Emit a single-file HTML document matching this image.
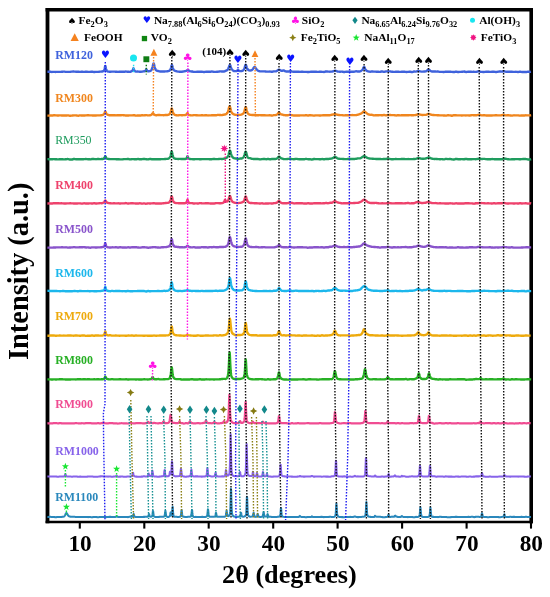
<!DOCTYPE html>
<html lang="en"><head><meta charset="utf-8"><title>XRD patterns of red mud calcined at different temperatures</title>
<style>html,body{margin:0;padding:0;background:#fff}body{width:550px;height:597px;overflow:hidden}svg{display:block}</style>
</head><body>
<svg width="550" height="597" viewBox="0 0 550 597" role="img" aria-label="XRD patterns">
<rect width="550" height="597" fill="#fff"/>
<g id="frame" stroke="#000" fill="none">
<line x1="47.5" y1="8" x2="47.5" y2="523.3" stroke-width="3.8"/>
<line x1="531.2" y1="8" x2="531.2" y2="523.3" stroke-width="3.6"/>
<line x1="45.6" y1="9.8" x2="533" y2="9.8" stroke-width="3.6"/>
<line x1="45.6" y1="522" x2="533" y2="522" stroke-width="2.6"/>
<line x1="79.8" y1="522" x2="79.8" y2="528.6" stroke-width="2.1"/>
<line x1="144.3" y1="522" x2="144.3" y2="528.6" stroke-width="2.1"/>
<line x1="208.7" y1="522" x2="208.7" y2="528.6" stroke-width="2.1"/>
<line x1="273.2" y1="522" x2="273.2" y2="528.6" stroke-width="2.1"/>
<line x1="337.6" y1="522" x2="337.6" y2="528.6" stroke-width="2.1"/>
<line x1="402.1" y1="522" x2="402.1" y2="528.6" stroke-width="2.1"/>
<line x1="466.6" y1="522" x2="466.6" y2="528.6" stroke-width="2.1"/>
<line x1="531.0" y1="522" x2="531.0" y2="528.6" stroke-width="2.1"/>
</g>
<g id="curves" fill="none" stroke-width="2.5" stroke-linejoin="round" stroke-linecap="butt">
<path d="M47.40 71.69 L48.15 71.68 L48.90 71.72 L49.65 71.76 L50.40 71.79 L51.15 71.88 L51.90 71.94 L52.65 71.92 L53.40 71.87 L54.15 71.86 L54.90 71.89 L55.65 71.93 L56.40 71.92 L57.15 71.87 L57.90 71.83 L58.65 71.84 L59.40 71.85 L60.15 71.85 L60.90 71.84 L61.65 71.82 L62.40 71.80 L63.15 71.67 L63.90 71.58 L64.65 71.66 L65.40 71.84 L66.15 71.91 L66.90 71.89 L67.65 71.87 L68.40 71.86 L69.15 71.86 L69.90 71.86 L70.65 71.79 L71.40 71.64 L72.15 71.58 L72.90 71.57 L73.65 71.57 L74.40 71.58 L75.15 71.64 L75.90 71.68 L76.65 71.69 L77.40 71.72 L78.15 71.74 L78.90 71.78 L79.65 71.83 L80.40 71.83 L81.15 71.81 L81.90 71.79 L82.65 71.81 L83.40 71.85 L84.15 71.86 L84.90 71.80 L85.65 71.72 L86.40 71.72 L87.15 71.78 L87.90 71.83 L88.65 71.83 L89.40 71.84 L90.15 71.84 L90.90 71.78 L91.65 71.71 L92.40 71.73 L93.15 71.89 L93.90 72.00 L94.65 71.96 L95.40 71.87 L96.15 71.84 L96.90 71.87 L97.65 71.90 L98.40 71.87 L99.15 71.74 L99.90 71.63 L100.65 71.59 L101.40 71.53 L102.15 71.45 L102.90 71.30 L103.15 71.21 L103.40 71.09 L103.65 70.92 L103.90 70.66 L104.15 70.26 L104.40 69.65 L104.65 68.71 L104.90 67.37 L105.15 66.06 L105.40 65.91 L105.65 67.09 L105.90 68.49 L106.15 69.52 L106.40 70.20 L106.65 70.64 L106.90 70.95 L107.15 71.16 L107.40 71.31 L107.65 71.43 L107.90 71.51 L108.15 71.57 L108.40 71.61 L108.65 71.64 L109.40 71.68 L110.15 71.71 L110.90 71.70 L111.65 71.67 L112.40 71.67 L113.15 71.65 L113.90 71.63 L114.65 71.64 L115.40 71.68 L116.15 71.70 L116.90 71.79 L117.65 71.91 L118.40 71.90 L119.15 71.76 L119.90 71.66 L120.65 71.69 L121.40 71.77 L122.15 71.80 L122.90 71.80 L123.65 71.81 L124.40 71.79 L125.15 71.66 L125.90 71.56 L126.65 71.60 L127.40 71.70 L128.15 71.73 L128.90 71.79 L129.65 71.84 L130.40 71.77 L131.15 71.46 L131.40 71.33 L131.65 71.20 L131.90 71.08 L132.15 70.93 L132.40 70.73 L132.65 70.41 L132.90 69.87 L133.15 69.08 L133.40 68.36 L133.65 68.49 L133.90 69.35 L134.15 70.13 L134.40 70.65 L134.65 70.98 L134.90 71.18 L135.15 71.32 L135.40 71.41 L135.65 71.48 L135.90 71.53 L136.15 71.56 L136.40 71.58 L136.65 71.58 L137.40 71.57 L138.15 71.57 L138.90 71.64 L139.65 71.73 L140.40 71.73 L141.15 71.68 L141.90 71.63 L142.65 71.56 L143.40 71.42 L144.15 71.29 L144.40 71.27 L144.65 71.25 L144.90 71.21 L145.15 71.12 L145.40 70.94 L145.65 70.59 L145.90 69.98 L146.15 69.25 L146.40 69.14 L146.65 69.78 L146.90 70.42 L147.15 70.82 L147.40 71.04 L147.65 71.16 L147.90 71.23 L148.15 71.26 L148.40 71.27 L148.65 71.26 L148.90 71.25 L149.15 71.22 L149.40 71.17 L149.65 71.11 L149.90 71.03 L150.15 70.93 L150.40 70.81 L150.65 70.66 L150.90 70.48 L151.15 70.26 L151.40 69.97 L151.65 69.60 L151.90 69.11 L152.15 68.49 L152.40 67.69 L152.65 66.71 L152.90 65.59 L153.15 64.48 L153.40 63.66 L153.65 63.43 L153.90 63.89 L154.15 64.84 L154.40 65.96 L154.65 67.01 L154.90 67.89 L155.15 68.60 L155.40 69.16 L155.65 69.60 L155.90 69.95 L156.15 70.23 L156.40 70.43 L156.65 70.58 L156.90 70.70 L157.15 70.78 L157.40 70.85 L157.65 70.91 L157.90 70.97 L158.15 71.03 L158.40 71.10 L158.65 71.18 L159.40 71.42 L160.15 71.54 L160.90 71.52 L161.65 71.47 L162.40 71.48 L163.15 71.49 L163.90 71.50 L164.65 71.47 L165.40 71.39 L166.15 71.33 L166.90 71.29 L167.65 71.21 L167.90 71.17 L168.15 71.11 L168.40 71.05 L168.65 70.98 L168.90 70.89 L169.15 70.78 L169.40 70.64 L169.65 70.45 L169.90 70.19 L170.15 69.86 L170.40 69.44 L170.65 68.89 L170.90 68.17 L171.15 67.27 L171.40 66.25 L171.65 65.37 L171.90 65.01 L172.15 65.38 L172.40 66.26 L172.65 67.26 L172.90 68.13 L173.15 68.81 L173.40 69.32 L173.65 69.71 L173.90 70.01 L174.15 70.27 L174.40 70.47 L174.65 70.64 L174.90 70.77 L175.15 70.89 L175.40 70.98 L175.65 71.06 L175.90 71.12 L176.15 71.17 L176.40 71.23 L177.15 71.44 L177.90 71.58 L178.65 71.66 L179.40 71.77 L180.15 71.82 L180.90 71.78 L181.65 71.73 L182.40 71.68 L183.15 71.50 L183.90 71.35 L184.15 71.34 L184.40 71.31 L184.65 71.28 L184.90 71.24 L185.15 71.19 L185.40 71.13 L185.65 71.06 L185.90 70.98 L186.15 70.89 L186.40 70.80 L186.65 70.68 L186.90 70.53 L187.15 70.33 L187.40 70.09 L187.65 69.87 L187.90 69.79 L188.15 69.90 L188.40 70.16 L188.65 70.44 L188.90 70.69 L189.15 70.89 L189.40 71.03 L189.65 71.14 L189.90 71.23 L190.15 71.30 L190.40 71.36 L190.65 71.40 L190.90 71.42 L191.15 71.44 L191.40 71.46 L191.65 71.47 L191.90 71.49 L192.15 71.50 L192.40 71.54 L193.15 71.71 L193.90 71.83 L194.65 71.84 L195.40 71.86 L196.15 71.87 L196.90 71.82 L197.65 71.76 L198.40 71.76 L199.15 71.77 L199.90 71.77 L200.65 71.78 L201.40 71.80 L202.15 71.80 L202.90 71.86 L203.65 71.94 L204.40 71.94 L205.15 71.87 L205.90 71.82 L206.65 71.82 L207.40 71.81 L208.15 71.81 L208.90 71.81 L209.65 71.80 L210.40 71.78 L211.15 71.63 L211.90 71.52 L212.65 71.60 L213.40 71.81 L214.15 71.88 L214.90 71.86 L215.65 71.83 L216.40 71.81 L217.15 71.77 L217.90 71.74 L218.65 71.64 L219.40 71.44 L220.15 71.36 L220.90 71.40 L221.65 71.46 L222.40 71.45 L223.15 71.49 L223.90 71.48 L224.65 71.29 L224.90 71.18 L225.15 71.06 L225.40 70.94 L225.65 70.83 L225.90 70.72 L226.15 70.63 L226.40 70.53 L226.65 70.43 L226.90 70.31 L227.15 70.16 L227.40 69.96 L227.65 69.70 L227.90 69.36 L228.15 68.94 L228.40 68.42 L228.65 67.82 L228.90 67.12 L229.15 66.37 L229.40 65.66 L229.65 65.13 L229.90 64.94 L230.15 65.13 L230.40 65.65 L230.65 66.34 L230.90 67.06 L231.15 67.72 L231.40 68.29 L231.65 68.77 L231.90 69.17 L232.15 69.52 L232.40 69.83 L232.65 70.11 L232.90 70.36 L233.15 70.58 L233.40 70.77 L233.65 70.92 L233.90 71.03 L234.15 71.10 L234.40 71.14 L234.65 71.16 L234.90 71.17 L235.15 71.16 L235.40 71.15 L235.65 71.13 L235.90 71.10 L236.15 71.07 L236.40 71.01 L236.65 70.92 L236.90 70.80 L237.15 70.63 L237.40 70.44 L237.65 70.26 L237.90 70.15 L238.15 70.16 L238.40 70.29 L238.65 70.48 L238.90 70.66 L239.15 70.81 L239.40 70.92 L239.65 71.00 L239.90 71.05 L240.15 71.08 L240.40 71.09 L240.65 71.10 L240.90 71.09 L241.15 71.08 L241.40 71.05 L241.65 71.01 L241.90 70.96 L242.15 70.88 L242.40 70.78 L242.65 70.66 L242.90 70.50 L243.15 70.31 L243.40 70.07 L243.65 69.77 L243.90 69.40 L244.15 68.93 L244.40 68.35 L244.65 67.63 L244.90 66.79 L245.15 65.89 L245.40 65.13 L245.65 64.75 L245.90 64.92 L246.15 65.56 L246.40 66.42 L246.65 67.28 L246.90 68.01 L247.15 68.60 L247.40 69.05 L247.65 69.40 L247.90 69.68 L248.15 69.90 L248.40 70.08 L248.65 70.21 L248.90 70.31 L249.15 70.38 L249.40 70.43 L249.65 70.46 L249.90 70.47 L250.15 70.46 L250.40 70.45 L250.65 70.43 L250.90 70.40 L251.15 70.35 L251.40 70.28 L251.65 70.17 L251.90 70.02 L252.15 69.83 L252.40 69.60 L252.65 69.32 L252.90 69.00 L253.15 68.64 L253.40 68.26 L253.65 67.87 L253.90 67.53 L254.15 67.25 L254.40 67.07 L254.65 67.01 L254.90 67.10 L255.15 67.31 L255.40 67.61 L255.65 67.96 L255.90 68.34 L256.15 68.70 L256.40 69.06 L256.65 69.40 L256.90 69.71 L257.15 69.99 L257.40 70.23 L257.65 70.43 L257.90 70.60 L258.15 70.73 L258.40 70.84 L258.65 70.95 L258.90 71.05 L259.15 71.14 L259.40 71.21 L259.65 71.28 L259.90 71.34 L260.15 71.38 L260.40 71.40 L260.65 71.40 L260.90 71.39 L261.15 71.37 L261.40 71.35 L261.65 71.34 L261.90 71.35 L262.15 71.36 L262.40 71.37 L263.15 71.35 L263.90 71.34 L264.65 71.41 L265.40 71.52 L266.15 71.57 L266.90 71.58 L267.65 71.58 L268.40 71.59 L269.15 71.58 L269.90 71.57 L270.65 71.61 L271.40 71.72 L272.15 71.75 L272.40 71.71 L272.65 71.66 L272.90 71.59 L273.15 71.52 L273.40 71.45 L273.65 71.39 L273.90 71.35 L274.15 71.33 L274.40 71.33 L274.65 71.35 L274.90 71.37 L275.15 71.39 L275.40 71.41 L275.65 71.40 L275.90 71.36 L276.15 71.29 L276.40 71.19 L276.65 71.06 L276.90 70.90 L277.15 70.72 L277.40 70.53 L277.65 70.34 L277.90 70.16 L278.15 70.00 L278.40 69.87 L278.65 69.77 L278.90 69.72 L279.15 69.73 L279.40 69.79 L279.65 69.90 L279.90 70.02 L280.15 70.16 L280.40 70.30 L280.65 70.44 L280.90 70.57 L281.15 70.67 L281.40 70.75 L281.65 70.80 L281.90 70.81 L282.15 70.78 L282.40 70.72 L282.65 70.65 L282.90 70.56 L283.15 70.47 L283.40 70.42 L283.65 70.43 L283.90 70.51 L284.15 70.64 L284.40 70.79 L284.65 70.94 L284.90 71.07 L285.15 71.18 L285.40 71.27 L285.65 71.34 L285.90 71.40 L286.15 71.45 L286.40 71.49 L286.65 71.51 L286.90 71.53 L287.15 71.53 L287.40 71.54 L287.65 71.54 L287.90 71.54 L288.15 71.53 L288.40 71.52 L288.65 71.50 L288.90 71.47 L289.15 71.42 L289.40 71.36 L290.15 71.13 L290.90 71.22 L291.65 71.48 L292.40 71.61 L293.15 71.70 L293.90 71.76 L294.65 71.75 L295.40 71.71 L296.15 71.70 L296.90 71.74 L297.65 71.77 L298.40 71.79 L299.15 71.81 L299.90 71.83 L300.65 71.81 L301.40 71.77 L302.15 71.76 L302.90 71.81 L303.65 71.86 L304.40 71.86 L305.15 71.85 L305.90 71.84 L306.65 71.89 L307.40 71.99 L308.15 72.03 L308.90 71.94 L309.65 71.83 L310.40 71.81 L311.15 71.76 L311.90 71.72 L312.65 71.72 L313.40 71.72 L314.15 71.73 L314.90 71.75 L315.65 71.77 L316.40 71.79 L317.15 71.85 L317.90 71.89 L318.65 71.86 L319.40 71.76 L320.15 71.73 L320.90 71.77 L321.65 71.81 L322.40 71.83 L323.15 71.93 L323.90 72.00 L324.65 71.86 L325.40 71.53 L326.15 71.41 L326.90 71.48 L327.65 71.56 L328.40 71.58 L329.15 71.65 L329.90 71.69 L330.65 71.65 L331.40 71.60 L332.15 71.51 L332.90 71.35 L333.65 71.11 L334.40 70.87 L335.15 70.78 L335.90 70.94 L336.65 71.21 L337.40 71.47 L338.15 71.61 L338.90 71.66 L339.65 71.68 L340.40 71.70 L341.15 71.67 L341.90 71.64 L342.65 71.74 L343.40 71.96 L344.15 72.05 L344.90 71.94 L345.65 71.81 L346.40 71.78 L347.15 71.71 L347.90 71.67 L348.65 71.68 L349.40 71.71 L350.15 71.72 L350.90 71.71 L351.65 71.70 L352.40 71.69 L353.15 71.69 L353.90 71.69 L354.65 71.59 L355.40 71.38 L356.15 71.29 L356.90 71.38 L357.65 71.48 L358.40 71.46 L358.65 71.47 L358.90 71.47 L359.15 71.48 L359.40 71.48 L359.65 71.46 L359.90 71.42 L360.15 71.36 L360.40 71.27 L360.65 71.15 L360.90 71.01 L361.15 70.84 L361.40 70.65 L361.65 70.44 L361.90 70.22 L362.15 69.96 L362.40 69.67 L362.65 69.31 L362.90 68.89 L363.15 68.40 L363.40 67.88 L363.65 67.41 L363.90 67.08 L364.15 66.99 L364.40 67.20 L364.65 67.63 L364.90 68.18 L365.15 68.75 L365.40 69.26 L365.65 69.70 L365.90 70.06 L366.15 70.35 L366.40 70.58 L366.65 70.77 L366.90 70.92 L367.15 71.04 L367.40 71.15 L367.65 71.24 L367.90 71.31 L368.15 71.37 L368.40 71.43 L368.65 71.49 L368.90 71.55 L369.15 71.60 L369.40 71.64 L369.65 71.68 L369.90 71.71 L370.15 71.73 L370.90 71.61 L371.65 71.43 L372.40 71.45 L373.15 71.56 L373.90 71.64 L374.65 71.66 L375.40 71.67 L376.15 71.68 L376.90 71.74 L377.65 71.80 L378.40 71.82 L379.15 71.86 L379.90 71.88 L380.65 71.77 L381.40 71.49 L382.15 71.40 L382.90 71.59 L383.65 71.83 L384.40 71.82 L385.15 71.62 L385.90 71.44 L386.65 71.40 L387.40 71.39 L388.15 71.37 L388.90 71.40 L389.65 71.40 L390.40 71.48 L391.15 71.64 L391.90 71.75 L392.65 71.79 L393.40 71.88 L394.15 71.91 L394.90 71.84 L395.65 71.76 L396.40 71.75 L397.15 71.78 L397.90 71.80 L398.65 71.82 L399.40 71.86 L400.15 71.88 L400.90 71.84 L401.65 71.80 L402.40 71.79 L403.15 71.77 L403.90 71.76 L404.65 71.81 L405.40 71.92 L406.15 71.97 L406.90 71.94 L407.65 71.90 L408.40 71.88 L409.15 71.78 L409.90 71.71 L410.65 71.80 L411.40 72.01 L412.15 72.07 L412.90 71.85 L413.65 71.57 L414.40 71.53 L415.15 71.61 L415.90 71.62 L416.65 71.44 L417.40 71.14 L418.15 70.92 L418.90 71.02 L419.65 71.27 L420.40 71.44 L421.15 71.57 L421.90 71.64 L422.65 71.64 L422.90 71.62 L423.15 71.61 L423.40 71.59 L423.65 71.57 L423.90 71.55 L424.15 71.54 L424.40 71.52 L424.65 71.50 L424.90 71.48 L425.15 71.45 L425.40 71.41 L425.65 71.37 L425.90 71.30 L426.15 71.21 L426.40 71.09 L426.65 70.93 L426.90 70.73 L427.15 70.49 L427.40 70.24 L427.65 69.99 L427.90 69.76 L428.15 69.58 L428.40 69.49 L428.65 69.50 L428.90 69.62 L429.15 69.80 L429.40 70.02 L429.65 70.24 L429.90 70.44 L430.15 70.61 L430.40 70.78 L430.65 70.94 L430.90 71.09 L431.15 71.23 L431.40 71.35 L431.65 71.44 L431.90 71.51 L432.15 71.55 L432.40 71.57 L432.65 71.57 L432.90 71.55 L433.15 71.54 L433.40 71.52 L433.65 71.51 L433.90 71.51 L434.15 71.52 L434.40 71.53 L434.65 71.54 L434.90 71.55 L435.65 71.57 L436.40 71.58 L437.15 71.56 L437.90 71.55 L438.65 71.64 L439.40 71.84 L440.15 71.92 L440.90 71.90 L441.65 71.87 L442.40 71.88 L443.15 71.93 L443.90 71.97 L444.65 71.89 L445.40 71.72 L446.15 71.66 L446.90 71.71 L447.65 71.77 L448.40 71.77 L449.15 71.69 L449.90 71.64 L450.65 71.70 L451.40 71.84 L452.15 71.89 L452.90 71.93 L453.65 71.99 L454.40 71.96 L455.15 71.80 L455.90 71.68 L456.65 71.75 L457.40 71.93 L458.15 71.99 L458.90 71.96 L459.65 71.92 L460.40 71.90 L461.15 71.83 L461.90 71.77 L462.65 71.71 L463.40 71.58 L464.15 71.54 L464.90 71.72 L465.65 71.94 L466.40 71.95 L467.15 71.85 L467.90 71.78 L468.65 71.76 L469.40 71.72 L470.15 71.71 L470.90 71.76 L471.65 71.82 L472.40 71.83 L473.15 71.82 L473.90 71.82 L474.65 71.84 L475.40 71.90 L476.15 71.90 L476.90 71.72 L477.65 71.47 L478.40 71.32 L479.15 71.34 L479.90 71.55 L480.65 71.72 L481.40 71.84 L482.15 71.90 L482.90 71.93 L483.65 71.94 L484.40 71.93 L485.15 71.83 L485.90 71.75 L486.65 71.74 L487.40 71.70 L488.15 71.69 L488.90 71.79 L489.65 71.90 L490.40 71.91 L491.15 71.85 L491.90 71.80 L492.65 71.80 L493.40 71.80 L494.15 71.81 L494.90 71.87 L495.65 71.96 L496.40 71.95 L497.15 71.83 L497.90 71.74 L498.65 71.67 L499.40 71.51 L500.15 71.45 L500.90 71.52 L501.65 71.60 L502.40 71.50 L503.15 71.27 L503.90 71.18 L504.65 71.39 L505.40 71.69 L506.15 71.81 L506.90 71.82 L507.65 71.80 L508.40 71.80 L509.15 71.74 L509.90 71.70 L510.65 71.72 L511.40 71.77 L512.15 71.79 L512.90 71.84 L513.65 71.89 L514.40 71.89 L515.15 71.84 L515.90 71.81 L516.65 71.84 L517.40 71.93 L518.15 71.97 L518.90 71.89 L519.65 71.80 L520.40 71.80 L521.15 71.88 L521.90 71.93 L522.65 71.95 L523.40 71.98 L524.15 71.99 L524.90 72.00 L525.65 72.01 L526.40 71.98 L527.15 71.82 L527.90 71.71 L528.65 71.76 L529.40 71.87 L530.15 71.91 L530.90 71.76" stroke="#3f62dc" stroke-width="2.40"/>
<path d="M47.40 115.59 L48.15 115.61 L48.90 115.58 L49.65 115.53 L50.40 115.53 L51.15 115.53 L51.90 115.53 L52.65 115.47 L53.40 115.31 L54.15 115.26 L54.90 115.31 L55.65 115.37 L56.40 115.39 L57.15 115.45 L57.90 115.49 L58.65 115.46 L59.40 115.39 L60.15 115.36 L60.90 115.43 L61.65 115.52 L62.40 115.53 L63.15 115.50 L63.90 115.48 L64.65 115.48 L65.40 115.51 L66.15 115.51 L66.90 115.45 L67.65 115.38 L68.40 115.40 L69.15 115.59 L69.90 115.73 L70.65 115.69 L71.40 115.59 L72.15 115.55 L72.90 115.48 L73.65 115.38 L74.40 115.37 L75.15 115.39 L75.90 115.41 L76.65 115.48 L77.40 115.66 L78.15 115.73 L78.90 115.57 L79.65 115.38 L80.40 115.36 L81.15 115.45 L81.90 115.50 L82.65 115.51 L83.40 115.52 L84.15 115.52 L84.90 115.46 L85.65 115.40 L86.40 115.37 L87.15 115.29 L87.90 115.24 L88.65 115.28 L89.40 115.37 L90.15 115.41 L90.90 115.41 L91.65 115.42 L92.40 115.43 L93.15 115.48 L93.90 115.51 L94.65 115.50 L95.40 115.47 L96.15 115.45 L96.90 115.40 L97.65 115.34 L98.40 115.33 L99.15 115.36 L99.90 115.37 L100.65 115.31 L101.40 115.22 L101.65 115.18 L101.90 115.13 L102.15 115.08 L102.40 115.02 L102.65 114.93 L102.90 114.83 L103.15 114.70 L103.40 114.53 L103.65 114.31 L103.90 114.03 L104.15 113.66 L104.40 113.18 L104.65 112.61 L104.90 112.02 L105.15 111.59 L105.40 111.55 L105.65 111.90 L105.90 112.47 L106.15 113.06 L106.40 113.55 L106.65 113.94 L106.90 114.22 L107.15 114.44 L107.40 114.60 L107.65 114.73 L107.90 114.83 L108.15 114.91 L108.40 114.98 L108.65 115.05 L108.90 115.12 L109.15 115.17 L109.40 115.23 L109.65 115.27 L109.90 115.30 L110.65 115.29 L111.40 115.20 L112.15 115.17 L112.90 115.21 L113.65 115.25 L114.40 115.27 L115.15 115.32 L115.90 115.36 L116.65 115.32 L117.40 115.22 L118.15 115.18 L118.90 115.24 L119.65 115.31 L120.40 115.30 L121.15 115.20 L121.90 115.12 L122.65 115.16 L123.40 115.26 L124.15 115.30 L124.90 115.36 L125.65 115.45 L126.40 115.46 L127.15 115.46 L127.90 115.46 L128.65 115.44 L129.40 115.39 L130.15 115.38 L130.90 115.37 L131.65 115.36 L132.40 115.34 L133.15 115.26 L133.90 115.20 L134.65 115.30 L135.40 115.53 L136.15 115.62 L136.90 115.55 L137.65 115.46 L138.40 115.45 L139.15 115.49 L139.90 115.52 L140.65 115.45 L141.40 115.31 L142.15 115.26 L142.90 115.29 L143.65 115.33 L144.40 115.31 L145.15 115.20 L145.90 115.11 L146.65 115.18 L147.40 115.35 L148.15 115.40 L148.90 115.37 L149.15 115.36 L149.40 115.34 L149.65 115.32 L149.90 115.30 L150.15 115.26 L150.40 115.19 L150.65 115.08 L150.90 114.95 L151.15 114.79 L151.40 114.61 L151.65 114.41 L151.90 114.18 L152.15 113.93 L152.40 113.65 L152.65 113.39 L152.90 113.25 L153.15 113.32 L153.40 113.57 L153.65 113.91 L153.90 114.22 L154.15 114.46 L154.40 114.66 L154.65 114.81 L154.90 114.94 L155.15 115.04 L155.40 115.11 L155.65 115.17 L155.90 115.22 L156.15 115.25 L156.40 115.24 L156.65 115.22 L156.90 115.18 L157.15 115.13 L157.40 115.09 L157.65 115.06 L158.40 115.05 L159.15 115.06 L159.90 115.06 L160.65 115.08 L161.40 115.14 L162.15 115.15 L162.90 115.16 L163.65 115.18 L164.40 115.15 L165.15 115.06 L165.90 114.98 L166.65 114.96 L167.40 114.96 L167.65 114.94 L167.90 114.90 L168.15 114.83 L168.40 114.76 L168.65 114.66 L168.90 114.55 L169.15 114.40 L169.40 114.22 L169.65 113.97 L169.90 113.65 L170.15 113.23 L170.40 112.67 L170.65 111.95 L170.90 111.02 L171.15 109.97 L171.40 108.99 L171.65 108.48 L171.90 108.71 L172.15 109.56 L172.40 110.64 L172.65 111.64 L172.90 112.45 L173.15 113.08 L173.40 113.55 L173.65 113.91 L173.90 114.19 L174.15 114.40 L174.40 114.57 L174.65 114.72 L174.90 114.84 L175.15 114.95 L175.40 115.04 L175.65 115.11 L175.90 115.17 L176.15 115.21 L176.40 115.24 L177.15 115.30 L177.90 115.34 L178.65 115.30 L179.40 115.14 L180.15 115.10 L180.90 115.15 L181.65 115.21 L182.40 115.21 L183.15 115.17 L183.90 115.12 L184.65 115.08 L184.90 115.06 L185.15 115.03 L185.40 114.99 L185.65 114.94 L185.90 114.86 L186.15 114.75 L186.40 114.59 L186.65 114.34 L186.90 113.95 L187.15 113.42 L187.40 112.97 L187.65 113.05 L187.90 113.59 L188.15 114.13 L188.40 114.51 L188.65 114.75 L188.90 114.92 L189.15 115.02 L189.40 115.10 L189.65 115.15 L189.90 115.19 L190.15 115.22 L190.40 115.25 L190.65 115.28 L191.40 115.35 L192.15 115.38 L192.90 115.28 L193.65 115.15 L194.40 115.14 L195.15 115.17 L195.90 115.19 L196.65 115.23 L197.40 115.32 L198.15 115.35 L198.90 115.34 L199.65 115.33 L200.40 115.33 L201.15 115.32 L201.90 115.31 L202.65 115.32 L203.40 115.34 L204.15 115.34 L204.90 115.30 L205.65 115.26 L206.40 115.27 L207.15 115.36 L207.90 115.43 L208.65 115.42 L209.40 115.39 L210.15 115.38 L210.90 115.35 L211.65 115.32 L212.40 115.30 L213.15 115.26 L213.90 115.22 L214.65 115.23 L215.40 115.25 L216.15 115.25 L216.90 115.10 L217.65 114.92 L218.40 114.90 L219.15 115.00 L219.90 115.05 L220.65 115.05 L221.40 115.08 L222.15 115.05 L222.90 114.90 L223.65 114.70 L224.40 114.56 L224.65 114.53 L224.90 114.50 L225.15 114.46 L225.40 114.41 L225.65 114.33 L225.90 114.22 L226.15 114.07 L226.40 113.89 L226.65 113.67 L226.90 113.41 L227.15 113.09 L227.40 112.70 L227.65 112.23 L227.90 111.64 L228.15 110.93 L228.40 110.07 L228.65 109.08 L228.90 108.02 L229.15 107.05 L229.40 106.38 L229.65 106.19 L229.90 106.54 L230.15 107.32 L230.40 108.32 L230.65 109.34 L230.90 110.29 L231.15 111.11 L231.40 111.78 L231.65 112.34 L231.90 112.78 L232.15 113.14 L232.40 113.43 L232.65 113.66 L232.90 113.86 L233.15 114.02 L233.40 114.15 L233.65 114.27 L233.90 114.37 L234.15 114.45 L234.40 114.53 L234.65 114.60 L234.90 114.67 L235.15 114.74 L235.40 114.80 L235.65 114.84 L236.40 114.93 L237.15 114.98 L237.90 115.00 L238.65 114.98 L239.40 114.90 L240.15 114.82 L240.90 114.66 L241.15 114.59 L241.40 114.51 L241.65 114.43 L241.90 114.34 L242.15 114.24 L242.40 114.12 L242.65 113.98 L242.90 113.81 L243.15 113.60 L243.40 113.33 L243.65 112.99 L243.90 112.54 L244.15 111.97 L244.40 111.26 L244.65 110.38 L244.90 109.37 L245.15 108.33 L245.40 107.45 L245.65 107.03 L245.90 107.22 L246.15 107.95 L246.40 108.98 L246.65 110.04 L246.90 111.00 L247.15 111.80 L247.40 112.45 L247.65 112.97 L247.90 113.37 L248.15 113.69 L248.40 113.94 L248.65 114.14 L248.90 114.29 L249.15 114.42 L249.40 114.53 L249.65 114.62 L249.90 114.70 L250.15 114.77 L250.40 114.82 L250.65 114.85 L250.90 114.87 L251.15 114.88 L251.90 114.93 L252.65 114.98 L253.40 114.98 L254.15 115.00 L254.90 115.08 L255.65 115.17 L256.40 115.19 L257.15 115.18 L257.90 115.18 L258.65 115.18 L259.40 115.16 L260.15 115.16 L260.90 115.22 L261.65 115.29 L262.40 115.29 L263.15 115.27 L263.90 115.25 L264.65 115.27 L265.40 115.32 L266.15 115.33 L266.90 115.35 L267.65 115.38 L268.40 115.37 L269.15 115.30 L269.90 115.24 L270.65 115.32 L271.40 115.50 L272.15 115.55 L272.90 115.38 L273.65 115.17 L273.90 115.13 L274.15 115.11 L274.40 115.10 L274.65 115.10 L274.90 115.10 L275.15 115.10 L275.40 115.09 L275.65 115.07 L275.90 115.02 L276.15 114.94 L276.40 114.84 L276.65 114.72 L276.90 114.56 L277.15 114.37 L277.40 114.14 L277.65 113.87 L277.90 113.56 L278.15 113.22 L278.40 112.88 L278.65 112.60 L278.90 112.46 L279.15 112.50 L279.40 112.72 L279.65 113.05 L279.90 113.41 L280.15 113.74 L280.40 114.00 L280.65 114.17 L280.90 114.29 L281.15 114.36 L281.40 114.41 L281.65 114.45 L281.90 114.51 L282.15 114.58 L282.40 114.65 L282.65 114.73 L282.90 114.81 L283.15 114.88 L283.40 114.95 L283.65 115.00 L283.90 115.04 L284.15 115.06 L284.40 115.08 L284.65 115.11 L285.40 115.21 L286.15 115.24 L286.90 115.24 L287.65 115.22 L288.40 115.12 L289.15 114.95 L289.90 114.65 L290.65 114.87 L291.40 115.09 L292.15 115.21 L292.90 115.34 L293.65 115.44 L294.40 115.47 L295.15 115.45 L295.90 115.44 L296.65 115.45 L297.40 115.47 L298.15 115.48 L298.90 115.46 L299.65 115.43 L300.40 115.42 L301.15 115.38 L301.90 115.35 L302.65 115.37 L303.40 115.42 L304.15 115.43 L304.90 115.34 L305.65 115.24 L306.40 115.26 L307.15 115.41 L307.90 115.52 L308.65 115.45 L309.40 115.29 L310.15 115.24 L310.90 115.30 L311.65 115.39 L312.40 115.42 L313.15 115.55 L313.90 115.64 L314.65 115.56 L315.40 115.39 L316.15 115.33 L316.90 115.34 L317.65 115.35 L318.40 115.37 L319.15 115.44 L319.90 115.49 L320.65 115.46 L321.40 115.37 L322.15 115.33 L322.90 115.28 L323.65 115.22 L324.40 115.21 L325.15 115.28 L325.90 115.31 L326.65 115.31 L326.90 115.31 L327.15 115.31 L327.40 115.31 L327.65 115.31 L327.90 115.30 L328.15 115.29 L328.40 115.28 L328.65 115.27 L328.90 115.26 L329.15 115.25 L329.40 115.23 L329.65 115.22 L329.90 115.20 L330.15 115.17 L330.40 115.13 L330.65 115.07 L330.90 115.00 L331.15 114.93 L331.40 114.85 L331.65 114.78 L331.90 114.71 L332.15 114.65 L332.40 114.61 L332.65 114.57 L332.90 114.55 L333.15 114.51 L333.40 114.47 L333.65 114.41 L333.90 114.32 L334.15 114.23 L334.40 114.15 L334.65 114.10 L334.90 114.08 L335.15 114.10 L335.40 114.14 L335.65 114.22 L335.90 114.31 L336.15 114.41 L336.40 114.50 L336.65 114.57 L336.90 114.62 L337.15 114.67 L337.40 114.71 L337.65 114.75 L337.90 114.80 L338.15 114.85 L338.40 114.90 L338.65 114.95 L338.90 114.99 L339.15 115.03 L339.40 115.06 L339.65 115.09 L339.90 115.12 L340.15 115.13 L340.40 115.14 L340.65 115.15 L340.90 115.14 L341.15 115.14 L341.40 115.13 L341.65 115.13 L341.90 115.13 L342.15 115.14 L342.40 115.17 L342.65 115.21 L342.90 115.26 L343.15 115.31 L343.40 115.35 L343.65 115.39 L343.90 115.41 L344.65 115.35 L345.40 115.20 L346.15 115.15 L346.90 115.22 L347.65 115.31 L348.40 115.30 L349.15 115.21 L349.90 115.14 L350.65 115.12 L351.40 115.09 L352.15 115.06 L352.90 115.11 L353.65 115.17 L353.90 115.17 L354.15 115.16 L354.40 115.15 L354.65 115.15 L354.90 115.15 L355.15 115.14 L355.40 115.14 L355.65 115.13 L355.90 115.11 L356.15 115.08 L356.40 115.04 L356.65 114.99 L356.90 114.92 L357.15 114.86 L357.40 114.79 L357.65 114.72 L357.90 114.67 L358.15 114.61 L358.40 114.55 L358.65 114.48 L358.90 114.40 L359.15 114.31 L359.40 114.21 L359.65 114.11 L359.90 114.01 L360.15 113.90 L360.40 113.79 L360.65 113.69 L360.90 113.58 L361.15 113.45 L361.40 113.31 L361.65 113.14 L361.90 112.95 L362.15 112.74 L362.40 112.50 L362.65 112.27 L362.90 112.03 L363.15 111.81 L363.40 111.62 L363.65 111.48 L363.90 111.40 L364.15 111.38 L364.40 111.43 L364.65 111.53 L364.90 111.68 L365.15 111.87 L365.40 112.09 L365.65 112.31 L365.90 112.54 L366.15 112.76 L366.40 112.99 L366.65 113.21 L366.90 113.42 L367.15 113.63 L367.40 113.81 L367.65 113.97 L367.90 114.11 L368.15 114.23 L368.40 114.33 L368.65 114.42 L368.90 114.49 L369.15 114.56 L369.40 114.62 L369.65 114.68 L369.90 114.73 L370.15 114.78 L370.40 114.81 L370.65 114.83 L370.90 114.83 L371.15 114.82 L371.40 114.82 L371.65 114.82 L371.90 114.83 L372.15 114.86 L372.40 114.92 L372.65 114.99 L372.90 115.08 L373.15 115.17 L373.40 115.25 L373.65 115.32 L373.90 115.36 L374.15 115.37 L374.40 115.36 L374.65 115.33 L374.90 115.29 L375.15 115.24 L375.90 115.16 L376.65 115.20 L377.40 115.28 L378.15 115.31 L378.90 115.25 L379.65 115.17 L380.40 115.17 L381.15 115.22 L381.90 115.25 L382.65 115.20 L383.40 115.07 L384.15 115.02 L384.90 115.18 L385.65 115.37 L386.40 115.31 L387.15 115.14 L387.90 115.01 L388.65 115.01 L389.40 114.98 L390.15 115.01 L390.90 115.06 L391.65 115.08 L392.40 115.09 L393.15 115.10 L393.90 115.10 L394.65 115.20 L395.40 115.41 L396.15 115.48 L396.90 115.40 L397.65 115.29 L398.40 115.28 L399.15 115.31 L399.90 115.33 L400.65 115.33 L401.40 115.31 L402.15 115.30 L402.90 115.31 L403.65 115.32 L404.40 115.31 L405.15 115.24 L405.90 115.19 L406.65 115.22 L407.40 115.29 L408.15 115.31 L408.90 115.23 L409.65 115.12 L410.40 115.11 L411.15 115.19 L411.90 115.23 L412.65 115.21 L413.40 115.20 L414.15 115.15 L414.90 115.08 L415.65 114.97 L416.40 114.79 L417.15 114.53 L417.90 114.32 L418.65 114.28 L419.40 114.38 L420.15 114.56 L420.40 114.63 L420.65 114.70 L420.90 114.76 L421.15 114.83 L421.40 114.88 L421.65 114.93 L421.90 114.96 L422.15 114.97 L422.40 114.98 L422.65 114.97 L422.90 114.96 L423.15 114.94 L423.40 114.92 L423.65 114.90 L423.90 114.88 L424.15 114.88 L424.40 114.88 L424.65 114.89 L424.90 114.91 L425.15 114.92 L425.40 114.92 L425.65 114.90 L425.90 114.86 L426.15 114.79 L426.40 114.70 L426.65 114.60 L426.90 114.48 L427.15 114.36 L427.40 114.24 L427.65 114.13 L427.90 114.04 L428.15 113.98 L428.40 113.94 L428.65 113.93 L428.90 113.95 L429.15 114.00 L429.40 114.07 L429.65 114.15 L429.90 114.25 L430.15 114.36 L430.40 114.45 L430.65 114.54 L430.90 114.61 L431.15 114.68 L431.40 114.74 L431.65 114.79 L431.90 114.84 L432.15 114.88 L432.40 114.92 L432.65 114.95 L432.90 114.98 L433.15 115.00 L433.40 115.02 L433.65 115.04 L433.90 115.06 L434.15 115.07 L434.40 115.09 L434.65 115.10 L434.90 115.10 L435.15 115.11 L435.40 115.12 L435.65 115.12 L435.90 115.13 L436.15 115.14 L436.40 115.15 L436.65 115.17 L436.90 115.19 L437.15 115.21 L437.40 115.23 L438.15 115.26 L438.90 115.31 L439.65 115.36 L440.40 115.38 L441.15 115.40 L441.90 115.41 L442.65 115.42 L443.40 115.43 L444.15 115.44 L444.90 115.52 L445.65 115.62 L446.40 115.61 L447.15 115.42 L447.90 115.28 L448.65 115.30 L449.40 115.36 L450.15 115.38 L450.90 115.53 L451.65 115.72 L452.40 115.69 L453.15 115.37 L453.90 115.14 L454.65 115.18 L455.40 115.28 L456.15 115.32 L456.90 115.35 L457.65 115.40 L458.40 115.41 L459.15 115.41 L459.90 115.41 L460.65 115.41 L461.40 115.43 L462.15 115.44 L462.90 115.40 L463.65 115.36 L464.40 115.36 L465.15 115.40 L465.90 115.43 L466.65 115.42 L467.40 115.40 L468.15 115.39 L468.90 115.43 L469.65 115.47 L470.40 115.45 L471.15 115.26 L471.90 115.13 L472.65 115.16 L473.40 115.22 L474.15 115.24 L474.90 115.28 L475.65 115.32 L476.40 115.29 L477.15 115.17 L477.90 115.03 L478.65 114.88 L479.40 114.76 L480.15 114.84 L480.90 115.08 L481.65 115.30 L482.40 115.35 L483.15 115.30 L483.90 115.26 L484.65 115.31 L485.40 115.41 L486.15 115.45 L486.90 115.46 L487.65 115.47 L488.40 115.47 L489.15 115.44 L489.90 115.42 L490.65 115.43 L491.40 115.45 L492.15 115.45 L492.90 115.42 L493.65 115.38 L494.40 115.35 L495.15 115.26 L495.90 115.20 L496.65 115.23 L497.40 115.33 L498.15 115.36 L498.90 115.37 L499.65 115.39 L500.40 115.35 L501.15 115.24 L501.90 115.11 L502.65 114.99 L503.40 114.88 L504.15 114.95 L504.90 115.15 L505.65 115.31 L506.40 115.36 L507.15 115.29 L507.90 115.23 L508.65 115.29 L509.40 115.41 L510.15 115.46 L510.90 115.53 L511.65 115.61 L512.40 115.60 L513.15 115.44 L513.90 115.32 L514.65 115.34 L515.40 115.39 L516.15 115.41 L516.90 115.40 L517.65 115.38 L518.40 115.40 L519.15 115.51 L519.90 115.59 L520.65 115.56 L521.40 115.47 L522.15 115.44 L522.90 115.47 L523.65 115.51 L524.40 115.49 L525.15 115.39 L525.90 115.31 L526.65 115.33 L527.40 115.38 L528.15 115.40 L528.90 115.40 L529.65 115.40 L530.40 115.37 L531.15 115.26" stroke="#f0861e" stroke-width="2.40"/>
<path d="M47.40 159.14 L48.15 159.15 L48.90 159.22 L49.65 159.30 L50.40 159.30 L51.15 159.25 L51.90 159.21 L52.65 159.20 L53.40 159.16 L54.15 159.15 L54.90 159.20 L55.65 159.26 L56.40 159.28 L57.15 159.35 L57.90 159.40 L58.65 159.36 L59.40 159.24 L60.15 159.20 L60.90 159.22 L61.65 159.24 L62.40 159.26 L63.15 159.32 L63.90 159.36 L64.65 159.33 L65.40 159.26 L66.15 159.23 L66.90 159.15 L67.65 159.05 L68.40 159.08 L69.15 159.33 L69.90 159.52 L70.65 159.51 L71.40 159.49 L72.15 159.48 L72.90 159.26 L73.65 158.98 L74.40 158.96 L75.15 159.10 L75.90 159.19 L76.65 159.21 L77.40 159.24 L78.15 159.25 L78.90 159.28 L79.65 159.32 L80.40 159.32 L81.15 159.30 L81.90 159.28 L82.65 159.25 L83.40 159.19 L84.15 159.16 L84.90 159.12 L85.65 159.07 L86.40 159.07 L87.15 159.15 L87.90 159.21 L88.65 159.24 L89.40 159.30 L90.15 159.32 L90.90 159.21 L91.65 159.07 L92.40 159.05 L93.15 159.05 L93.90 159.05 L94.65 159.08 L95.40 159.15 L96.15 159.18 L96.90 159.07 L97.65 158.94 L98.40 158.94 L99.15 159.04 L99.90 159.11 L100.65 159.09 L101.40 159.05 L102.15 159.00 L102.40 158.98 L102.65 158.97 L102.90 158.95 L103.15 158.92 L103.40 158.86 L103.65 158.78 L103.90 158.64 L104.15 158.42 L104.40 158.08 L104.65 157.58 L104.90 156.91 L105.15 156.29 L105.40 156.20 L105.65 156.70 L105.90 157.35 L106.15 157.87 L106.40 158.22 L106.65 158.45 L106.90 158.60 L107.15 158.70 L107.40 158.78 L107.65 158.83 L107.90 158.87 L108.15 158.91 L108.40 158.94 L108.65 158.97 L109.40 159.05 L110.15 159.09 L110.90 159.12 L111.65 159.15 L112.40 159.15 L113.15 159.12 L113.90 159.09 L114.65 159.11 L115.40 159.17 L116.15 159.19 L116.90 159.23 L117.65 159.28 L118.40 159.29 L119.15 159.32 L119.90 159.34 L120.65 159.36 L121.40 159.40 L122.15 159.41 L122.90 159.28 L123.65 159.11 L124.40 159.09 L125.15 159.12 L125.90 159.14 L126.65 159.07 L127.40 158.93 L128.15 158.88 L128.90 159.11 L129.65 159.40 L130.40 159.41 L131.15 159.23 L131.90 159.10 L132.65 159.12 L133.40 159.17 L134.15 159.19 L134.90 159.22 L135.65 159.25 L136.40 159.24 L137.15 159.11 L137.90 159.02 L138.65 159.07 L139.40 159.20 L140.15 159.25 L140.90 159.22 L141.65 159.19 L142.40 159.16 L143.15 159.04 L143.90 158.95 L144.65 159.02 L145.40 159.17 L146.15 159.23 L146.90 159.27 L147.65 159.33 L148.40 159.30 L149.15 159.09 L149.90 158.94 L150.65 159.02 L151.40 159.21 L152.15 159.28 L152.90 159.25 L153.65 159.21 L154.40 159.20 L155.15 159.22 L155.90 159.23 L156.65 159.22 L157.40 159.22 L158.15 159.21 L158.90 159.25 L159.65 159.30 L160.40 159.28 L161.15 159.17 L161.90 159.08 L162.65 159.10 L163.40 159.16 L164.15 159.17 L164.90 159.06 L165.65 158.94 L166.40 158.87 L167.15 158.85 L167.90 158.76 L168.15 158.68 L168.40 158.58 L168.65 158.44 L168.90 158.28 L169.15 158.07 L169.40 157.83 L169.65 157.54 L169.90 157.17 L170.15 156.71 L170.40 156.11 L170.65 155.32 L170.90 154.33 L171.15 153.19 L171.40 152.14 L171.65 151.59 L171.90 151.84 L172.15 152.77 L172.40 153.95 L172.65 155.07 L172.90 156.00 L173.15 156.72 L173.40 157.28 L173.65 157.70 L173.90 158.01 L174.15 158.24 L174.40 158.41 L174.65 158.52 L174.90 158.61 L175.15 158.67 L175.40 158.72 L175.65 158.76 L175.90 158.80 L176.15 158.84 L176.40 158.88 L177.15 158.92 L177.90 158.95 L178.65 158.96 L179.40 158.91 L180.15 158.91 L180.90 158.94 L181.65 158.97 L182.40 158.98 L183.15 159.04 L183.90 159.06 L184.65 159.04 L184.90 159.03 L185.15 159.01 L185.40 158.98 L185.65 158.92 L185.90 158.83 L186.15 158.69 L186.40 158.47 L186.65 158.13 L186.90 157.60 L187.15 156.89 L187.40 156.29 L187.65 156.36 L187.90 157.02 L188.15 157.69 L188.40 158.16 L188.65 158.47 L188.90 158.67 L189.15 158.81 L189.40 158.90 L189.65 158.97 L189.90 159.02 L190.15 159.05 L190.40 159.07 L190.65 159.09 L191.40 159.09 L192.15 159.10 L192.90 159.19 L193.65 159.29 L194.40 159.29 L195.15 159.18 L195.90 159.10 L196.65 159.09 L197.40 159.08 L198.15 159.08 L198.90 159.16 L199.65 159.26 L200.40 159.26 L201.15 159.20 L201.90 159.16 L202.65 159.15 L203.40 159.13 L204.15 159.12 L204.90 159.10 L205.65 159.08 L206.40 159.08 L207.15 159.10 L207.90 159.11 L208.65 159.14 L209.40 159.20 L210.15 159.22 L210.90 159.20 L211.65 159.18 L212.40 159.15 L213.15 159.04 L213.90 158.95 L214.65 159.00 L215.40 159.11 L216.15 159.14 L216.90 159.12 L217.65 159.09 L218.40 159.05 L219.15 158.95 L219.90 158.87 L220.65 158.89 L221.40 158.98 L222.15 158.98 L222.90 158.86 L223.65 158.70 L224.40 158.57 L224.65 158.52 L224.90 158.46 L225.15 158.39 L225.40 158.31 L225.65 158.22 L225.90 158.12 L226.15 158.00 L226.40 157.87 L226.65 157.72 L226.90 157.55 L227.15 157.33 L227.40 157.06 L227.65 156.72 L227.90 156.28 L228.15 155.73 L228.40 155.07 L228.65 154.28 L228.90 153.37 L229.15 152.39 L229.40 151.46 L229.65 150.77 L229.90 150.51 L230.15 150.77 L230.40 151.44 L230.65 152.34 L230.90 153.29 L231.15 154.15 L231.40 154.90 L231.65 155.53 L231.90 156.06 L232.15 156.51 L232.40 156.88 L232.65 157.19 L232.90 157.46 L233.15 157.69 L233.40 157.88 L233.65 158.04 L233.90 158.16 L234.15 158.26 L234.40 158.33 L234.65 158.37 L234.90 158.40 L235.15 158.42 L235.40 158.44 L235.65 158.45 L235.90 158.48 L236.65 158.65 L237.40 158.92 L238.15 159.01 L238.90 158.85 L239.65 158.63 L240.40 158.55 L240.65 158.55 L240.90 158.54 L241.15 158.54 L241.40 158.52 L241.65 158.48 L241.90 158.41 L242.15 158.31 L242.40 158.17 L242.65 157.99 L242.90 157.76 L243.15 157.50 L243.40 157.18 L243.65 156.81 L243.90 156.36 L244.15 155.83 L244.40 155.19 L244.65 154.42 L244.90 153.55 L245.15 152.68 L245.40 151.96 L245.65 151.63 L245.90 151.80 L246.15 152.43 L246.40 153.32 L246.65 154.27 L246.90 155.15 L247.15 155.91 L247.40 156.53 L247.65 157.02 L247.90 157.42 L248.15 157.71 L248.40 157.91 L248.65 158.02 L248.90 158.07 L249.15 158.08 L249.40 158.09 L249.65 158.10 L249.90 158.14 L250.15 158.21 L250.40 158.29 L250.65 158.38 L250.90 158.48 L251.15 158.57 L251.90 158.77 L252.65 158.87 L253.40 158.98 L254.15 159.04 L254.90 159.04 L255.65 159.03 L256.40 159.03 L257.15 159.01 L257.90 158.99 L258.65 159.09 L259.40 159.30 L260.15 159.38 L260.90 159.28 L261.65 159.14 L262.40 159.11 L263.15 158.99 L263.90 158.91 L264.65 158.99 L265.40 159.17 L266.15 159.23 L266.90 159.09 L267.65 158.92 L268.40 158.93 L269.15 159.12 L269.90 159.26 L270.65 159.20 L271.40 159.06 L272.15 159.00 L272.90 159.01 L273.65 159.03 L273.90 159.02 L274.15 159.01 L274.40 159.00 L274.65 159.00 L274.90 159.00 L275.15 159.00 L275.40 158.99 L275.65 158.96 L275.90 158.92 L276.15 158.86 L276.40 158.77 L276.65 158.66 L276.90 158.52 L277.15 158.35 L277.40 158.16 L277.65 157.93 L277.90 157.66 L278.15 157.38 L278.40 157.07 L278.65 156.79 L278.90 156.62 L279.15 156.60 L279.40 156.73 L279.65 156.96 L279.90 157.24 L280.15 157.52 L280.40 157.76 L280.65 157.96 L280.90 158.11 L281.15 158.24 L281.40 158.34 L281.65 158.42 L281.90 158.49 L282.15 158.55 L282.40 158.63 L282.65 158.73 L282.90 158.83 L283.15 158.93 L283.40 159.02 L283.65 159.09 L283.90 159.13 L284.15 159.15 L284.40 159.16 L284.65 159.16 L285.40 159.15 L286.15 159.14 L286.90 159.06 L287.65 158.93 L288.40 158.87 L289.15 158.80 L289.90 158.66 L290.65 158.82 L291.40 159.02 L292.15 159.11 L292.90 159.17 L293.65 159.20 L294.40 159.18 L295.15 159.00 L295.90 158.86 L296.65 158.93 L297.40 159.07 L298.15 159.13 L298.90 159.19 L299.65 159.27 L300.40 159.29 L301.15 159.28 L301.90 159.27 L302.65 159.27 L303.40 159.28 L304.15 159.28 L304.90 159.10 L305.65 158.88 L306.40 158.88 L307.15 159.06 L307.90 159.19 L308.65 159.20 L309.40 159.22 L310.15 159.24 L310.90 159.34 L311.65 159.48 L312.40 159.45 L313.15 159.21 L313.90 159.04 L314.65 159.05 L315.40 159.10 L316.15 159.11 L316.90 159.13 L317.65 159.15 L318.40 159.16 L319.15 159.21 L319.90 159.25 L320.65 159.21 L321.40 159.10 L322.15 159.06 L322.90 159.14 L323.65 159.24 L324.40 159.21 L325.15 159.07 L325.90 158.96 L326.65 158.97 L326.90 158.98 L327.15 159.00 L327.40 159.01 L327.65 159.02 L327.90 159.02 L328.15 159.00 L328.40 158.98 L328.65 158.95 L328.90 158.91 L329.15 158.87 L329.40 158.83 L329.65 158.79 L329.90 158.76 L330.15 158.73 L330.40 158.70 L330.65 158.67 L330.90 158.65 L331.15 158.61 L331.40 158.57 L331.65 158.52 L331.90 158.45 L332.15 158.37 L332.40 158.27 L332.65 158.14 L332.90 158.01 L333.15 157.86 L333.40 157.70 L333.65 157.55 L333.90 157.40 L334.15 157.27 L334.40 157.16 L334.65 157.07 L334.90 157.03 L335.15 157.03 L335.40 157.07 L335.65 157.16 L335.90 157.28 L336.15 157.42 L336.40 157.59 L336.65 157.77 L336.90 157.97 L337.15 158.15 L337.40 158.32 L337.65 158.46 L337.90 158.56 L338.15 158.63 L338.40 158.69 L338.65 158.73 L338.90 158.76 L339.15 158.79 L339.40 158.80 L339.65 158.82 L339.90 158.85 L340.15 158.87 L340.40 158.89 L340.65 158.89 L340.90 158.89 L341.15 158.88 L341.40 158.88 L341.65 158.88 L341.90 158.88 L342.15 158.89 L342.40 158.91 L342.65 158.93 L342.90 158.96 L343.15 158.99 L343.40 159.01 L343.65 159.03 L343.90 159.04 L344.65 159.08 L345.40 159.14 L346.15 159.17 L346.90 159.07 L347.65 158.94 L348.40 158.93 L349.15 158.98 L349.90 159.02 L350.65 159.03 L351.40 159.07 L352.15 159.07 L352.90 159.05 L353.65 159.02 L353.90 159.01 L354.15 159.00 L354.40 158.98 L354.65 158.96 L354.90 158.92 L355.15 158.89 L355.40 158.85 L355.65 158.82 L355.90 158.80 L356.15 158.78 L356.40 158.74 L356.65 158.68 L356.90 158.62 L357.15 158.55 L357.40 158.48 L357.65 158.42 L357.90 158.37 L358.15 158.34 L358.40 158.33 L358.65 158.35 L358.90 158.38 L359.15 158.41 L359.40 158.42 L359.65 158.42 L359.90 158.37 L360.15 158.29 L360.40 158.19 L360.65 158.07 L360.90 157.94 L361.15 157.80 L361.40 157.64 L361.65 157.48 L361.90 157.32 L362.15 157.16 L362.40 156.99 L362.65 156.82 L362.90 156.65 L363.15 156.49 L363.40 156.36 L363.65 156.26 L363.90 156.20 L364.15 156.19 L364.40 156.21 L364.65 156.28 L364.90 156.38 L365.15 156.51 L365.40 156.66 L365.65 156.82 L365.90 156.98 L366.15 157.15 L366.40 157.31 L366.65 157.47 L366.90 157.63 L367.15 157.77 L367.40 157.90 L367.65 158.01 L367.90 158.12 L368.15 158.20 L368.40 158.27 L368.65 158.33 L368.90 158.38 L369.15 158.42 L369.40 158.46 L369.65 158.49 L369.90 158.53 L370.15 158.57 L370.40 158.60 L370.65 158.62 L370.90 158.63 L371.15 158.65 L371.40 158.66 L371.65 158.67 L371.90 158.69 L372.15 158.71 L372.40 158.73 L372.65 158.75 L372.90 158.77 L373.15 158.79 L373.40 158.81 L373.65 158.83 L373.90 158.84 L374.15 158.86 L374.40 158.87 L374.65 158.88 L374.90 158.89 L375.15 158.90 L375.90 158.93 L376.65 158.95 L377.40 158.96 L378.15 158.97 L378.90 158.95 L379.65 158.93 L380.40 158.95 L381.15 159.07 L381.90 159.16 L382.65 159.10 L383.40 158.95 L384.15 158.89 L384.90 158.97 L385.65 159.06 L386.40 158.97 L387.15 158.71 L387.90 158.51 L388.65 158.63 L389.40 158.89 L390.15 159.03 L390.90 159.15 L391.65 159.25 L392.40 159.26 L393.15 159.20 L393.90 159.15 L394.65 159.13 L395.40 159.07 L396.15 159.05 L396.90 159.09 L397.65 159.14 L398.40 159.15 L399.15 159.16 L399.90 159.17 L400.65 159.11 L401.40 158.97 L402.15 158.92 L402.90 158.98 L403.65 159.05 L404.40 159.07 L405.15 159.12 L405.90 159.15 L406.65 159.13 L407.40 159.08 L408.15 159.06 L408.90 159.08 L409.65 159.10 L410.40 159.10 L411.15 159.13 L411.90 159.14 L412.65 159.11 L413.40 159.07 L414.15 159.02 L414.90 158.94 L415.65 158.83 L416.40 158.66 L417.15 158.42 L417.90 158.23 L418.65 158.18 L419.40 158.27 L420.15 158.44 L420.40 158.50 L420.65 158.55 L420.90 158.60 L421.15 158.65 L421.40 158.68 L421.65 158.71 L421.90 158.74 L422.15 158.75 L422.40 158.76 L422.65 158.76 L422.90 158.76 L423.15 158.75 L423.40 158.74 L423.65 158.73 L423.90 158.71 L424.15 158.70 L424.40 158.68 L424.65 158.65 L424.90 158.62 L425.15 158.58 L425.40 158.53 L425.65 158.48 L425.90 158.42 L426.15 158.35 L426.40 158.27 L426.65 158.18 L426.90 158.09 L427.15 157.99 L427.40 157.89 L427.65 157.80 L427.90 157.72 L428.15 157.65 L428.40 157.61 L428.65 157.59 L428.90 157.59 L429.15 157.62 L429.40 157.67 L429.65 157.75 L429.90 157.84 L430.15 157.95 L430.40 158.07 L430.65 158.18 L430.90 158.30 L431.15 158.41 L431.40 158.51 L431.65 158.59 L431.90 158.66 L432.15 158.70 L432.40 158.75 L432.65 158.79 L432.90 158.83 L433.15 158.86 L433.40 158.89 L433.65 158.92 L433.90 158.94 L434.15 158.96 L434.40 158.97 L434.65 158.96 L434.90 158.95 L435.15 158.94 L435.40 158.93 L435.65 158.92 L435.90 158.92 L436.15 158.93 L436.40 158.95 L436.65 158.98 L436.90 159.00 L437.15 159.03 L437.40 159.06 L438.15 159.10 L438.90 159.14 L439.65 159.19 L440.40 159.19 L441.15 159.15 L441.90 159.13 L442.65 159.20 L443.40 159.37 L444.15 159.42 L444.90 159.18 L445.65 158.87 L446.40 158.86 L447.15 159.02 L447.90 159.14 L448.65 159.10 L449.40 158.98 L450.15 158.94 L450.90 159.09 L451.65 159.28 L452.40 159.33 L453.15 159.44 L453.90 159.53 L454.65 159.37 L455.40 159.00 L456.15 158.86 L456.90 159.00 L457.65 159.18 L458.40 159.21 L459.15 159.23 L459.90 159.25 L460.65 159.23 L461.40 159.17 L462.15 159.15 L462.90 159.19 L463.65 159.25 L464.40 159.22 L465.15 159.03 L465.90 158.90 L466.65 158.99 L467.40 159.21 L468.15 159.29 L468.90 159.27 L469.65 159.23 L470.40 159.22 L471.15 159.20 L471.90 159.18 L472.65 159.15 L473.40 159.10 L474.15 159.08 L474.90 159.14 L475.65 159.20 L476.40 159.17 L477.15 159.04 L477.90 158.90 L478.65 158.78 L479.40 158.71 L480.15 158.80 L480.90 158.92 L481.65 158.97 L482.40 159.00 L483.15 158.92 L483.90 158.85 L484.65 158.93 L485.40 159.10 L486.15 159.17 L486.90 159.18 L487.65 159.20 L488.40 159.21 L489.15 159.25 L489.90 159.28 L490.65 159.23 L491.40 159.11 L492.15 159.07 L492.90 159.12 L493.65 159.17 L494.40 159.19 L495.15 159.23 L495.90 159.26 L496.65 159.24 L497.40 159.20 L498.15 159.18 L498.90 159.23 L499.65 159.29 L500.40 159.28 L501.15 159.28 L501.90 159.24 L502.65 159.01 L503.40 158.67 L504.15 158.64 L504.90 158.74 L505.65 158.78 L506.40 158.87 L507.15 159.10 L507.90 159.25 L508.65 159.29 L509.40 159.35 L510.15 159.37 L510.90 159.34 L511.65 159.31 L512.40 159.30 L513.15 159.30 L513.90 159.29 L514.65 159.25 L515.40 159.15 L516.15 159.11 L516.90 159.11 L517.65 159.10 L518.40 159.12 L519.15 159.23 L519.90 159.31 L520.65 159.26 L521.40 159.13 L522.15 159.08 L522.90 159.03 L523.65 158.97 L524.40 158.97 L525.15 159.03 L525.90 159.07 L526.65 159.18 L527.40 159.43 L528.15 159.52 L528.90 159.49 L529.65 159.45 L530.40 159.42 L531.15 159.24" stroke="#1f9c5e" stroke-width="2.40"/>
<path d="M47.40 203.43 L48.15 203.43 L48.90 203.42 L49.65 203.42 L50.40 203.43 L51.15 203.49 L51.90 203.54 L52.65 203.46 L53.40 203.27 L54.15 203.20 L54.90 203.22 L55.65 203.23 L56.40 203.24 L57.15 203.22 L57.90 203.22 L58.65 203.24 L59.40 203.30 L60.15 203.33 L60.90 203.32 L61.65 203.32 L62.40 203.33 L63.15 203.40 L63.90 203.45 L64.65 203.44 L65.40 203.44 L66.15 203.43 L66.90 203.42 L67.65 203.40 L68.40 203.39 L69.15 203.34 L69.90 203.31 L70.65 203.32 L71.40 203.33 L72.15 203.34 L72.90 203.42 L73.65 203.51 L74.40 203.52 L75.15 203.51 L75.90 203.50 L76.65 203.47 L77.40 203.43 L78.15 203.41 L78.90 203.39 L79.65 203.36 L80.40 203.38 L81.15 203.50 L81.90 203.59 L82.65 203.53 L83.40 203.37 L84.15 203.32 L84.90 203.38 L85.65 203.46 L86.40 203.48 L87.15 203.51 L87.90 203.54 L88.65 203.49 L89.40 203.39 L90.15 203.35 L90.90 203.41 L91.65 203.48 L92.40 203.46 L93.15 203.33 L93.90 203.23 L94.65 203.29 L95.40 203.44 L96.15 203.49 L96.90 203.44 L97.65 203.38 L98.40 203.34 L99.15 203.20 L99.90 203.09 L100.65 203.12 L101.40 203.23 L101.65 203.24 L101.90 203.23 L102.15 203.19 L102.40 203.12 L102.65 203.03 L102.90 202.92 L103.15 202.79 L103.40 202.63 L103.65 202.44 L103.90 202.21 L104.15 201.93 L104.40 201.59 L104.65 201.19 L104.90 200.79 L105.15 200.52 L105.40 200.54 L105.65 200.85 L105.90 201.31 L106.15 201.76 L106.40 202.12 L106.65 202.38 L106.90 202.56 L107.15 202.68 L107.40 202.77 L107.65 202.84 L107.90 202.90 L108.15 202.96 L108.40 203.01 L108.65 203.06 L108.90 203.11 L109.15 203.15 L109.40 203.18 L109.65 203.21 L109.90 203.23 L110.65 203.28 L111.40 203.34 L112.15 203.37 L112.90 203.35 L113.65 203.31 L114.40 203.32 L115.15 203.37 L115.90 203.40 L116.65 203.38 L117.40 203.33 L118.15 203.31 L118.90 203.37 L119.65 203.46 L120.40 203.46 L121.15 203.42 L121.90 203.39 L122.65 203.39 L123.40 203.41 L124.15 203.41 L124.90 203.25 L125.65 203.06 L126.40 203.08 L127.15 203.35 L127.90 203.54 L128.65 203.51 L129.40 203.42 L130.15 203.39 L130.90 203.29 L131.65 203.18 L132.40 203.18 L133.15 203.31 L133.90 203.40 L134.65 203.41 L135.40 203.44 L136.15 203.45 L136.90 203.48 L137.65 203.52 L138.40 203.50 L139.15 203.36 L139.90 203.25 L140.65 203.33 L141.40 203.52 L142.15 203.59 L142.90 203.50 L143.65 203.38 L144.40 203.40 L145.15 203.57 L145.90 203.70 L146.65 203.62 L147.40 203.43 L148.15 203.37 L148.90 203.41 L149.65 203.46 L150.40 203.46 L151.15 203.38 L151.90 203.33 L152.65 203.31 L153.40 203.25 L154.15 203.23 L154.90 203.35 L155.65 203.49 L156.40 203.51 L157.15 203.49 L157.90 203.48 L158.65 203.49 L159.40 203.53 L160.15 203.54 L160.90 203.49 L161.65 203.44 L162.40 203.40 L163.15 203.29 L163.90 203.20 L164.65 203.14 L165.40 203.02 L166.15 202.94 L166.90 202.92 L167.65 202.86 L167.90 202.82 L168.15 202.75 L168.40 202.67 L168.65 202.57 L168.90 202.45 L169.15 202.30 L169.40 202.11 L169.65 201.86 L169.90 201.54 L170.15 201.12 L170.40 200.55 L170.65 199.82 L170.90 198.88 L171.15 197.81 L171.40 196.82 L171.65 196.30 L171.90 196.53 L172.15 197.38 L172.40 198.47 L172.65 199.49 L172.90 200.34 L173.15 201.00 L173.40 201.51 L173.65 201.89 L173.90 202.17 L174.15 202.38 L174.40 202.55 L174.65 202.67 L174.90 202.77 L175.15 202.85 L175.40 202.92 L175.65 202.97 L175.90 203.02 L176.15 203.06 L176.40 203.09 L177.15 203.13 L177.90 203.15 L178.65 203.20 L179.40 203.26 L180.15 203.28 L180.90 203.28 L181.65 203.26 L182.40 203.26 L183.15 203.27 L183.90 203.26 L184.65 203.23 L184.90 203.21 L185.15 203.18 L185.40 203.14 L185.65 203.08 L185.90 202.97 L186.15 202.81 L186.40 202.57 L186.65 202.18 L186.90 201.55 L187.15 200.62 L187.40 199.78 L187.65 199.90 L187.90 200.84 L188.15 201.72 L188.40 202.28 L188.65 202.61 L188.90 202.80 L189.15 202.90 L189.40 202.97 L189.65 203.01 L189.90 203.05 L190.15 203.08 L190.40 203.11 L190.65 203.11 L191.40 203.10 L192.15 203.11 L192.90 203.29 L193.65 203.49 L194.40 203.51 L195.15 203.42 L195.90 203.36 L196.65 203.40 L197.40 203.47 L198.15 203.49 L198.90 203.35 L199.65 203.17 L200.40 203.16 L201.15 203.25 L201.90 203.31 L202.65 203.33 L203.40 203.35 L204.15 203.36 L204.90 203.28 L205.65 203.18 L206.40 203.18 L207.15 203.24 L207.90 203.28 L208.65 203.32 L209.40 203.40 L210.15 203.43 L210.90 203.45 L211.65 203.47 L212.40 203.47 L213.15 203.50 L213.90 203.52 L214.65 203.44 L215.40 203.25 L216.15 203.17 L216.90 203.13 L217.65 203.08 L218.40 203.08 L219.15 203.19 L219.90 203.25 L220.65 203.22 L221.40 203.18 L222.15 203.09 L222.40 203.03 L222.65 202.96 L222.90 202.86 L223.15 202.75 L223.40 202.60 L223.65 202.40 L223.90 202.13 L224.15 201.74 L224.40 201.18 L224.65 200.45 L224.90 199.84 L225.15 199.82 L225.40 200.31 L225.65 200.86 L225.90 201.25 L226.15 201.48 L226.40 201.60 L226.65 201.65 L226.90 201.63 L227.15 201.56 L227.40 201.42 L227.65 201.20 L227.90 200.88 L228.15 200.45 L228.40 199.91 L228.65 199.24 L228.90 198.45 L229.15 197.59 L229.40 196.75 L229.65 196.13 L229.90 195.89 L230.15 196.13 L230.40 196.77 L230.65 197.61 L230.90 198.49 L231.15 199.28 L231.40 199.96 L231.65 200.52 L231.90 200.97 L232.15 201.34 L232.40 201.62 L232.65 201.85 L232.90 202.02 L233.15 202.15 L233.40 202.26 L233.65 202.36 L233.90 202.44 L234.15 202.52 L234.40 202.60 L234.65 202.67 L234.90 202.74 L235.15 202.80 L235.40 202.86 L235.65 202.90 L236.40 202.98 L237.15 203.05 L237.90 203.09 L238.65 203.05 L239.40 202.93 L240.15 202.84 L240.90 202.68 L241.15 202.60 L241.40 202.52 L241.65 202.44 L241.90 202.36 L242.15 202.27 L242.40 202.19 L242.65 202.10 L242.90 202.00 L243.15 201.86 L243.40 201.67 L243.65 201.41 L243.90 201.05 L244.15 200.57 L244.40 199.96 L244.65 199.23 L244.90 198.38 L245.15 197.50 L245.40 196.76 L245.65 196.41 L245.90 196.57 L246.15 197.19 L246.40 198.04 L246.65 198.91 L246.90 199.70 L247.15 200.34 L247.40 200.87 L247.65 201.28 L247.90 201.61 L248.15 201.88 L248.40 202.10 L248.65 202.29 L248.90 202.46 L249.15 202.60 L249.40 202.71 L249.65 202.81 L249.90 202.89 L250.15 202.95 L250.40 202.98 L250.65 203.00 L250.90 203.00 L251.15 203.00 L251.90 203.01 L252.65 203.08 L253.40 203.16 L254.15 203.20 L254.90 203.21 L255.65 203.22 L256.40 203.24 L257.15 203.32 L257.90 203.37 L258.65 203.41 L259.40 203.49 L260.15 203.52 L260.90 203.43 L261.65 203.31 L262.40 203.32 L263.15 203.48 L263.90 203.60 L264.65 203.58 L265.40 203.55 L266.15 203.53 L266.90 203.49 L267.65 203.44 L268.40 203.43 L269.15 203.41 L269.90 203.39 L270.65 203.42 L271.40 203.49 L272.15 203.51 L272.90 203.38 L273.65 203.22 L273.90 203.19 L274.15 203.17 L274.40 203.15 L274.65 203.14 L274.90 203.11 L275.15 203.08 L275.40 203.05 L275.65 203.01 L275.90 202.96 L276.15 202.90 L276.40 202.82 L276.65 202.72 L276.90 202.59 L277.15 202.43 L277.40 202.24 L277.65 202.02 L277.90 201.77 L278.15 201.50 L278.40 201.24 L278.65 201.03 L278.90 200.93 L279.15 200.98 L279.40 201.18 L279.65 201.46 L279.90 201.75 L280.15 202.02 L280.40 202.26 L280.65 202.47 L280.90 202.65 L281.15 202.80 L281.40 202.93 L281.65 203.02 L281.90 203.10 L282.15 203.15 L282.40 203.19 L282.65 203.21 L282.90 203.23 L283.15 203.23 L283.40 203.24 L283.65 203.24 L283.90 203.25 L284.15 203.26 L284.40 203.27 L284.65 203.28 L285.40 203.29 L286.15 203.28 L286.90 203.23 L287.65 203.14 L288.40 203.01 L289.15 202.74 L289.90 202.38 L290.65 202.61 L291.40 202.86 L292.15 202.99 L292.90 203.20 L293.65 203.40 L294.40 203.43 L295.15 203.35 L295.90 203.29 L296.65 203.28 L297.40 203.23 L298.15 203.22 L298.90 203.24 L299.65 203.26 L300.40 203.27 L301.15 203.27 L301.90 203.26 L302.65 203.32 L303.40 203.44 L304.15 203.48 L304.90 203.49 L305.65 203.50 L306.40 203.48 L307.15 203.31 L307.90 203.19 L308.65 203.26 L309.40 203.43 L310.15 203.49 L310.90 203.48 L311.65 203.48 L312.40 203.46 L313.15 203.36 L313.90 203.28 L314.65 203.25 L315.40 203.19 L316.15 203.16 L316.90 203.20 L317.65 203.24 L318.40 203.25 L319.15 203.25 L319.90 203.25 L320.65 203.28 L321.40 203.34 L322.15 203.36 L322.90 203.31 L323.65 203.26 L324.40 203.22 L325.15 203.09 L325.90 202.99 L326.65 203.04 L326.90 203.08 L327.15 203.13 L327.40 203.17 L327.65 203.20 L327.90 203.21 L328.15 203.19 L328.40 203.16 L328.65 203.11 L328.90 203.05 L329.15 202.99 L329.40 202.92 L329.65 202.87 L329.90 202.82 L330.15 202.80 L330.40 202.79 L330.65 202.79 L330.90 202.81 L331.15 202.82 L331.40 202.82 L331.65 202.80 L331.90 202.74 L332.15 202.66 L332.40 202.54 L332.65 202.40 L332.90 202.23 L333.15 202.05 L333.40 201.86 L333.65 201.69 L333.90 201.53 L334.15 201.40 L334.40 201.30 L334.65 201.25 L334.90 201.23 L335.15 201.27 L335.40 201.35 L335.65 201.46 L335.90 201.59 L336.15 201.73 L336.40 201.86 L336.65 202.00 L336.90 202.12 L337.15 202.23 L337.40 202.33 L337.65 202.42 L337.90 202.50 L338.15 202.58 L338.40 202.64 L338.65 202.70 L338.90 202.76 L339.15 202.81 L339.40 202.86 L339.65 202.90 L339.90 202.93 L340.15 202.96 L340.40 203.00 L340.65 203.06 L340.90 203.12 L341.15 203.18 L341.40 203.24 L341.65 203.28 L341.90 203.31 L342.15 203.32 L342.40 203.33 L342.65 203.33 L342.90 203.33 L343.15 203.32 L343.40 203.32 L343.65 203.32 L343.90 203.32 L344.65 203.32 L345.40 203.31 L346.15 203.31 L346.90 203.29 L347.65 203.27 L348.40 203.25 L349.15 203.11 L349.90 203.01 L350.65 203.03 L351.40 203.09 L352.15 203.10 L352.90 203.08 L353.65 203.05 L353.90 203.04 L354.15 203.02 L354.40 203.01 L354.65 202.99 L354.90 202.96 L355.15 202.94 L355.40 202.91 L355.65 202.88 L355.90 202.86 L356.15 202.84 L356.40 202.83 L356.65 202.84 L356.90 202.84 L357.15 202.85 L357.40 202.85 L357.65 202.84 L357.90 202.82 L358.15 202.77 L358.40 202.71 L358.65 202.63 L358.90 202.55 L359.15 202.45 L359.40 202.35 L359.65 202.25 L359.90 202.15 L360.15 202.06 L360.40 201.95 L360.65 201.84 L360.90 201.71 L361.15 201.57 L361.40 201.41 L361.65 201.25 L361.90 201.07 L362.15 200.88 L362.40 200.68 L362.65 200.48 L362.90 200.28 L363.15 200.10 L363.40 199.95 L363.65 199.83 L363.90 199.76 L364.15 199.75 L364.40 199.77 L364.65 199.84 L364.90 199.94 L365.15 200.07 L365.40 200.23 L365.65 200.40 L365.90 200.59 L366.15 200.79 L366.40 201.00 L366.65 201.23 L366.90 201.45 L367.15 201.67 L367.40 201.87 L367.65 202.04 L367.90 202.17 L368.15 202.28 L368.40 202.38 L368.65 202.47 L368.90 202.56 L369.15 202.65 L369.40 202.73 L369.65 202.80 L369.90 202.85 L370.15 202.90 L370.40 202.93 L370.65 202.95 L370.90 202.95 L371.15 202.96 L371.40 202.96 L371.65 202.97 L371.90 202.98 L372.15 203.00 L372.40 203.01 L372.65 203.01 L372.90 203.00 L373.15 202.99 L373.40 202.97 L373.65 202.97 L373.90 202.97 L374.15 202.98 L374.40 202.97 L374.65 202.95 L374.90 202.92 L375.15 202.89 L375.90 202.83 L376.65 202.94 L377.40 203.16 L378.15 203.26 L378.90 203.32 L379.65 203.40 L380.40 203.41 L381.15 203.35 L381.90 203.31 L382.65 203.32 L383.40 203.36 L384.15 203.37 L384.90 203.37 L385.65 203.36 L386.40 203.28 L387.15 203.11 L387.90 202.98 L388.65 203.01 L389.40 203.05 L390.15 203.12 L390.90 203.26 L391.65 203.39 L392.40 203.42 L393.15 203.42 L393.90 203.42 L394.65 203.35 L395.40 203.19 L396.15 203.13 L396.90 203.20 L397.65 203.27 L398.40 203.27 L399.15 203.20 L399.90 203.15 L400.65 203.19 L401.40 203.29 L402.15 203.32 L402.90 203.35 L403.65 203.40 L404.40 203.38 L405.15 203.26 L405.90 203.18 L406.65 203.14 L407.40 203.06 L408.15 203.03 L408.90 203.19 L409.65 203.40 L409.90 203.42 L410.15 203.42 L410.40 203.40 L410.65 203.38 L410.90 203.35 L411.15 203.31 L411.40 203.28 L411.65 203.26 L411.90 203.24 L412.15 203.22 L412.40 203.22 L412.65 203.22 L412.90 203.23 L413.15 203.24 L413.40 203.24 L413.65 203.24 L413.90 203.22 L414.15 203.18 L414.40 203.12 L414.65 203.02 L414.90 202.91 L415.15 202.79 L415.40 202.67 L415.65 202.55 L415.90 202.45 L416.15 202.37 L416.40 202.30 L416.65 202.25 L416.90 202.20 L417.15 202.15 L417.40 202.10 L417.65 202.05 L417.90 202.00 L418.15 201.96 L418.40 201.97 L418.65 202.01 L418.90 202.10 L419.15 202.20 L419.40 202.32 L419.65 202.44 L419.90 202.55 L420.15 202.64 L420.40 202.73 L420.65 202.80 L420.90 202.87 L421.15 202.93 L421.40 202.98 L421.65 203.02 L421.90 203.05 L422.15 203.08 L422.40 203.08 L422.65 203.05 L422.90 203.01 L423.15 202.96 L423.40 202.92 L423.65 202.88 L423.90 202.85 L424.15 202.84 L424.40 202.83 L424.65 202.82 L424.90 202.80 L425.15 202.78 L425.40 202.75 L425.65 202.70 L425.90 202.65 L426.15 202.58 L426.40 202.50 L426.65 202.40 L426.90 202.30 L427.15 202.19 L427.40 202.08 L427.65 201.98 L427.90 201.89 L428.15 201.84 L428.40 201.82 L428.65 201.85 L428.90 201.92 L429.15 202.02 L429.40 202.14 L429.65 202.26 L429.90 202.38 L430.15 202.48 L430.40 202.59 L430.65 202.68 L430.90 202.76 L431.15 202.84 L431.40 202.91 L431.65 202.97 L431.90 203.02 L432.15 203.07 L432.40 203.10 L432.65 203.11 L432.90 203.12 L433.15 203.13 L433.40 203.13 L433.65 203.14 L433.90 203.15 L434.15 203.16 L434.40 203.16 L434.65 203.15 L434.90 203.13 L435.15 203.11 L435.40 203.08 L435.65 203.07 L435.90 203.07 L436.15 203.08 L436.40 203.11 L436.65 203.15 L436.90 203.21 L437.15 203.27 L437.40 203.32 L438.15 203.39 L438.90 203.34 L439.65 203.27 L440.40 203.28 L441.15 203.36 L441.90 203.42 L442.65 203.42 L443.40 203.40 L444.15 203.39 L444.90 203.47 L445.65 203.56 L446.40 203.57 L447.15 203.54 L447.90 203.52 L448.65 203.47 L449.40 203.36 L450.15 203.32 L450.90 203.36 L451.65 203.41 L452.40 203.44 L453.15 203.54 L453.90 203.61 L454.65 203.54 L455.40 203.37 L456.15 203.31 L456.90 203.37 L457.65 203.43 L458.40 203.45 L459.15 203.50 L459.90 203.54 L460.65 203.54 L461.40 203.55 L462.15 203.55 L462.90 203.51 L463.65 203.46 L464.40 203.43 L465.15 203.30 L465.90 203.21 L466.65 203.21 L467.40 203.22 L468.15 203.22 L468.90 203.30 L469.65 203.40 L470.40 203.41 L471.15 203.42 L471.90 203.42 L472.65 203.49 L473.40 203.64 L474.15 203.68 L474.90 203.49 L475.65 203.25 L476.40 203.21 L477.15 203.30 L477.90 203.31 L478.65 203.15 L479.40 203.01 L480.15 203.07 L480.90 203.09 L481.65 203.04 L482.40 203.08 L483.15 203.17 L483.90 203.24 L484.65 203.28 L485.40 203.36 L486.15 203.39 L486.90 203.36 L487.65 203.32 L488.40 203.32 L489.15 203.35 L489.90 203.36 L490.65 203.38 L491.40 203.43 L492.15 203.44 L492.90 203.38 L493.65 203.29 L494.40 203.29 L495.15 203.38 L495.90 203.44 L496.65 203.40 L497.40 203.32 L498.15 203.28 L498.90 203.27 L499.65 203.26 L500.40 203.25 L501.15 203.28 L501.90 203.25 L502.65 203.08 L503.40 202.86 L504.15 202.88 L504.90 203.09 L505.65 203.25 L506.40 203.34 L507.15 203.47 L507.90 203.55 L508.65 203.52 L509.40 203.41 L510.15 203.38 L510.90 203.37 L511.65 203.36 L512.40 203.38 L513.15 203.44 L513.90 203.48 L514.65 203.45 L515.40 203.37 L516.15 203.35 L516.90 203.42 L517.65 203.52 L518.40 203.51 L519.15 203.35 L519.90 203.23 L520.65 203.29 L521.40 203.43 L522.15 203.47 L522.90 203.41 L523.65 203.34 L524.40 203.33 L525.15 203.31 L525.90 203.29 L526.65 203.37 L527.40 203.56 L528.15 203.62 L528.90 203.48 L529.65 203.31 L530.40 203.32 L531.15 203.50" stroke="#ee426c" stroke-width="2.40"/>
<path d="M47.40 247.59 L48.15 247.64 L48.90 247.64 L49.65 247.63 L50.40 247.63 L51.15 247.63 L51.90 247.62 L52.65 247.60 L53.40 247.55 L54.15 247.54 L54.90 247.49 L55.65 247.43 L56.40 247.42 L57.15 247.42 L57.90 247.42 L58.65 247.41 L59.40 247.39 L60.15 247.38 L60.90 247.35 L61.65 247.31 L62.40 247.31 L63.15 247.36 L63.90 247.39 L64.65 247.37 L65.40 247.33 L66.15 247.32 L66.90 247.44 L67.65 247.59 L68.40 247.60 L69.15 247.52 L69.90 247.47 L70.65 247.44 L71.40 247.37 L72.15 247.34 L72.90 247.26 L73.65 247.16 L74.40 247.17 L75.15 247.30 L75.90 247.39 L76.65 247.38 L77.40 247.35 L78.15 247.34 L78.90 247.31 L79.65 247.26 L80.40 247.26 L81.15 247.25 L81.90 247.25 L82.65 247.21 L83.40 247.13 L84.15 247.11 L84.90 247.26 L85.65 247.44 L86.40 247.46 L87.15 247.42 L87.90 247.39 L88.65 247.47 L89.40 247.66 L90.15 247.72 L90.90 247.58 L91.65 247.41 L92.40 247.38 L93.15 247.37 L93.90 247.37 L94.65 247.41 L95.40 247.53 L96.15 247.56 L96.90 247.49 L97.65 247.40 L98.40 247.38 L99.15 247.37 L99.90 247.36 L100.65 247.32 L101.40 247.24 L102.15 247.17 L102.90 247.03 L103.15 246.95 L103.40 246.85 L103.65 246.72 L103.90 246.52 L104.15 246.23 L104.40 245.81 L104.65 245.15 L104.90 244.22 L105.15 243.31 L105.40 243.24 L105.65 244.14 L105.90 245.18 L106.15 245.94 L106.40 246.42 L106.65 246.73 L106.90 246.93 L107.15 247.06 L107.40 247.15 L107.65 247.21 L107.90 247.26 L108.15 247.31 L108.40 247.35 L108.65 247.39 L109.40 247.49 L110.15 247.54 L110.90 247.45 L111.65 247.33 L112.40 247.32 L113.15 247.35 L113.90 247.38 L114.65 247.35 L115.40 247.29 L116.15 247.27 L116.90 247.37 L117.65 247.49 L118.40 247.48 L119.15 247.32 L119.90 247.21 L120.65 247.27 L121.40 247.41 L122.15 247.46 L122.90 247.49 L123.65 247.53 L124.40 247.54 L125.15 247.56 L125.90 247.57 L126.65 247.50 L127.40 247.33 L128.15 247.27 L128.90 247.38 L129.65 247.51 L130.40 247.51 L131.15 247.39 L131.90 247.30 L132.65 247.30 L133.40 247.29 L134.15 247.29 L134.90 247.26 L135.65 247.22 L136.40 247.25 L137.15 247.42 L137.90 247.54 L138.65 247.56 L139.40 247.59 L140.15 247.60 L140.90 247.48 L141.65 247.33 L142.40 247.31 L143.15 247.30 L143.90 247.29 L144.65 247.30 L145.40 247.33 L146.15 247.35 L146.90 247.50 L147.65 247.68 L148.40 247.69 L149.15 247.59 L149.90 247.51 L150.65 247.46 L151.40 247.35 L152.15 247.30 L152.90 247.24 L153.65 247.15 L154.40 247.15 L155.15 247.22 L155.90 247.28 L156.65 247.33 L157.40 247.46 L158.15 247.51 L158.90 247.54 L159.65 247.58 L160.40 247.55 L161.15 247.40 L161.90 247.28 L162.65 247.25 L163.40 247.20 L164.15 247.17 L164.90 247.14 L165.65 247.11 L166.40 247.03 L167.15 246.84 L167.90 246.62 L168.15 246.56 L168.40 246.50 L168.65 246.45 L168.90 246.38 L169.15 246.29 L169.40 246.14 L169.65 245.92 L169.90 245.58 L170.15 245.10 L170.40 244.44 L170.65 243.54 L170.90 242.38 L171.15 241.01 L171.40 239.70 L171.65 238.99 L171.90 239.27 L172.15 240.37 L172.40 241.74 L172.65 242.99 L172.90 244.00 L173.15 244.78 L173.40 245.37 L173.65 245.80 L173.90 246.13 L174.15 246.35 L174.40 246.51 L174.65 246.60 L174.90 246.65 L175.15 246.67 L175.40 246.68 L175.65 246.70 L175.90 246.73 L176.15 246.77 L176.90 246.89 L177.65 246.99 L178.40 247.05 L179.15 247.19 L179.90 247.28 L180.65 247.27 L181.40 247.20 L182.15 247.17 L182.90 247.25 L183.65 247.33 L183.90 247.33 L184.15 247.32 L184.40 247.29 L184.65 247.26 L184.90 247.21 L185.15 247.16 L185.40 247.10 L185.65 247.02 L185.90 246.93 L186.15 246.82 L186.40 246.66 L186.65 246.45 L186.90 246.19 L187.15 245.93 L187.40 245.75 L187.65 245.75 L187.90 245.91 L188.15 246.16 L188.40 246.40 L188.65 246.62 L188.90 246.80 L189.15 246.95 L189.40 247.07 L189.65 247.16 L189.90 247.22 L190.15 247.26 L190.40 247.29 L190.65 247.31 L190.90 247.34 L191.15 247.36 L191.40 247.38 L191.65 247.39 L191.90 247.40 L192.65 247.33 L193.40 247.15 L194.15 247.09 L194.90 247.30 L195.65 247.55 L196.40 247.57 L197.15 247.48 L197.90 247.42 L198.65 247.43 L199.40 247.45 L200.15 247.45 L200.90 247.31 L201.65 247.14 L202.40 247.13 L203.15 247.20 L203.90 247.26 L204.65 247.27 L205.40 247.30 L206.15 247.31 L206.90 247.38 L207.65 247.47 L208.40 247.45 L209.15 247.28 L209.90 247.15 L210.65 247.16 L211.40 247.20 L212.15 247.21 L212.90 247.14 L213.65 247.06 L214.40 247.06 L215.15 247.18 L215.90 247.26 L216.65 247.26 L217.40 247.29 L218.15 247.29 L218.90 247.16 L219.65 247.01 L220.40 246.97 L221.15 247.01 L221.90 247.02 L222.65 247.00 L223.40 247.00 L224.15 246.92 L224.90 246.82 L225.15 246.78 L225.40 246.72 L225.65 246.65 L225.90 246.56 L226.15 246.43 L226.40 246.27 L226.65 246.08 L226.90 245.84 L227.15 245.56 L227.40 245.22 L227.65 244.81 L227.90 244.32 L228.15 243.70 L228.40 242.93 L228.65 241.98 L228.90 240.84 L229.15 239.57 L229.40 238.33 L229.65 237.37 L229.90 237.01 L230.15 237.36 L230.40 238.28 L230.65 239.49 L230.90 240.70 L231.15 241.79 L231.40 242.71 L231.65 243.45 L231.90 244.05 L232.15 244.54 L232.40 244.93 L232.65 245.25 L232.90 245.51 L233.15 245.72 L233.40 245.90 L233.65 246.05 L233.90 246.17 L234.15 246.27 L234.40 246.36 L234.65 246.44 L234.90 246.51 L235.15 246.57 L235.40 246.62 L236.15 246.73 L236.90 246.84 L237.65 246.92 L238.40 246.94 L239.15 246.90 L239.90 246.85 L240.65 246.81 L241.40 246.79 L241.65 246.75 L241.90 246.68 L242.15 246.58 L242.40 246.44 L242.65 246.26 L242.90 246.05 L243.15 245.78 L243.40 245.47 L243.65 245.08 L243.90 244.60 L244.15 244.01 L244.40 243.25 L244.65 242.29 L244.90 241.16 L245.15 239.95 L245.40 238.93 L245.65 238.41 L245.90 238.62 L246.15 239.46 L246.40 240.63 L246.65 241.83 L246.90 242.90 L247.15 243.79 L247.40 244.51 L247.65 245.07 L247.90 245.50 L248.15 245.82 L248.40 246.06 L248.65 246.26 L248.90 246.41 L249.15 246.54 L249.40 246.64 L249.65 246.72 L249.90 246.80 L250.15 246.87 L250.40 246.92 L250.65 246.95 L250.90 246.98 L251.65 247.03 L252.40 247.08 L253.15 247.08 L253.90 247.08 L254.65 247.08 L255.40 247.02 L256.15 247.01 L256.90 247.07 L257.65 247.14 L258.40 247.18 L259.15 247.32 L259.90 247.42 L260.65 247.38 L261.40 247.26 L262.15 247.21 L262.90 247.19 L263.65 247.16 L264.40 247.17 L265.15 247.28 L265.90 247.35 L266.65 247.36 L267.40 247.36 L268.15 247.36 L268.90 247.37 L269.65 247.39 L270.40 247.39 L271.15 247.38 L271.90 247.37 L272.65 247.38 L273.40 247.41 L274.15 247.39 L274.40 247.34 L274.65 247.28 L274.90 247.20 L275.15 247.12 L275.40 247.04 L275.65 246.96 L275.90 246.89 L276.15 246.84 L276.40 246.79 L276.65 246.74 L276.90 246.68 L277.15 246.60 L277.40 246.48 L277.65 246.31 L277.90 246.08 L278.15 245.80 L278.40 245.49 L278.65 245.20 L278.90 245.00 L279.15 244.97 L279.40 245.10 L279.65 245.33 L279.90 245.61 L280.15 245.88 L280.40 246.13 L280.65 246.36 L280.90 246.55 L281.15 246.72 L281.40 246.86 L281.65 246.97 L281.90 247.04 L282.15 247.10 L282.40 247.14 L282.65 247.16 L282.90 247.18 L283.15 247.19 L283.40 247.20 L283.65 247.21 L283.90 247.22 L284.15 247.23 L284.40 247.25 L284.65 247.26 L285.40 247.28 L286.15 247.29 L286.90 247.31 L287.65 247.33 L288.40 247.23 L289.15 246.93 L289.90 246.56 L290.65 246.83 L291.40 247.21 L292.15 247.37 L292.90 247.41 L293.65 247.43 L294.40 247.44 L295.15 247.40 L295.90 247.37 L296.65 247.35 L297.40 247.31 L298.15 247.29 L298.90 247.28 L299.65 247.27 L300.40 247.28 L301.15 247.29 L301.90 247.30 L302.65 247.32 L303.40 247.34 L304.15 247.34 L304.90 247.35 L305.65 247.36 L306.40 247.40 L307.15 247.61 L307.90 247.75 L308.65 247.68 L309.40 247.51 L310.15 247.45 L310.90 247.45 L311.65 247.46 L312.40 247.44 L313.15 247.33 L313.90 247.25 L314.65 247.25 L315.40 247.26 L316.15 247.26 L316.90 247.28 L317.65 247.30 L318.40 247.31 L319.15 247.34 L319.90 247.36 L320.65 247.32 L321.40 247.22 L322.15 247.19 L322.90 247.32 L323.65 247.48 L324.40 247.47 L325.15 247.31 L325.90 247.18 L326.65 247.21 L326.90 247.24 L327.15 247.27 L327.40 247.30 L327.65 247.31 L327.90 247.32 L328.15 247.30 L328.40 247.25 L328.65 247.17 L328.90 247.07 L329.15 246.96 L329.40 246.86 L329.65 246.78 L329.90 246.72 L330.15 246.69 L330.40 246.68 L330.65 246.68 L330.90 246.69 L331.15 246.70 L331.40 246.70 L331.65 246.68 L331.90 246.62 L332.15 246.54 L332.40 246.45 L332.65 246.35 L332.90 246.24 L333.15 246.12 L333.40 245.99 L333.65 245.85 L333.90 245.72 L334.15 245.59 L334.40 245.49 L334.65 245.42 L334.90 245.39 L335.15 245.41 L335.40 245.47 L335.65 245.57 L335.90 245.70 L336.15 245.84 L336.40 245.98 L336.65 246.12 L336.90 246.26 L337.15 246.39 L337.40 246.50 L337.65 246.60 L337.90 246.69 L338.15 246.76 L338.40 246.82 L338.65 246.87 L338.90 246.91 L339.15 246.95 L339.40 246.98 L339.65 247.00 L339.90 247.03 L340.15 247.06 L340.40 247.08 L340.65 247.10 L340.90 247.11 L341.15 247.12 L341.40 247.14 L341.65 247.15 L341.90 247.16 L342.15 247.17 L342.40 247.15 L342.65 247.12 L342.90 247.08 L343.15 247.04 L343.40 246.99 L343.65 246.96 L343.90 246.95 L344.65 247.00 L345.40 247.09 L346.15 247.12 L346.90 247.04 L347.65 246.93 L348.40 246.94 L349.15 247.14 L349.90 247.27 L350.65 247.25 L351.40 247.21 L352.15 247.18 L352.90 247.13 L353.65 247.06 L353.90 247.05 L354.15 247.03 L354.40 247.01 L354.65 246.98 L354.90 246.95 L355.15 246.92 L355.40 246.88 L355.65 246.85 L355.90 246.82 L356.15 246.80 L356.40 246.78 L356.65 246.75 L356.90 246.73 L357.15 246.70 L357.40 246.66 L357.65 246.63 L357.90 246.59 L358.15 246.54 L358.40 246.51 L358.65 246.49 L358.90 246.49 L359.15 246.48 L359.40 246.45 L359.65 246.40 L359.90 246.33 L360.15 246.22 L360.40 246.10 L360.65 245.96 L360.90 245.81 L361.15 245.65 L361.40 245.47 L361.65 245.27 L361.90 245.07 L362.15 244.85 L362.40 244.61 L362.65 244.35 L362.90 244.09 L363.15 243.85 L363.40 243.64 L363.65 243.49 L363.90 243.40 L364.15 243.38 L364.40 243.43 L364.65 243.56 L364.90 243.73 L365.15 243.95 L365.40 244.18 L365.65 244.43 L365.90 244.66 L366.15 244.88 L366.40 245.06 L366.65 245.21 L366.90 245.32 L367.15 245.42 L367.40 245.51 L367.65 245.60 L367.90 245.71 L368.15 245.82 L368.40 245.92 L368.65 246.01 L368.90 246.09 L369.15 246.16 L369.40 246.22 L369.65 246.28 L369.90 246.33 L370.15 246.39 L370.40 246.45 L370.65 246.52 L370.90 246.59 L371.15 246.67 L371.40 246.73 L371.65 246.79 L371.90 246.83 L372.15 246.86 L372.40 246.88 L372.65 246.89 L372.90 246.90 L373.15 246.91 L373.40 246.92 L373.65 246.93 L373.90 246.94 L374.15 246.96 L374.40 246.98 L374.65 246.99 L374.90 247.01 L375.15 247.03 L375.90 247.08 L376.65 247.12 L377.40 247.20 L378.15 247.24 L378.90 247.40 L379.65 247.60 L380.40 247.59 L381.15 247.35 L381.90 247.17 L382.65 247.19 L383.40 247.23 L384.15 247.24 L384.90 247.23 L385.65 247.20 L386.40 247.11 L387.15 246.95 L387.90 246.82 L388.65 246.93 L389.40 247.16 L390.15 247.29 L390.90 247.39 L391.65 247.48 L392.40 247.48 L393.15 247.29 L393.90 247.15 L394.65 247.20 L395.40 247.31 L396.15 247.35 L396.90 247.33 L397.65 247.30 L398.40 247.30 L399.15 247.35 L399.90 247.38 L400.65 247.32 L401.40 247.18 L402.15 247.13 L402.90 247.11 L403.65 247.09 L404.40 247.08 L405.15 247.04 L405.90 247.01 L406.65 247.09 L407.40 247.28 L408.15 247.35 L408.90 247.32 L409.65 247.28 L409.90 247.27 L410.15 247.27 L410.40 247.26 L410.65 247.25 L410.90 247.24 L411.15 247.22 L411.40 247.21 L411.65 247.20 L411.90 247.18 L412.15 247.17 L412.40 247.13 L412.65 247.06 L412.90 246.99 L413.15 246.90 L413.40 246.83 L413.65 246.76 L413.90 246.71 L414.15 246.68 L414.40 246.66 L414.65 246.66 L414.90 246.66 L415.15 246.66 L415.40 246.64 L415.65 246.61 L415.90 246.55 L416.15 246.47 L416.40 246.37 L416.65 246.26 L416.90 246.15 L417.15 246.03 L417.40 245.92 L417.65 245.82 L417.90 245.74 L418.15 245.70 L418.40 245.69 L418.65 245.70 L418.90 245.74 L419.15 245.80 L419.40 245.88 L419.65 245.97 L419.90 246.06 L420.15 246.15 L420.40 246.24 L420.65 246.33 L420.90 246.41 L421.15 246.47 L421.40 246.53 L421.65 246.58 L421.90 246.62 L422.15 246.65 L422.40 246.68 L422.65 246.72 L422.90 246.77 L423.15 246.81 L423.40 246.85 L423.65 246.86 L423.90 246.86 L424.15 246.85 L424.40 246.82 L424.65 246.78 L424.90 246.74 L425.15 246.68 L425.40 246.62 L425.65 246.55 L425.90 246.47 L426.15 246.37 L426.40 246.26 L426.65 246.13 L426.90 245.99 L427.15 245.84 L427.40 245.69 L427.65 245.56 L427.90 245.44 L428.15 245.36 L428.40 245.33 L428.65 245.35 L428.90 245.42 L429.15 245.52 L429.40 245.66 L429.65 245.80 L429.90 245.95 L430.15 246.09 L430.40 246.21 L430.65 246.31 L430.90 246.40 L431.15 246.47 L431.40 246.53 L431.65 246.59 L431.90 246.65 L432.15 246.71 L432.40 246.77 L432.65 246.83 L432.90 246.89 L433.15 246.95 L433.40 246.99 L433.65 247.04 L433.90 247.07 L434.15 247.09 L434.40 247.11 L434.65 247.13 L434.90 247.15 L435.15 247.16 L435.40 247.18 L435.65 247.19 L435.90 247.20 L436.15 247.21 L436.40 247.23 L436.65 247.25 L436.90 247.27 L437.15 247.29 L437.40 247.31 L438.15 247.34 L438.90 247.32 L439.65 247.30 L440.40 247.30 L441.15 247.30 L441.90 247.31 L442.65 247.32 L443.40 247.32 L444.15 247.33 L444.90 247.30 L445.65 247.27 L446.40 247.31 L447.15 247.51 L447.90 247.65 L448.65 247.60 L449.40 247.48 L450.15 247.43 L450.90 247.43 L451.65 247.43 L452.40 247.45 L453.15 247.58 L453.90 247.67 L454.65 247.65 L455.40 247.58 L456.15 247.56 L456.90 247.40 L457.65 247.21 L458.40 247.21 L459.15 247.36 L459.90 247.47 L460.65 247.48 L461.40 247.49 L462.15 247.49 L462.90 247.55 L463.65 247.62 L464.40 247.62 L465.15 247.58 L465.90 247.55 L466.65 247.54 L467.40 247.50 L468.15 247.48 L468.90 247.37 L469.65 247.24 L470.40 247.23 L471.15 247.25 L471.90 247.26 L472.65 247.29 L473.40 247.37 L474.15 247.39 L474.90 247.39 L475.65 247.39 L476.40 247.34 L477.15 247.19 L477.90 247.03 L478.65 246.90 L479.40 246.83 L480.15 246.92 L480.90 247.08 L481.65 247.18 L482.40 247.24 L483.15 247.31 L483.90 247.35 L484.65 247.37 L485.40 247.40 L486.15 247.41 L486.90 247.38 L487.65 247.34 L488.40 247.33 L489.15 247.27 L489.90 247.22 L490.65 247.30 L491.40 247.48 L492.15 247.55 L492.90 247.57 L493.65 247.59 L494.40 247.57 L495.15 247.45 L495.90 247.37 L496.65 247.40 L497.40 247.47 L498.15 247.49 L498.90 247.45 L499.65 247.40 L500.40 247.37 L501.15 247.34 L501.90 247.26 L502.65 247.12 L503.40 246.97 L504.15 247.02 L504.90 247.11 L505.65 247.14 L506.40 247.20 L507.15 247.33 L507.90 247.42 L508.65 247.45 L509.40 247.49 L510.15 247.50 L510.90 247.41 L511.65 247.28 L512.40 247.30 L513.15 247.50 L513.90 247.64 L514.65 247.65 L515.40 247.66 L516.15 247.66 L516.90 247.65 L517.65 247.63 L518.40 247.63 L519.15 247.64 L519.90 247.65 L520.65 247.62 L521.40 247.53 L522.15 247.49 L522.90 247.43 L523.65 247.36 L524.40 247.35 L525.15 247.33 L525.90 247.32 L526.65 247.31 L527.40 247.30 L528.15 247.29 L528.90 247.34 L529.65 247.40 L530.40 247.41 L531.15 247.40" stroke="#8954cb" stroke-width="2.40"/>
<path d="M47.40 290.85 L48.15 290.82 L48.90 290.90 L49.65 291.01 L50.40 291.02 L51.15 291.03 L51.90 291.03 L52.65 291.03 L53.40 291.03 L54.15 291.03 L54.90 291.00 L55.65 290.97 L56.40 290.97 L57.15 291.04 L57.90 291.08 L58.65 291.11 L59.40 291.18 L60.15 291.20 L60.90 291.14 L61.65 291.08 L62.40 291.06 L63.15 291.05 L63.90 291.04 L64.65 291.09 L65.40 291.23 L66.15 291.27 L66.90 291.25 L67.65 291.23 L68.40 291.23 L69.15 291.22 L69.90 291.22 L70.65 291.23 L71.40 291.24 L72.15 291.25 L72.90 291.17 L73.65 291.07 L74.40 291.06 L75.15 291.07 L75.90 291.08 L76.65 291.12 L77.40 291.21 L78.15 291.24 L78.90 291.15 L79.65 291.04 L80.40 291.03 L81.15 291.06 L81.90 291.08 L82.65 291.10 L83.40 291.13 L84.15 291.15 L84.90 291.14 L85.65 291.14 L86.40 291.14 L87.15 291.09 L87.90 291.06 L88.65 291.10 L89.40 291.19 L90.15 291.22 L90.90 291.16 L91.65 291.08 L92.40 291.08 L93.15 291.14 L93.90 291.18 L94.65 291.19 L95.40 291.21 L96.15 291.22 L96.90 291.19 L97.65 291.16 L98.40 291.15 L99.15 291.15 L99.90 291.14 L100.65 291.06 L101.40 290.89 L102.15 290.78 L102.90 290.66 L103.15 290.59 L103.40 290.50 L103.65 290.38 L103.90 290.20 L104.15 289.94 L104.40 289.54 L104.65 288.92 L104.90 288.04 L105.15 287.18 L105.40 287.09 L105.65 287.89 L105.90 288.83 L106.15 289.52 L106.40 289.97 L106.65 290.28 L106.90 290.50 L107.15 290.66 L107.40 290.77 L107.65 290.86 L107.90 290.92 L108.15 290.96 L108.40 291.00 L108.65 291.04 L109.40 291.17 L110.15 291.22 L110.90 291.09 L111.65 290.92 L112.40 290.92 L113.15 291.03 L113.90 291.11 L114.65 291.08 L115.40 291.00 L116.15 290.97 L116.90 290.98 L117.65 290.99 L118.40 291.00 L119.15 291.03 L119.90 291.05 L120.65 291.08 L121.40 291.15 L122.15 291.18 L122.90 291.15 L123.65 291.12 L124.40 291.13 L125.15 291.20 L125.90 291.24 L126.65 291.18 L127.40 291.02 L128.15 290.97 L128.90 291.07 L129.65 291.19 L130.40 291.21 L131.15 291.21 L131.90 291.21 L132.65 291.19 L133.40 291.12 L134.15 291.10 L134.90 291.12 L135.65 291.15 L136.40 291.14 L137.15 291.07 L137.90 291.02 L138.65 291.00 L139.40 290.96 L140.15 290.95 L140.90 290.99 L141.65 291.03 L142.40 291.03 L143.15 291.02 L143.90 291.00 L144.65 291.11 L145.40 291.37 L146.15 291.46 L146.90 291.28 L147.65 291.05 L148.40 291.05 L149.15 291.19 L149.90 291.29 L150.65 291.25 L151.40 291.14 L152.15 291.10 L152.90 291.11 L153.65 291.11 L154.40 291.12 L155.15 291.14 L155.90 291.16 L156.65 291.11 L157.40 291.00 L158.15 290.96 L158.90 291.04 L159.65 291.15 L160.40 291.15 L161.15 291.10 L161.90 291.07 L162.65 290.99 L163.40 290.84 L164.15 290.77 L164.90 290.85 L165.65 290.95 L166.40 290.90 L167.15 290.81 L167.90 290.66 L168.15 290.59 L168.40 290.50 L168.65 290.39 L168.90 290.26 L169.15 290.09 L169.40 289.88 L169.65 289.61 L169.90 289.24 L170.15 288.75 L170.40 288.10 L170.65 287.21 L170.90 286.02 L171.15 284.55 L171.40 283.11 L171.65 282.31 L171.90 282.69 L172.15 283.99 L172.40 285.50 L172.65 286.81 L172.90 287.79 L173.15 288.49 L173.40 289.00 L173.65 289.37 L173.90 289.66 L174.15 289.89 L174.40 290.08 L174.65 290.24 L174.90 290.38 L175.15 290.49 L175.40 290.59 L175.65 290.67 L175.90 290.73 L176.65 290.85 L177.40 290.94 L178.15 290.99 L178.90 290.94 L179.65 290.85 L180.40 290.88 L181.15 291.03 L181.90 291.14 L182.65 291.06 L183.40 290.87 L184.15 290.78 L184.90 290.75 L185.65 290.68 L186.40 290.48 L187.15 290.15 L187.90 290.28 L188.65 290.68 L189.40 290.77 L190.15 290.81 L190.90 290.90 L191.65 290.99 L192.40 290.99 L193.15 290.90 L193.90 290.83 L194.65 290.89 L195.40 291.01 L196.15 291.06 L196.90 291.00 L197.65 290.92 L198.40 290.93 L199.15 291.03 L199.90 291.10 L200.65 291.04 L201.40 290.91 L202.15 290.86 L202.90 290.97 L203.65 291.09 L204.40 291.10 L205.15 291.05 L205.90 291.02 L206.65 291.02 L207.40 291.05 L208.15 291.05 L208.90 291.04 L209.65 291.03 L210.40 291.03 L211.15 291.04 L211.90 291.04 L212.65 290.99 L213.40 290.88 L214.15 290.83 L214.90 290.76 L215.65 290.67 L216.40 290.68 L217.15 290.84 L217.90 290.95 L218.65 290.91 L219.40 290.81 L220.15 290.76 L220.90 290.75 L221.65 290.74 L222.40 290.70 L223.15 290.68 L223.90 290.62 L224.65 290.40 L225.40 290.00 L225.65 289.86 L225.90 289.73 L226.15 289.59 L226.40 289.44 L226.65 289.27 L226.90 289.07 L227.15 288.81 L227.40 288.48 L227.65 288.05 L227.90 287.50 L228.15 286.79 L228.40 285.87 L228.65 284.72 L228.90 283.30 L229.15 281.65 L229.40 279.95 L229.65 278.60 L229.90 278.07 L230.15 278.59 L230.40 279.94 L230.65 281.63 L230.90 283.27 L231.15 284.68 L231.40 285.83 L231.65 286.73 L231.90 287.44 L232.15 288.00 L232.40 288.46 L232.65 288.84 L232.90 289.16 L233.15 289.43 L233.40 289.65 L233.65 289.83 L233.90 289.97 L234.15 290.08 L234.40 290.17 L234.65 290.24 L234.90 290.30 L235.15 290.35 L235.90 290.45 L236.65 290.51 L237.40 290.51 L238.15 290.51 L238.90 290.50 L239.65 290.46 L240.40 290.42 L241.15 290.42 L241.40 290.41 L241.65 290.38 L241.90 290.31 L242.15 290.22 L242.40 290.08 L242.65 289.91 L242.90 289.70 L243.15 289.44 L243.40 289.12 L243.65 288.73 L243.90 288.25 L244.15 287.64 L244.40 286.85 L244.65 285.83 L244.90 284.59 L245.15 283.19 L245.40 281.94 L245.65 281.30 L245.90 281.61 L246.15 282.71 L246.40 284.13 L246.65 285.49 L246.90 286.62 L247.15 287.52 L247.40 288.20 L247.65 288.73 L247.90 289.14 L248.15 289.45 L248.40 289.67 L248.65 289.83 L248.90 289.94 L249.15 290.01 L249.40 290.07 L249.65 290.12 L249.90 290.17 L250.15 290.24 L250.40 290.30 L251.15 290.49 L251.90 290.61 L252.65 290.71 L253.40 290.83 L254.15 290.90 L254.90 290.94 L255.65 290.99 L256.40 291.01 L257.15 291.06 L257.90 291.09 L258.65 291.10 L259.40 291.11 L260.15 291.12 L260.90 291.13 L261.65 291.15 L262.40 291.14 L263.15 291.05 L263.90 290.98 L264.65 290.99 L265.40 291.00 L266.15 291.01 L266.90 291.06 L267.65 291.12 L268.40 291.11 L269.15 291.03 L269.90 290.96 L270.65 291.00 L271.40 291.10 L272.15 291.12 L272.90 290.96 L273.65 290.75 L274.40 290.71 L274.65 290.74 L274.90 290.76 L275.15 290.79 L275.40 290.81 L275.65 290.81 L275.90 290.78 L276.15 290.73 L276.40 290.65 L276.65 290.54 L276.90 290.41 L277.15 290.25 L277.40 290.05 L277.65 289.81 L277.90 289.52 L278.15 289.17 L278.40 288.78 L278.65 288.41 L278.90 288.17 L279.15 288.15 L279.40 288.34 L279.65 288.66 L279.90 289.01 L280.15 289.35 L280.40 289.65 L280.65 289.93 L280.90 290.17 L281.15 290.38 L281.40 290.55 L281.65 290.68 L281.90 290.78 L282.15 290.83 L282.40 290.87 L282.65 290.90 L282.90 290.91 L283.15 290.92 L283.40 290.92 L283.65 290.93 L283.90 290.94 L284.15 290.95 L284.90 290.97 L285.65 290.96 L286.40 290.95 L287.15 290.86 L287.90 290.76 L288.65 290.66 L289.40 290.40 L290.15 290.22 L290.90 290.69 L291.65 291.04 L292.40 291.13 L293.15 291.01 L293.90 290.92 L294.65 290.85 L295.40 290.67 L296.15 290.61 L296.90 290.75 L297.65 290.92 L298.40 290.95 L299.15 290.93 L299.90 290.91 L300.65 290.94 L301.40 291.02 L302.15 291.05 L302.90 291.04 L303.65 291.02 L304.40 291.00 L305.15 290.96 L305.90 290.94 L306.65 290.94 L307.40 290.95 L308.15 290.95 L308.90 291.05 L309.65 291.17 L310.40 291.16 L311.15 290.99 L311.90 290.86 L312.65 290.97 L313.40 291.21 L314.15 291.29 L314.90 291.16 L315.65 290.99 L316.40 290.95 L317.15 290.91 L317.90 290.88 L318.65 290.93 L319.40 291.06 L320.15 291.11 L320.90 291.09 L321.65 291.06 L322.40 291.03 L323.15 290.91 L323.90 290.81 L324.65 290.85 L325.40 290.95 L326.15 290.97 L326.40 290.93 L326.65 290.87 L326.90 290.79 L327.15 290.71 L327.40 290.64 L327.65 290.58 L327.90 290.54 L328.15 290.52 L328.40 290.50 L328.65 290.50 L328.90 290.49 L329.15 290.48 L329.40 290.47 L329.65 290.45 L329.90 290.42 L330.15 290.38 L330.40 290.34 L330.65 290.32 L330.90 290.31 L331.15 290.28 L331.40 290.25 L331.65 290.18 L331.90 290.09 L332.15 289.97 L332.40 289.81 L332.65 289.63 L332.90 289.42 L333.15 289.19 L333.40 288.95 L333.65 288.72 L333.90 288.50 L334.15 288.30 L334.40 288.14 L334.65 288.02 L334.90 287.96 L335.15 287.97 L335.40 288.04 L335.65 288.18 L335.90 288.35 L336.15 288.56 L336.40 288.79 L336.65 289.03 L336.90 289.26 L337.15 289.48 L337.40 289.68 L337.65 289.85 L337.90 289.99 L338.15 290.10 L338.40 290.20 L338.65 290.29 L338.90 290.38 L339.15 290.45 L339.40 290.52 L339.65 290.58 L339.90 290.62 L340.15 290.66 L340.40 290.69 L340.65 290.70 L340.90 290.71 L341.15 290.71 L341.40 290.71 L341.65 290.71 L341.90 290.72 L342.15 290.73 L342.40 290.73 L342.65 290.71 L342.90 290.68 L343.15 290.64 L343.40 290.61 L343.65 290.59 L343.90 290.58 L344.65 290.64 L345.40 290.76 L346.15 290.81 L346.90 290.85 L347.65 290.90 L348.40 290.91 L349.15 290.92 L349.90 290.93 L350.65 290.95 L351.40 291.01 L352.15 291.01 L352.90 290.86 L353.65 290.68 L353.90 290.65 L354.15 290.63 L354.40 290.61 L354.65 290.59 L354.90 290.56 L355.15 290.53 L355.40 290.51 L355.65 290.48 L355.90 290.44 L356.15 290.42 L356.40 290.39 L356.65 290.36 L356.90 290.33 L357.15 290.30 L357.40 290.26 L357.65 290.22 L357.90 290.17 L358.15 290.11 L358.40 290.05 L358.65 290.00 L358.90 289.95 L359.15 289.89 L359.40 289.81 L359.65 289.72 L359.90 289.61 L360.15 289.47 L360.40 289.30 L360.65 289.09 L360.90 288.86 L361.15 288.60 L361.40 288.33 L361.65 288.05 L361.90 287.78 L362.15 287.51 L362.40 287.26 L362.65 287.02 L362.90 286.81 L363.15 286.62 L363.40 286.46 L363.65 286.34 L363.90 286.27 L364.15 286.24 L364.40 286.25 L364.65 286.29 L364.90 286.38 L365.15 286.50 L365.40 286.66 L365.65 286.87 L365.90 287.11 L366.15 287.39 L366.40 287.70 L366.65 288.01 L366.90 288.33 L367.15 288.63 L367.40 288.91 L367.65 289.15 L367.90 289.34 L368.15 289.49 L368.40 289.60 L368.65 289.69 L368.90 289.76 L369.15 289.82 L369.40 289.88 L369.65 289.93 L369.90 289.99 L370.15 290.06 L370.40 290.13 L370.65 290.20 L370.90 290.28 L371.15 290.36 L371.40 290.42 L371.65 290.48 L371.90 290.53 L372.15 290.56 L372.40 290.59 L372.65 290.63 L372.90 290.66 L373.15 290.69 L373.40 290.72 L373.65 290.74 L373.90 290.76 L374.15 290.78 L374.40 290.77 L374.65 290.75 L374.90 290.73 L375.15 290.69 L375.90 290.64 L376.65 290.70 L377.40 290.80 L378.15 290.85 L378.90 290.89 L379.65 290.93 L380.40 290.94 L381.15 290.98 L381.90 291.00 L382.65 290.95 L383.40 290.84 L384.15 290.79 L384.90 290.76 L385.65 290.72 L386.40 290.62 L387.15 290.42 L387.90 290.26 L388.65 290.47 L389.40 290.95 L390.15 291.17 L390.90 291.09 L391.65 290.95 L392.40 290.94 L393.15 290.95 L393.90 290.96 L394.65 290.93 L395.40 290.85 L396.15 290.82 L396.90 290.95 L397.65 291.11 L398.40 291.12 L399.15 291.02 L399.90 290.95 L400.65 291.01 L401.40 291.15 L402.15 291.20 L402.90 291.16 L403.65 291.12 L404.40 291.10 L405.15 291.04 L405.90 290.99 L406.65 291.00 L407.40 291.04 L408.15 291.04 L408.90 290.93 L409.65 290.79 L409.90 290.77 L410.15 290.76 L410.40 290.76 L410.65 290.76 L410.90 290.77 L411.15 290.78 L411.40 290.78 L411.65 290.78 L411.90 290.77 L412.15 290.75 L412.40 290.73 L412.65 290.70 L412.90 290.67 L413.15 290.64 L413.40 290.61 L413.65 290.57 L413.90 290.53 L414.15 290.49 L414.40 290.43 L414.65 290.36 L414.90 290.29 L415.15 290.20 L415.40 290.10 L415.65 290.00 L415.90 289.90 L416.15 289.79 L416.40 289.68 L416.65 289.57 L416.90 289.45 L417.15 289.34 L417.40 289.23 L417.65 289.14 L417.90 289.05 L418.15 289.00 L418.40 288.99 L418.65 289.02 L418.90 289.10 L419.15 289.20 L419.40 289.32 L419.65 289.45 L419.90 289.59 L420.15 289.71 L420.40 289.85 L420.65 289.98 L420.90 290.11 L421.15 290.23 L421.40 290.33 L421.65 290.41 L421.90 290.48 L422.15 290.51 L422.40 290.49 L422.65 290.42 L422.90 290.32 L423.15 290.21 L423.40 290.10 L423.65 290.02 L423.90 289.97 L424.15 289.96 L424.40 289.97 L424.65 289.99 L424.90 290.01 L425.15 290.03 L425.40 290.04 L425.65 290.02 L425.90 289.96 L426.15 289.87 L426.40 289.77 L426.65 289.65 L426.90 289.52 L427.15 289.38 L427.40 289.24 L427.65 289.11 L427.90 289.00 L428.15 288.92 L428.40 288.89 L428.65 288.91 L428.90 288.97 L429.15 289.08 L429.40 289.21 L429.65 289.36 L429.90 289.50 L430.15 289.65 L430.40 289.79 L430.65 289.93 L430.90 290.07 L431.15 290.19 L431.40 290.30 L431.65 290.39 L431.90 290.47 L432.15 290.53 L432.40 290.59 L432.65 290.63 L432.90 290.68 L433.15 290.71 L433.40 290.75 L433.65 290.78 L433.90 290.80 L434.15 290.83 L434.40 290.84 L434.65 290.86 L434.90 290.86 L435.15 290.87 L435.40 290.88 L435.65 290.88 L435.90 290.89 L436.15 290.90 L436.40 290.91 L436.65 290.91 L436.90 290.91 L437.15 290.90 L437.40 290.90 L438.15 290.91 L438.90 290.97 L439.65 291.05 L440.40 291.07 L441.15 291.07 L441.90 291.07 L442.65 291.01 L443.40 290.86 L444.15 290.80 L444.90 290.89 L445.65 291.00 L446.40 291.00 L447.15 290.93 L447.90 290.88 L448.65 290.89 L449.40 290.90 L450.15 290.91 L450.90 290.99 L451.65 291.08 L452.40 291.09 L453.15 291.08 L453.90 291.08 L454.65 291.08 L455.40 291.09 L456.15 291.09 L456.90 291.04 L457.65 290.97 L458.40 290.97 L459.15 291.02 L459.90 291.05 L460.65 291.03 L461.40 290.98 L462.15 290.96 L462.90 291.03 L463.65 291.12 L464.40 291.13 L465.15 291.16 L465.90 291.17 L466.65 291.20 L467.40 291.28 L468.15 291.31 L468.90 291.28 L469.65 291.25 L470.40 291.21 L471.15 291.07 L471.90 290.97 L472.65 290.97 L473.40 290.99 L474.15 290.99 L474.90 290.96 L475.65 290.91 L476.40 290.89 L477.15 290.92 L477.90 290.90 L478.65 290.81 L479.40 290.81 L480.15 290.93 L480.90 291.01 L481.65 291.03 L482.40 291.04 L483.15 290.88 L483.90 290.76 L484.65 290.80 L485.40 290.87 L486.15 290.91 L486.90 290.91 L487.65 290.91 L488.40 290.93 L489.15 291.06 L489.90 291.15 L490.65 291.14 L491.40 291.10 L492.15 291.09 L492.90 291.10 L493.65 291.12 L494.40 291.14 L495.15 291.24 L495.90 291.31 L496.65 291.22 L497.40 291.03 L498.15 290.95 L498.90 290.94 L499.65 290.92 L500.40 290.93 L501.15 291.08 L501.90 291.13 L502.65 290.95 L503.40 290.69 L504.15 290.70 L504.90 290.80 L505.65 290.83 L506.40 290.87 L507.15 290.82 L507.90 290.78 L508.65 290.81 L509.40 290.86 L510.15 290.87 L510.90 290.83 L511.65 290.77 L512.40 290.80 L513.15 290.97 L513.90 291.10 L514.65 291.10 L515.40 291.10 L516.15 291.10 L516.90 291.15 L517.65 291.21 L518.40 291.21 L519.15 291.13 L519.90 291.08 L520.65 291.06 L521.40 291.02 L522.15 291.01 L522.90 291.00 L523.65 291.00 L524.40 291.03 L525.15 291.21 L525.90 291.34 L526.65 291.23 L527.40 290.97 L528.15 290.87 L528.90 290.97 L529.65 291.10 L530.40 291.12 L531.15 291.11" stroke="#1cb7ec" stroke-width="2.40"/>
<path d="M47.40 335.78 L48.15 335.78 L48.90 335.69 L49.65 335.58 L50.40 335.56 L51.15 335.53 L51.90 335.50 L52.65 335.52 L53.40 335.56 L54.15 335.57 L54.90 335.63 L55.65 335.70 L56.40 335.71 L57.15 335.67 L57.90 335.64 L58.65 335.62 L59.40 335.55 L60.15 335.53 L60.90 335.58 L61.65 335.64 L62.40 335.64 L63.15 335.60 L63.90 335.57 L64.65 335.59 L65.40 335.65 L66.15 335.66 L66.90 335.61 L67.65 335.56 L68.40 335.53 L69.15 335.46 L69.90 335.41 L70.65 335.46 L71.40 335.57 L72.15 335.61 L72.90 335.64 L73.65 335.69 L74.40 335.67 L75.15 335.55 L75.90 335.46 L76.65 335.49 L77.40 335.56 L78.15 335.59 L78.90 335.64 L79.65 335.70 L80.40 335.69 L81.15 335.61 L81.90 335.55 L82.65 335.54 L83.40 335.52 L84.15 335.52 L84.90 335.66 L85.65 335.83 L86.40 335.84 L87.15 335.76 L87.90 335.70 L88.65 335.70 L89.40 335.72 L90.15 335.72 L90.90 335.62 L91.65 335.49 L92.40 335.50 L93.15 335.67 L93.90 335.79 L94.65 335.69 L95.40 335.46 L96.15 335.37 L96.90 335.43 L97.65 335.49 L98.40 335.51 L99.15 335.59 L99.90 335.63 L100.65 335.63 L101.40 335.64 L102.15 335.60 L102.90 335.37 L103.15 335.25 L103.40 335.11 L103.65 334.95 L103.90 334.76 L104.15 334.49 L104.40 334.09 L104.65 333.46 L104.90 332.57 L105.15 331.70 L105.40 331.60 L105.65 332.39 L105.90 333.33 L106.15 334.01 L106.40 334.47 L106.65 334.77 L106.90 334.98 L107.15 335.13 L107.40 335.24 L107.65 335.32 L107.90 335.38 L108.15 335.42 L108.40 335.43 L108.65 335.41 L109.40 335.31 L110.15 335.29 L110.90 335.44 L111.65 335.61 L112.40 335.64 L113.15 335.64 L113.90 335.65 L114.65 335.62 L115.40 335.55 L116.15 335.53 L116.90 335.58 L117.65 335.65 L118.40 335.66 L119.15 335.68 L119.90 335.69 L120.65 335.67 L121.40 335.64 L122.15 335.63 L122.90 335.64 L123.65 335.66 L124.40 335.67 L125.15 335.74 L125.90 335.78 L126.65 335.72 L127.40 335.58 L128.15 335.53 L128.90 335.57 L129.65 335.61 L130.40 335.61 L131.15 335.56 L131.90 335.53 L132.65 335.57 L133.40 335.68 L134.15 335.72 L134.90 335.65 L135.65 335.56 L136.40 335.55 L137.15 335.61 L137.90 335.65 L138.65 335.64 L139.40 335.62 L140.15 335.61 L140.90 335.61 L141.65 335.60 L142.40 335.62 L143.15 335.73 L143.90 335.81 L144.65 335.75 L145.40 335.63 L146.15 335.58 L146.90 335.66 L147.65 335.75 L148.40 335.76 L149.15 335.72 L149.90 335.69 L150.65 335.70 L151.40 335.74 L152.15 335.75 L152.90 335.67 L153.65 335.57 L154.40 335.57 L155.15 335.64 L155.90 335.69 L156.65 335.68 L157.40 335.67 L158.15 335.66 L158.90 335.58 L159.65 335.49 L160.40 335.48 L161.15 335.54 L161.90 335.57 L162.65 335.55 L163.40 335.50 L164.15 335.48 L164.90 335.46 L165.65 335.43 L166.40 335.40 L167.15 335.41 L167.90 335.36 L168.65 335.09 L168.90 334.94 L169.15 334.75 L169.40 334.53 L169.65 334.27 L169.90 333.94 L170.15 333.51 L170.40 332.91 L170.65 332.04 L170.90 330.81 L171.15 329.20 L171.40 327.46 L171.65 326.42 L171.90 326.88 L172.15 328.45 L172.40 330.15 L172.65 331.51 L172.90 332.49 L173.15 333.18 L173.40 333.66 L173.65 334.01 L173.90 334.26 L174.15 334.46 L174.40 334.62 L174.65 334.76 L174.90 334.88 L175.15 334.99 L175.40 335.07 L176.15 335.23 L176.90 335.30 L177.65 335.34 L178.40 335.38 L179.15 335.45 L179.90 335.50 L180.65 335.52 L181.40 335.57 L182.15 335.59 L182.90 335.65 L183.65 335.72 L184.40 335.70 L185.15 335.58 L185.90 335.43 L186.65 335.22 L187.40 334.83 L188.15 335.13 L188.90 335.35 L189.65 335.38 L190.40 335.43 L191.15 335.54 L191.90 335.61 L192.65 335.65 L193.40 335.71 L194.15 335.73 L194.90 335.73 L195.65 335.73 L196.40 335.69 L197.15 335.48 L197.90 335.32 L198.65 335.41 L199.40 335.60 L200.15 335.68 L200.90 335.71 L201.65 335.76 L202.40 335.75 L203.15 335.70 L203.90 335.67 L204.65 335.59 L205.40 335.43 L206.15 335.37 L206.90 335.43 L207.65 335.50 L208.40 335.52 L209.15 335.58 L209.90 335.62 L210.65 335.61 L211.40 335.59 L212.15 335.58 L212.90 335.52 L213.65 335.43 L214.40 335.41 L215.15 335.40 L215.90 335.39 L216.65 335.43 L217.40 335.55 L218.15 335.58 L218.90 335.45 L219.65 335.28 L220.40 335.26 L221.15 335.41 L221.90 335.50 L222.65 335.41 L223.40 335.23 L224.15 335.09 L224.90 334.96 L225.65 334.74 L225.90 334.64 L226.15 334.51 L226.40 334.35 L226.65 334.14 L226.90 333.88 L227.15 333.56 L227.40 333.17 L227.65 332.70 L227.90 332.11 L228.15 331.35 L228.40 330.33 L228.65 328.98 L228.90 327.16 L229.15 324.83 L229.40 322.15 L229.65 319.77 L229.90 318.78 L230.15 319.78 L230.40 322.18 L230.65 324.90 L230.90 327.27 L231.15 329.13 L231.40 330.53 L231.65 331.57 L231.90 332.34 L232.15 332.91 L232.40 333.33 L232.65 333.64 L232.90 333.86 L233.15 334.03 L233.40 334.16 L233.65 334.27 L233.90 334.37 L234.15 334.48 L234.40 334.60 L235.15 335.01 L235.90 335.30 L236.65 335.27 L237.40 335.06 L238.15 334.99 L238.90 334.99 L239.65 334.97 L240.40 334.93 L241.15 334.89 L241.90 334.76 L242.15 334.66 L242.40 334.55 L242.65 334.42 L242.90 334.24 L243.15 334.03 L243.40 333.74 L243.65 333.36 L243.90 332.85 L244.15 332.16 L244.40 331.22 L244.65 329.93 L244.90 328.21 L245.15 326.10 L245.40 324.01 L245.65 322.86 L245.90 323.38 L246.15 325.23 L246.40 327.41 L246.65 329.30 L246.90 330.74 L247.15 331.79 L247.40 332.55 L247.65 333.11 L247.90 333.54 L248.15 333.87 L248.40 334.13 L248.65 334.34 L248.90 334.51 L249.15 334.64 L249.40 334.75 L249.65 334.85 L249.90 334.92 L250.65 335.09 L251.40 335.19 L252.15 335.27 L252.90 335.30 L253.65 335.32 L254.40 335.32 L255.15 335.22 L255.90 335.14 L256.65 335.26 L257.40 335.52 L258.15 335.62 L258.90 335.59 L259.65 335.55 L260.40 335.55 L261.15 335.55 L261.90 335.55 L262.65 335.53 L263.40 335.47 L264.15 335.46 L264.90 335.50 L265.65 335.56 L266.40 335.56 L267.15 335.54 L267.90 335.53 L268.65 335.52 L269.40 335.51 L270.15 335.51 L270.90 335.56 L271.65 335.62 L272.40 335.58 L273.15 335.37 L273.90 335.20 L274.65 335.20 L275.40 335.25 L275.65 335.23 L275.90 335.20 L276.15 335.13 L276.40 335.03 L276.65 334.90 L276.90 334.74 L277.15 334.53 L277.40 334.26 L277.65 333.92 L277.90 333.47 L278.15 332.91 L278.40 332.23 L278.65 331.55 L278.90 331.13 L279.15 331.20 L279.40 331.73 L279.65 332.45 L279.90 333.13 L280.15 333.67 L280.40 334.09 L280.65 334.43 L280.90 334.69 L281.15 334.91 L281.40 335.08 L281.65 335.21 L281.90 335.30 L282.15 335.36 L282.40 335.39 L282.65 335.38 L282.90 335.36 L283.15 335.32 L283.40 335.29 L284.15 335.28 L284.90 335.36 L285.65 335.44 L286.40 335.45 L287.15 335.41 L287.90 335.35 L288.65 335.29 L289.40 335.10 L290.15 334.90 L290.90 335.21 L291.65 335.30 L292.40 335.35 L293.15 335.34 L293.90 335.33 L294.65 335.40 L295.40 335.56 L296.15 335.62 L296.90 335.58 L297.65 335.53 L298.40 335.53 L299.15 335.53 L299.90 335.53 L300.65 335.58 L301.40 335.68 L302.15 335.71 L302.90 335.61 L303.65 335.49 L304.40 335.47 L305.15 335.50 L305.90 335.53 L306.65 335.55 L307.40 335.58 L308.15 335.60 L308.90 335.61 L309.65 335.63 L310.40 335.62 L311.15 335.55 L311.90 335.51 L312.65 335.55 L313.40 335.66 L314.15 335.70 L314.90 335.76 L315.65 335.84 L316.40 335.81 L317.15 335.64 L317.90 335.51 L318.65 335.58 L319.40 335.73 L320.15 335.78 L320.90 335.57 L321.65 335.32 L322.40 335.32 L323.15 335.54 L323.90 335.69 L324.65 335.63 L325.40 335.50 L326.15 335.44 L326.90 335.44 L327.65 335.45 L328.40 335.41 L329.15 335.33 L329.90 335.24 L330.15 335.21 L330.40 335.17 L330.65 335.12 L330.90 335.07 L331.15 335.00 L331.40 334.93 L331.65 334.84 L331.90 334.74 L332.15 334.62 L332.40 334.47 L332.65 334.28 L332.90 334.04 L333.15 333.75 L333.40 333.38 L333.65 332.93 L333.90 332.41 L334.15 331.82 L334.40 331.25 L334.65 330.82 L334.90 330.67 L335.15 330.86 L335.40 331.33 L335.65 331.92 L335.90 332.51 L336.15 333.04 L336.40 333.49 L336.65 333.87 L336.90 334.19 L337.15 334.46 L337.40 334.67 L337.65 334.84 L337.90 334.98 L338.15 335.07 L338.40 335.15 L338.65 335.22 L338.90 335.27 L339.15 335.31 L339.40 335.35 L339.65 335.38 L339.90 335.41 L340.15 335.43 L340.40 335.44 L341.15 335.40 L341.90 335.36 L342.65 335.38 L343.40 335.39 L344.15 335.40 L344.90 335.40 L345.65 335.40 L346.40 335.39 L347.15 335.36 L347.90 335.34 L348.65 335.43 L349.40 335.64 L350.15 335.71 L350.90 335.64 L351.65 335.56 L352.40 335.53 L353.15 335.48 L353.90 335.44 L354.65 335.40 L355.40 335.33 L356.15 335.27 L356.90 335.20 L357.65 335.10 L358.40 335.02 L358.65 335.03 L358.90 335.03 L359.15 335.04 L359.40 335.03 L359.65 335.01 L359.90 334.95 L360.15 334.86 L360.40 334.75 L360.65 334.62 L360.90 334.46 L361.15 334.28 L361.40 334.06 L361.65 333.80 L361.90 333.50 L362.15 333.15 L362.40 332.70 L362.65 332.17 L362.90 331.56 L363.15 330.89 L363.40 330.22 L363.65 329.65 L363.90 329.27 L364.15 329.18 L364.40 329.41 L364.65 329.89 L364.90 330.53 L365.15 331.21 L365.40 331.87 L365.65 332.44 L365.90 332.93 L366.15 333.32 L366.40 333.63 L366.65 333.87 L366.90 334.05 L367.15 334.19 L367.40 334.30 L367.65 334.41 L367.90 334.50 L368.15 334.60 L368.40 334.70 L368.65 334.81 L368.90 334.91 L369.15 335.01 L369.40 335.10 L369.65 335.17 L369.90 335.22 L370.15 335.25 L370.40 335.27 L370.65 335.26 L371.40 335.22 L372.15 335.23 L372.90 335.29 L373.65 335.36 L374.40 335.40 L375.15 335.47 L375.90 335.53 L376.65 335.54 L377.40 335.55 L378.15 335.56 L378.90 335.59 L379.65 335.63 L380.40 335.62 L381.15 335.50 L381.90 335.41 L382.65 335.48 L383.40 335.64 L384.15 335.69 L384.90 335.66 L385.65 335.61 L386.40 335.51 L387.15 335.27 L387.90 335.06 L388.65 335.17 L389.40 335.38 L390.15 335.48 L390.90 335.47 L391.65 335.42 L392.40 335.44 L393.15 335.49 L393.90 335.52 L394.65 335.49 L395.40 335.42 L396.15 335.39 L396.90 335.47 L397.65 335.56 L398.40 335.57 L399.15 335.58 L399.90 335.58 L400.65 335.62 L401.40 335.70 L402.15 335.72 L402.90 335.70 L403.65 335.67 L404.40 335.67 L405.15 335.65 L405.90 335.64 L406.65 335.60 L407.40 335.52 L408.15 335.48 L408.90 335.48 L409.65 335.47 L410.40 335.46 L411.15 335.43 L411.90 335.40 L412.65 335.38 L413.40 335.36 L413.65 335.35 L413.90 335.33 L414.15 335.29 L414.40 335.24 L414.65 335.16 L414.90 335.06 L415.15 334.94 L415.40 334.82 L415.65 334.70 L415.90 334.57 L416.15 334.44 L416.40 334.29 L416.65 334.13 L416.90 333.93 L417.15 333.67 L417.40 333.34 L417.65 332.98 L417.90 332.62 L418.15 332.38 L418.40 332.33 L418.65 332.49 L418.90 332.79 L419.15 333.14 L419.40 333.47 L419.65 333.76 L419.90 334.01 L420.15 334.23 L420.40 334.41 L420.65 334.57 L420.90 334.70 L421.15 334.81 L421.40 334.90 L421.65 334.97 L421.90 335.03 L422.15 335.06 L422.40 335.09 L422.65 335.12 L422.90 335.15 L423.15 335.17 L423.40 335.18 L423.65 335.19 L423.90 335.18 L424.15 335.18 L424.40 335.15 L424.65 335.12 L424.90 335.07 L425.15 335.01 L425.40 334.95 L425.65 334.87 L425.90 334.78 L426.15 334.68 L426.40 334.56 L426.65 334.43 L426.90 334.26 L427.15 334.05 L427.40 333.76 L427.65 333.41 L427.90 333.03 L428.15 332.67 L428.40 332.45 L428.65 332.45 L428.90 332.65 L429.15 332.98 L429.40 333.36 L429.65 333.71 L429.90 334.02 L430.15 334.29 L430.40 334.52 L430.65 334.72 L430.90 334.89 L431.15 335.04 L431.40 335.17 L431.65 335.27 L431.90 335.34 L432.15 335.39 L432.40 335.43 L432.65 335.46 L432.90 335.48 L433.15 335.50 L433.40 335.51 L433.65 335.53 L433.90 335.54 L434.65 335.53 L435.40 335.45 L436.15 335.43 L436.90 335.49 L437.65 335.56 L438.40 335.59 L439.15 335.66 L439.90 335.71 L440.65 335.66 L441.40 335.56 L442.15 335.52 L442.90 335.54 L443.65 335.57 L444.40 335.57 L445.15 335.53 L445.90 335.50 L446.65 335.52 L447.40 335.57 L448.15 335.58 L448.90 335.57 L449.65 335.54 L450.40 335.54 L451.15 335.57 L451.90 335.59 L452.65 335.62 L453.40 335.69 L454.15 335.71 L454.90 335.73 L455.65 335.76 L456.40 335.75 L457.15 335.66 L457.90 335.61 L458.65 335.61 L459.40 335.61 L460.15 335.61 L460.90 335.65 L461.65 335.69 L462.40 335.68 L463.15 335.61 L463.90 335.55 L464.65 335.53 L465.40 335.48 L466.15 335.46 L466.90 335.57 L467.65 335.71 L468.40 335.70 L469.15 335.57 L469.90 335.47 L470.65 335.52 L471.40 335.65 L472.15 335.69 L472.90 335.59 L473.65 335.47 L474.40 335.48 L475.15 335.65 L475.90 335.76 L476.65 335.65 L477.40 335.40 L478.15 335.23 L478.90 335.15 L479.65 335.19 L480.40 335.37 L481.15 335.56 L481.90 335.67 L482.65 335.64 L483.40 335.49 L484.15 335.44 L484.90 335.58 L485.65 335.74 L486.40 335.74 L487.15 335.59 L487.90 335.48 L488.65 335.46 L489.40 335.39 L490.15 335.37 L490.90 335.50 L491.65 335.66 L492.40 335.68 L493.15 335.68 L493.90 335.67 L494.65 335.65 L495.40 335.58 L496.15 335.55 L496.90 335.43 L497.65 335.28 L498.40 335.28 L499.15 335.43 L499.90 335.53 L500.65 335.50 L501.40 335.44 L502.15 335.34 L502.90 335.17 L503.65 335.05 L504.40 335.19 L505.15 335.35 L505.90 335.44 L506.65 335.44 L507.40 335.36 L508.15 335.34 L508.90 335.41 L509.65 335.49 L510.40 335.54 L511.15 335.70 L511.90 335.81 L512.65 335.81 L513.40 335.79 L514.15 335.78 L514.90 335.69 L515.65 335.57 L516.40 335.54 L517.15 335.52 L517.90 335.51 L518.65 335.54 L519.40 335.62 L520.15 335.65 L520.90 335.68 L521.65 335.72 L522.40 335.73 L523.15 335.70 L523.90 335.69 L524.65 335.63 L525.40 335.50 L526.15 335.45 L526.90 335.52 L527.65 335.61 L528.40 335.62 L529.15 335.62 L529.90 335.62 L530.65 335.65" stroke="#eeaa0c" stroke-width="2.40"/>
<path d="M47.40 379.37 L48.15 379.38 L48.90 379.39 L49.65 379.40 L50.40 379.42 L51.15 379.49 L51.90 379.55 L52.65 379.50 L53.40 379.37 L54.15 379.33 L54.90 379.37 L55.65 379.43 L56.40 379.44 L57.15 379.41 L57.90 379.40 L58.65 379.36 L59.40 379.27 L60.15 379.24 L60.90 379.25 L61.65 379.26 L62.40 379.27 L63.15 379.33 L63.90 379.37 L64.65 379.39 L65.40 379.43 L66.15 379.45 L66.90 379.45 L67.65 379.44 L68.40 379.44 L69.15 379.45 L69.90 379.46 L70.65 379.45 L71.40 379.42 L72.15 379.40 L72.90 379.38 L73.65 379.35 L74.40 379.35 L75.15 379.41 L75.90 379.45 L76.65 379.41 L77.40 379.31 L78.15 379.27 L78.90 379.26 L79.65 379.23 L80.40 379.24 L81.15 379.31 L81.90 379.36 L82.65 379.32 L83.40 379.25 L84.15 379.22 L84.90 379.27 L85.65 379.32 L86.40 379.33 L87.15 379.31 L87.90 379.30 L88.65 379.31 L89.40 379.32 L90.15 379.33 L90.90 379.35 L91.65 379.38 L92.40 379.38 L93.15 379.33 L93.90 379.29 L94.65 379.30 L95.40 379.33 L96.15 379.33 L96.90 379.26 L97.65 379.18 L98.40 379.19 L99.15 379.30 L99.90 379.38 L100.65 379.34 L101.40 379.25 L102.15 379.20 L102.40 379.19 L102.65 379.20 L102.90 379.20 L103.15 379.19 L103.40 379.17 L103.65 379.12 L103.90 379.02 L104.15 378.84 L104.40 378.52 L104.65 378.04 L104.90 377.40 L105.15 376.81 L105.40 376.68 L105.65 377.08 L105.90 377.63 L106.15 378.09 L106.40 378.42 L106.65 378.65 L106.90 378.82 L107.15 378.95 L107.40 379.04 L107.65 379.12 L107.90 379.16 L108.15 379.19 L108.40 379.21 L108.65 379.25 L109.40 379.35 L110.15 379.38 L110.90 379.26 L111.65 379.09 L112.40 379.10 L113.15 379.24 L113.90 379.34 L114.65 379.35 L115.40 379.39 L116.15 379.40 L116.90 379.40 L117.65 379.40 L118.40 379.38 L119.15 379.28 L119.90 379.21 L120.65 379.26 L121.40 379.38 L122.15 379.42 L122.90 379.42 L123.65 379.41 L124.40 379.40 L125.15 379.33 L125.90 379.27 L126.65 379.32 L127.40 379.44 L128.15 379.48 L128.90 379.44 L129.65 379.39 L130.40 379.39 L131.15 379.39 L131.90 379.39 L132.65 379.38 L133.40 379.35 L134.15 379.34 L134.90 379.39 L135.65 379.45 L136.40 379.45 L137.15 379.42 L137.90 379.40 L138.65 379.43 L139.40 379.50 L140.15 379.53 L140.90 379.49 L141.65 379.45 L142.40 379.43 L143.15 379.35 L143.90 379.30 L144.65 379.31 L145.40 379.33 L146.15 379.34 L146.90 379.39 L147.65 379.45 L148.40 379.43 L149.15 379.33 L149.90 379.22 L150.15 379.19 L150.40 379.17 L150.65 379.14 L150.90 379.09 L151.15 379.01 L151.40 378.87 L151.65 378.64 L151.90 378.26 L152.15 377.74 L152.40 377.21 L152.65 377.05 L152.90 377.41 L153.15 377.97 L153.40 378.44 L153.65 378.77 L153.90 378.97 L154.15 379.10 L154.40 379.18 L154.65 379.22 L154.90 379.24 L155.15 379.25 L155.40 379.26 L155.65 379.26 L155.90 379.27 L156.65 379.23 L157.40 379.09 L158.15 379.04 L158.90 379.17 L159.65 379.33 L160.40 379.35 L161.15 379.35 L161.90 379.35 L162.65 379.33 L163.40 379.31 L164.15 379.29 L164.90 379.22 L165.65 379.13 L166.40 379.09 L167.15 379.14 L167.90 379.10 L168.65 378.84 L168.90 378.69 L169.15 378.51 L169.40 378.28 L169.65 377.99 L169.90 377.60 L170.15 377.05 L170.40 376.22 L170.65 374.99 L170.90 373.25 L171.15 371.01 L171.40 368.65 L171.65 367.26 L171.90 367.89 L172.15 370.01 L172.40 372.38 L172.65 374.31 L172.90 375.72 L173.15 376.69 L173.40 377.34 L173.65 377.77 L173.90 378.08 L174.15 378.30 L174.40 378.47 L174.65 378.62 L174.90 378.75 L175.15 378.85 L175.40 378.95 L176.15 379.11 L176.90 379.12 L177.65 379.08 L178.40 379.11 L179.15 379.14 L179.90 379.17 L180.65 379.27 L181.40 379.50 L182.15 379.58 L182.90 379.55 L183.65 379.52 L184.40 379.51 L185.15 379.50 L185.90 379.49 L186.65 379.50 L187.40 379.53 L188.15 379.53 L188.90 379.50 L189.65 379.45 L190.40 379.42 L191.15 379.27 L191.90 379.16 L192.65 379.25 L193.40 379.45 L194.15 379.52 L194.90 379.53 L195.65 379.53 L196.40 379.52 L197.15 379.47 L197.90 379.44 L198.65 379.36 L199.40 379.19 L200.15 379.13 L200.90 379.30 L201.65 379.50 L202.40 379.53 L203.15 379.54 L203.90 379.54 L204.65 379.48 L205.40 379.35 L206.15 379.30 L206.90 379.34 L207.65 379.37 L208.40 379.38 L209.15 379.42 L209.90 379.45 L210.65 379.42 L211.40 379.36 L212.15 379.34 L212.90 379.39 L213.65 379.47 L214.40 379.46 L215.15 379.39 L215.90 379.33 L216.65 379.34 L217.40 379.37 L218.15 379.37 L218.90 379.33 L219.65 379.27 L220.40 379.22 L221.15 379.09 L221.90 378.98 L222.65 378.95 L223.40 378.91 L224.15 378.84 L224.90 378.91 L225.65 378.94 L226.40 378.55 L226.65 378.30 L226.90 377.98 L227.15 377.59 L227.40 377.09 L227.65 376.45 L227.90 375.57 L228.15 374.28 L228.40 372.30 L228.65 369.29 L228.90 364.93 L229.15 359.31 L229.40 353.97 L229.65 352.34 L229.90 355.91 L230.15 361.72 L230.40 366.93 L230.65 370.73 L230.90 373.30 L231.15 374.96 L231.40 376.05 L231.65 376.78 L231.90 377.30 L232.15 377.68 L232.40 377.97 L232.65 378.21 L232.90 378.40 L233.15 378.56 L233.90 378.88 L234.65 379.02 L235.40 379.05 L236.15 379.08 L236.90 379.06 L237.65 379.01 L238.40 379.02 L239.15 379.04 L239.90 379.04 L240.65 378.93 L241.40 378.69 L242.15 378.46 L242.90 378.21 L243.15 378.07 L243.40 377.86 L243.65 377.57 L243.90 377.12 L244.15 376.43 L244.40 375.36 L244.65 373.64 L244.90 370.94 L245.15 367.01 L245.40 362.31 L245.65 359.25 L245.90 360.70 L246.15 365.18 L246.40 369.56 L246.65 372.71 L246.90 374.73 L247.15 375.97 L247.40 376.73 L247.65 377.22 L247.90 377.57 L248.15 377.85 L248.40 378.08 L248.65 378.28 L248.90 378.46 L249.65 378.87 L250.40 379.04 L251.15 379.17 L251.90 379.27 L252.65 379.32 L253.40 379.39 L254.15 379.42 L254.90 379.33 L255.65 379.20 L256.40 379.19 L257.15 379.22 L257.90 379.24 L258.65 379.21 L259.40 379.13 L260.15 379.10 L260.90 379.15 L261.65 379.20 L262.40 379.23 L263.15 379.34 L263.90 379.41 L264.65 379.46 L265.40 379.57 L266.15 379.60 L266.90 379.43 L267.65 379.23 L268.40 379.22 L269.15 379.38 L269.90 379.50 L270.65 379.46 L271.40 379.38 L272.15 379.34 L272.90 379.27 L273.65 379.18 L274.40 379.15 L275.15 379.25 L275.90 379.23 L276.15 379.15 L276.40 379.01 L276.65 378.81 L276.90 378.54 L277.15 378.19 L277.40 377.76 L277.65 377.20 L277.90 376.48 L278.15 375.54 L278.40 374.38 L278.65 373.17 L278.90 372.38 L279.15 372.55 L279.40 373.58 L279.65 374.89 L279.90 376.06 L280.15 376.94 L280.40 377.58 L280.65 378.03 L280.90 378.34 L281.15 378.56 L281.40 378.72 L281.65 378.84 L281.90 378.93 L282.15 379.00 L282.40 379.08 L282.65 379.16 L282.90 379.24 L283.65 379.44 L284.40 379.50 L285.15 379.52 L285.90 379.52 L286.65 379.55 L287.40 379.60 L288.15 379.62 L288.90 379.52 L289.65 379.39 L290.40 379.39 L291.15 379.45 L291.90 379.49 L292.65 379.50 L293.40 379.53 L294.15 379.54 L294.90 379.50 L295.65 379.45 L296.40 379.44 L297.15 379.43 L297.90 379.43 L298.65 379.41 L299.40 379.37 L300.15 379.36 L300.90 379.35 L301.65 379.33 L302.40 379.32 L303.15 379.27 L303.90 379.23 L304.65 379.32 L305.40 379.54 L306.15 379.62 L306.90 379.50 L307.65 379.35 L308.40 379.31 L309.15 379.20 L309.90 379.12 L310.65 379.19 L311.40 379.35 L312.15 379.41 L312.90 379.40 L313.65 379.38 L314.40 379.37 L315.15 379.39 L315.90 379.40 L316.65 379.44 L317.40 379.56 L318.15 379.59 L318.90 379.49 L319.65 379.37 L320.40 379.34 L321.15 379.33 L321.90 379.32 L322.65 379.30 L323.40 379.26 L324.15 379.24 L324.90 379.27 L325.65 379.30 L326.40 379.29 L327.15 379.24 L327.90 379.20 L328.65 379.18 L329.40 379.18 L330.15 379.13 L330.90 379.16 L331.15 379.18 L331.40 379.18 L331.65 379.15 L331.90 379.08 L332.15 378.96 L332.40 378.78 L332.65 378.52 L332.90 378.17 L333.15 377.71 L333.40 377.11 L333.65 376.32 L333.90 375.32 L334.15 374.11 L334.40 372.75 L334.65 371.57 L334.90 371.07 L335.15 371.51 L335.40 372.64 L335.65 373.96 L335.90 375.16 L336.15 376.14 L336.40 376.91 L336.65 377.50 L336.90 377.96 L337.15 378.31 L337.40 378.58 L337.65 378.78 L337.90 378.93 L338.15 379.02 L338.40 379.09 L338.65 379.13 L338.90 379.16 L339.15 379.18 L339.40 379.19 L340.15 379.25 L340.90 379.30 L341.65 379.34 L342.40 379.36 L343.15 379.37 L343.90 379.38 L344.65 379.40 L345.40 379.41 L346.15 379.42 L346.90 379.42 L347.65 379.41 L348.40 379.42 L349.15 379.47 L349.90 379.50 L350.65 379.49 L351.40 379.46 L352.15 379.44 L352.90 379.46 L353.65 379.47 L354.40 379.44 L355.15 379.31 L355.90 379.20 L356.65 379.20 L357.40 379.21 L358.15 379.18 L358.90 379.09 L359.65 378.97 L360.40 378.88 L361.15 378.81 L361.40 378.77 L361.65 378.70 L361.90 378.60 L362.15 378.44 L362.40 378.25 L362.65 377.99 L362.90 377.64 L363.15 377.17 L363.40 376.53 L363.65 375.68 L363.90 374.58 L364.15 373.20 L364.40 371.63 L364.65 370.14 L364.90 369.21 L365.15 369.29 L365.40 370.31 L365.65 371.81 L365.90 373.33 L366.15 374.66 L366.40 375.72 L366.65 376.54 L366.90 377.16 L367.15 377.63 L367.40 377.98 L367.65 378.24 L367.90 378.43 L368.15 378.58 L368.40 378.72 L368.65 378.85 L368.90 378.97 L369.15 379.09 L369.40 379.19 L369.65 379.27 L370.40 379.38 L371.15 379.36 L371.90 379.34 L372.65 379.31 L373.40 379.17 L374.15 379.13 L374.90 379.20 L375.65 379.27 L376.40 379.30 L377.15 379.36 L377.90 379.40 L378.65 379.38 L379.40 379.33 L380.15 379.32 L380.90 379.34 L381.65 379.36 L382.40 379.36 L383.15 379.40 L383.90 379.41 L384.15 379.39 L384.40 379.37 L384.65 379.34 L384.90 379.29 L385.15 379.24 L385.40 379.18 L385.65 379.11 L385.90 379.02 L386.15 378.91 L386.40 378.75 L386.65 378.52 L386.90 378.23 L387.15 377.89 L387.40 377.54 L387.65 377.29 L387.90 377.25 L388.15 377.45 L388.40 377.78 L388.65 378.13 L388.90 378.44 L389.15 378.70 L389.40 378.89 L389.65 379.04 L389.90 379.14 L390.15 379.20 L390.40 379.24 L390.65 379.25 L390.90 379.26 L391.15 379.26 L391.40 379.26 L391.65 379.26 L391.90 379.27 L392.15 379.28 L392.90 379.31 L393.65 379.34 L394.40 379.34 L395.15 379.31 L395.90 379.28 L396.65 379.26 L397.40 379.20 L398.15 379.18 L398.90 379.19 L399.65 379.20 L400.40 379.21 L401.15 379.27 L401.90 379.31 L402.65 379.29 L403.40 379.24 L404.15 379.22 L404.90 379.13 L405.65 379.02 L406.40 379.05 L407.15 379.30 L407.90 379.48 L408.65 379.41 L409.40 379.24 L410.15 379.17 L410.90 379.17 L411.65 379.18 L412.40 379.18 L413.15 379.23 L413.90 379.24 L414.65 379.07 L414.90 378.97 L415.15 378.85 L415.40 378.74 L415.65 378.63 L415.90 378.53 L416.15 378.43 L416.40 378.34 L416.65 378.24 L416.90 378.09 L417.15 377.86 L417.40 377.50 L417.65 376.96 L417.90 376.22 L418.15 375.28 L418.40 374.30 L418.65 373.58 L418.90 373.46 L419.15 373.99 L419.40 374.87 L419.65 375.78 L419.90 376.57 L420.15 377.20 L420.40 377.68 L420.65 378.05 L420.90 378.33 L421.15 378.54 L421.40 378.70 L421.65 378.82 L421.90 378.91 L422.15 378.96 L422.40 378.99 L422.65 379.01 L422.90 379.00 L423.15 379.00 L423.90 378.96 L424.65 378.96 L425.40 378.94 L425.65 378.91 L425.90 378.86 L426.15 378.79 L426.40 378.69 L426.65 378.56 L426.90 378.38 L427.15 378.13 L427.40 377.79 L427.65 377.31 L427.90 376.68 L428.15 375.87 L428.40 374.92 L428.65 374.00 L428.90 373.42 L429.15 373.49 L429.40 374.17 L429.65 375.12 L429.90 376.05 L430.15 376.83 L430.40 377.41 L430.65 377.82 L430.90 378.10 L431.15 378.29 L431.40 378.42 L431.65 378.52 L431.90 378.60 L432.15 378.68 L432.40 378.74 L432.65 378.80 L432.90 378.85 L433.15 378.90 L433.40 378.93 L434.15 379.01 L434.90 379.13 L435.65 379.25 L436.40 379.31 L437.15 379.42 L437.90 379.50 L438.65 379.45 L439.40 379.32 L440.15 379.28 L440.90 379.34 L441.65 379.42 L442.40 379.43 L443.15 379.40 L443.90 379.39 L444.65 379.40 L445.40 379.43 L446.15 379.44 L446.90 379.47 L447.65 379.50 L448.40 379.48 L449.15 379.31 L449.90 379.19 L450.65 379.25 L451.40 379.37 L452.15 379.42 L452.90 379.40 L453.65 379.37 L454.40 379.36 L455.15 379.35 L455.90 379.35 L456.65 379.33 L457.40 379.30 L458.15 379.28 L458.90 379.29 L459.65 379.29 L460.40 379.29 L461.15 379.27 L461.90 379.26 L462.65 379.26 L463.40 379.25 L464.15 379.26 L464.90 379.44 L465.65 379.68 L466.40 379.70 L467.15 379.65 L467.90 379.61 L468.65 379.55 L469.40 379.44 L470.15 379.39 L470.90 379.43 L471.65 379.47 L472.40 379.46 L473.15 379.34 L473.90 379.26 L474.65 379.20 L475.40 379.07 L476.15 379.02 L476.90 379.05 L477.65 379.09 L477.90 379.09 L478.15 379.08 L478.40 379.08 L478.65 379.08 L478.90 379.09 L479.15 379.08 L479.40 379.03 L479.65 378.90 L479.90 378.68 L480.15 378.36 L480.40 378.04 L480.65 377.96 L480.90 378.22 L481.15 378.60 L481.40 378.92 L481.65 379.15 L481.90 379.29 L482.15 379.36 L482.40 379.40 L482.65 379.41 L482.90 379.40 L483.15 379.38 L483.40 379.36 L483.65 379.35 L483.90 379.34 L484.65 379.33 L485.40 379.27 L486.15 379.25 L486.90 379.30 L487.65 379.35 L488.40 379.35 L489.15 379.30 L489.90 379.27 L490.65 379.25 L491.40 379.23 L492.15 379.22 L492.90 379.28 L493.65 379.35 L494.40 379.36 L495.15 379.35 L495.90 379.34 L496.65 379.33 L497.40 379.30 L498.15 379.28 L498.90 379.27 L499.65 379.26 L500.40 379.25 L501.15 379.22 L501.90 379.16 L502.65 378.99 L503.40 378.47 L504.15 378.82 L504.90 379.30 L505.65 379.48 L506.40 379.51 L507.15 379.42 L507.90 379.35 L508.65 379.43 L509.40 379.61 L510.15 379.67 L510.90 379.47 L511.65 379.22 L512.40 379.21 L513.15 379.34 L513.90 379.43 L514.65 379.39 L515.40 379.29 L516.15 379.25 L516.90 379.30 L517.65 379.37 L518.40 379.38 L519.15 379.40 L519.90 379.41 L520.65 379.43 L521.40 379.46 L522.15 379.47 L522.90 379.50 L523.65 379.54 L524.40 379.52 L525.15 379.41 L525.90 379.33 L526.65 379.31 L527.40 379.26 L528.15 379.24 L528.90 379.30 L529.65 379.37 L530.40 379.38 L531.15 379.41" stroke="#27b025" stroke-width="2.40"/>
<path d="M47.40 423.31 L48.15 423.25 L48.90 423.35 L49.65 423.48 L50.40 423.48 L51.15 423.41 L51.90 423.36 L52.65 423.30 L53.40 423.18 L54.15 423.13 L54.90 423.08 L55.65 423.02 L56.40 423.04 L57.15 423.24 L57.90 423.38 L58.65 423.31 L59.40 423.12 L60.15 423.05 L60.90 423.19 L61.65 423.37 L62.40 423.39 L63.15 423.41 L63.90 423.43 L64.65 423.41 L65.40 423.37 L66.15 423.35 L66.90 423.32 L67.65 423.28 L68.40 423.27 L69.15 423.27 L69.90 423.27 L70.65 423.28 L71.40 423.32 L72.15 423.33 L72.90 423.30 L73.65 423.27 L74.40 423.26 L75.15 423.24 L75.90 423.23 L76.65 423.24 L77.40 423.25 L78.15 423.26 L78.90 423.33 L79.65 423.43 L80.40 423.43 L81.15 423.31 L81.90 423.22 L82.65 423.25 L83.40 423.32 L84.15 423.34 L84.90 423.27 L85.65 423.17 L86.40 423.16 L87.15 423.19 L87.90 423.21 L88.65 423.19 L89.40 423.14 L90.15 423.13 L90.90 423.19 L91.65 423.26 L92.40 423.28 L93.15 423.34 L93.90 423.38 L94.65 423.37 L95.40 423.34 L96.15 423.33 L96.90 423.29 L97.65 423.24 L98.40 423.24 L99.15 423.31 L99.90 423.36 L100.65 423.32 L101.40 423.24 L102.15 423.16 L102.90 422.93 L103.65 422.35 L104.40 423.05 L105.15 423.25 L105.90 423.29 L106.65 423.32 L107.40 423.34 L108.15 423.35 L108.90 423.20 L109.65 423.01 L110.40 423.00 L111.15 423.07 L111.90 423.13 L112.65 423.19 L113.40 423.34 L114.15 423.39 L114.90 423.35 L115.65 423.29 L116.40 423.31 L117.15 423.46 L117.90 423.58 L118.65 423.50 L119.40 423.33 L120.15 423.26 L120.90 423.25 L121.65 423.23 L122.40 423.25 L123.15 423.38 L123.90 423.48 L124.65 423.45 L125.40 423.38 L126.15 423.36 L126.90 423.42 L127.65 423.50 L128.40 423.47 L129.15 423.33 L129.90 422.99 L130.65 422.35 L131.40 422.99 L132.15 423.19 L132.90 423.28 L133.65 423.35 L134.40 423.35 L135.15 423.26 L135.90 423.19 L136.65 423.20 L137.40 423.22 L138.15 423.23 L138.90 423.22 L139.65 423.22 L140.40 423.22 L141.15 423.24 L141.90 423.25 L142.65 423.28 L143.40 423.34 L144.15 423.36 L144.90 423.28 L145.65 423.18 L145.90 423.15 L146.15 423.13 L146.40 423.11 L146.65 423.08 L146.90 423.01 L147.15 422.87 L147.40 422.61 L147.65 422.22 L147.90 421.85 L148.15 421.90 L148.40 422.29 L148.65 422.65 L148.90 422.87 L149.15 422.98 L149.40 423.01 L149.65 423.01 L149.90 422.97 L150.15 422.89 L150.40 422.73 L150.65 422.50 L150.90 422.29 L151.65 422.95 L152.40 423.23 L153.15 423.05 L153.90 422.90 L154.65 422.99 L155.40 423.17 L156.15 423.24 L156.90 423.25 L157.65 423.28 L158.40 423.26 L159.15 423.17 L159.90 423.10 L160.65 423.14 L161.40 423.24 L161.65 423.25 L161.90 423.23 L162.15 423.18 L162.40 423.09 L162.65 422.91 L162.90 422.59 L163.15 422.09 L163.40 421.50 L163.65 421.28 L163.90 421.69 L164.15 422.25 L164.40 422.66 L164.65 422.90 L164.90 423.04 L165.15 423.13 L165.40 423.18 L165.65 423.22 L165.90 423.23 L166.15 423.23 L166.40 423.22 L167.15 423.14 L167.90 422.99 L168.15 422.91 L168.40 422.80 L168.65 422.65 L168.90 422.42 L169.15 422.06 L169.40 421.47 L169.65 420.52 L169.90 419.09 L170.15 417.20 L170.40 415.36 L170.65 414.78 L170.90 415.99 L171.15 417.93 L171.40 419.64 L171.65 420.86 L171.90 421.63 L172.15 422.11 L172.40 422.39 L172.65 422.56 L172.90 422.67 L173.15 422.74 L173.40 422.79 L173.65 422.83 L173.90 422.87 L174.65 422.98 L175.40 423.08 L176.15 423.13 L176.90 423.11 L177.15 423.10 L177.40 423.08 L177.65 423.06 L177.90 423.03 L178.15 422.99 L178.40 422.91 L178.65 422.76 L178.90 422.49 L179.15 422.03 L179.40 421.48 L179.65 421.29 L179.90 421.72 L180.15 422.28 L180.40 422.68 L180.65 422.90 L180.90 423.01 L181.15 423.07 L181.40 423.09 L181.65 423.11 L181.90 423.12 L182.15 423.14 L182.40 423.19 L183.15 423.44 L183.90 423.62 L184.65 423.49 L185.40 423.16 L186.15 423.04 L186.90 423.17 L187.65 423.32 L187.90 423.32 L188.15 423.30 L188.40 423.24 L188.65 423.15 L188.90 423.00 L189.15 422.76 L189.40 422.35 L189.65 421.79 L189.90 421.28 L190.15 421.35 L190.40 421.89 L190.65 422.41 L190.90 422.74 L191.15 422.93 L191.40 423.03 L191.65 423.09 L191.90 423.13 L192.15 423.16 L192.40 423.19 L192.65 423.22 L192.90 423.26 L193.65 423.35 L194.40 423.36 L195.15 423.30 L195.90 423.26 L196.65 423.23 L197.40 423.14 L198.15 423.12 L198.90 423.20 L199.65 423.30 L200.40 423.30 L201.15 423.25 L201.90 423.21 L202.65 423.14 L203.40 422.97 L203.65 422.92 L203.90 422.87 L204.15 422.84 L204.40 422.80 L204.65 422.75 L204.90 422.64 L205.15 422.38 L205.40 421.88 L205.65 421.11 L205.90 420.38 L206.15 420.49 L206.40 421.29 L206.65 422.03 L206.90 422.50 L207.15 422.74 L207.40 422.86 L207.65 422.92 L207.90 422.96 L208.15 423.00 L208.40 423.02 L208.65 423.05 L208.90 423.07 L209.65 423.11 L210.40 423.14 L211.15 423.21 L211.90 423.26 L212.15 423.24 L212.40 423.23 L212.65 423.20 L212.90 423.16 L213.15 423.10 L213.40 422.99 L213.65 422.79 L213.90 422.46 L214.15 422.03 L214.40 421.78 L214.65 422.01 L214.90 422.42 L215.15 422.74 L215.40 422.92 L215.65 423.02 L215.90 423.07 L216.15 423.11 L216.40 423.15 L216.65 423.21 L216.90 423.28 L217.15 423.34 L217.90 423.47 L218.65 423.41 L219.40 423.28 L220.15 423.22 L220.90 423.14 L221.65 423.02 L221.90 422.99 L222.15 422.96 L222.40 422.92 L222.65 422.86 L222.90 422.76 L223.15 422.56 L223.40 422.20 L223.65 421.66 L223.90 421.15 L224.15 421.20 L224.40 421.72 L224.65 422.20 L224.90 422.49 L225.15 422.62 L225.40 422.67 L225.65 422.66 L225.90 422.63 L226.15 422.57 L226.40 422.46 L226.65 422.31 L226.90 422.11 L227.15 421.85 L227.40 421.51 L227.65 421.05 L227.90 420.39 L228.15 419.29 L228.40 417.28 L228.65 413.53 L228.90 407.26 L229.15 399.12 L229.40 394.54 L229.65 399.15 L229.90 407.31 L230.15 413.59 L230.40 417.36 L230.65 419.39 L230.90 420.49 L231.15 421.14 L231.40 421.57 L231.65 421.87 L231.90 422.09 L232.15 422.26 L232.90 422.74 L233.65 423.12 L234.40 423.21 L235.15 423.12 L235.90 423.04 L236.65 423.04 L237.40 423.02 L237.65 423.01 L237.90 422.99 L238.15 422.96 L238.40 422.92 L238.65 422.85 L238.90 422.73 L239.15 422.51 L239.40 422.13 L239.65 421.58 L239.90 421.07 L240.15 421.13 L240.40 421.68 L240.65 422.20 L240.90 422.55 L241.15 422.74 L241.40 422.85 L241.65 422.89 L241.90 422.90 L242.15 422.88 L242.40 422.82 L242.65 422.74 L242.90 422.62 L243.15 422.48 L243.40 422.28 L243.65 422.03 L243.90 421.67 L244.15 421.13 L244.40 420.21 L244.65 418.49 L244.90 415.30 L245.15 410.14 L245.40 404.00 L245.65 401.81 L245.90 406.42 L246.15 412.54 L246.40 416.93 L246.65 419.47 L246.90 420.82 L247.15 421.54 L247.40 421.97 L247.65 422.26 L247.90 422.47 L248.15 422.63 L248.40 422.75 L249.15 423.03 L249.90 423.18 L250.65 423.18 L250.90 423.14 L251.15 423.10 L251.40 423.04 L251.65 422.98 L251.90 422.89 L252.15 422.74 L252.40 422.48 L252.65 422.09 L252.90 421.74 L253.15 421.81 L253.40 422.24 L253.65 422.63 L253.90 422.89 L254.15 423.03 L254.40 423.10 L254.65 423.13 L254.90 423.14 L255.15 423.14 L255.40 423.14 L255.65 423.14 L255.90 423.14 L256.65 423.16 L257.40 423.19 L258.15 423.20 L258.90 423.12 L259.65 423.02 L260.40 423.01 L260.65 423.02 L260.90 423.03 L261.15 423.04 L261.40 423.04 L261.65 423.01 L261.90 422.94 L262.15 422.79 L262.40 422.51 L262.65 422.10 L262.90 421.72 L263.15 421.76 L263.40 422.16 L263.65 422.54 L263.90 422.78 L264.15 422.92 L264.40 423.00 L264.65 423.05 L264.90 423.08 L265.15 423.10 L265.40 423.12 L265.65 423.14 L265.90 423.15 L266.65 423.22 L267.40 423.36 L268.15 423.41 L268.90 423.36 L269.65 423.30 L270.40 423.30 L271.15 423.36 L271.90 423.40 L272.65 423.39 L273.40 423.35 L274.15 423.32 L274.90 423.30 L275.65 423.26 L276.40 423.17 L276.65 423.12 L276.90 423.06 L277.15 422.96 L277.40 422.83 L277.65 422.60 L277.90 422.20 L278.15 421.44 L278.40 420.09 L278.65 418.09 L278.90 416.25 L279.15 416.46 L279.40 418.40 L279.65 420.24 L279.90 421.44 L280.15 422.11 L280.40 422.48 L280.65 422.70 L280.90 422.86 L281.15 422.99 L281.40 423.08 L281.65 423.15 L281.90 423.20 L282.65 423.24 L283.40 423.20 L284.15 423.19 L284.90 423.19 L285.65 423.19 L286.40 423.22 L287.15 423.33 L287.90 423.42 L288.65 423.45 L289.40 423.52 L290.15 423.55 L290.90 423.39 L291.65 423.19 L292.40 423.20 L293.15 423.37 L293.90 423.50 L294.65 423.48 L295.40 423.42 L296.15 423.39 L296.90 423.31 L297.65 423.20 L298.40 423.20 L299.15 423.27 L299.90 423.33 L300.65 423.33 L301.40 423.34 L302.15 423.34 L302.90 423.34 L303.65 423.34 L304.40 423.33 L305.15 423.28 L305.90 423.25 L306.65 423.22 L307.40 423.16 L308.15 423.13 L308.90 423.20 L309.65 423.28 L310.40 423.31 L311.15 423.36 L311.90 423.40 L312.65 423.40 L313.40 423.39 L314.15 423.39 L314.90 423.38 L315.65 423.37 L316.40 423.38 L317.15 423.41 L317.90 423.43 L318.65 423.36 L319.40 423.22 L320.15 423.16 L320.90 423.21 L321.65 423.27 L322.40 423.28 L323.15 423.30 L323.90 423.32 L324.65 423.34 L325.40 423.38 L326.15 423.39 L326.90 423.34 L327.65 423.28 L328.40 423.26 L329.15 423.27 L329.90 423.26 L330.65 423.21 L331.40 423.13 L332.15 423.01 L332.90 422.86 L333.15 422.76 L333.40 422.59 L333.65 422.26 L333.90 421.65 L334.15 420.45 L334.40 418.30 L334.65 415.11 L334.90 412.17 L335.15 412.47 L335.40 415.49 L335.65 418.36 L335.90 420.22 L336.15 421.28 L336.40 421.86 L336.65 422.22 L336.90 422.47 L337.15 422.66 L337.40 422.81 L337.65 422.92 L337.90 422.99 L338.65 423.17 L339.40 423.41 L340.15 423.50 L340.90 423.41 L341.65 423.29 L342.40 423.25 L343.15 423.12 L343.90 423.03 L344.65 423.09 L345.40 423.23 L346.15 423.29 L346.90 423.21 L347.65 423.11 L348.40 423.10 L349.15 423.15 L349.90 423.19 L350.65 423.22 L351.40 423.28 L352.15 423.31 L352.90 423.38 L353.65 423.47 L354.40 423.47 L355.15 423.38 L355.90 423.32 L356.65 423.32 L357.40 423.33 L358.15 423.33 L358.90 423.33 L359.65 423.33 L360.40 423.30 L361.15 423.20 L361.90 423.09 L362.65 422.93 L363.40 422.55 L363.65 422.35 L363.90 422.06 L364.15 421.58 L364.40 420.70 L364.65 419.06 L364.90 416.32 L365.15 412.76 L365.40 410.76 L365.65 412.79 L365.90 416.38 L366.15 419.13 L366.40 420.79 L366.65 421.68 L366.90 422.17 L367.15 422.47 L367.40 422.66 L367.65 422.80 L367.90 422.90 L368.15 422.98 L368.90 423.08 L369.65 423.11 L370.40 423.14 L371.15 423.14 L371.90 423.14 L372.65 423.17 L373.40 423.20 L374.15 423.21 L374.90 423.16 L375.65 423.09 L376.40 423.09 L377.15 423.12 L377.90 423.15 L378.65 423.17 L379.40 423.24 L380.15 423.26 L380.90 423.25 L381.65 423.23 L382.40 423.23 L383.15 423.25 L383.90 423.26 L384.65 423.28 L385.40 423.34 L385.65 423.34 L385.90 423.32 L386.15 423.27 L386.40 423.17 L386.65 422.99 L386.90 422.67 L387.15 422.17 L387.40 421.57 L387.65 421.35 L387.90 421.76 L388.15 422.33 L388.40 422.73 L388.65 422.95 L388.90 423.07 L389.15 423.13 L389.40 423.17 L389.65 423.19 L389.90 423.21 L390.15 423.22 L390.40 423.22 L391.15 423.16 L391.90 423.12 L392.65 423.13 L393.40 423.14 L394.15 423.15 L394.90 423.22 L395.65 423.32 L396.40 423.32 L397.15 423.24 L397.90 423.18 L398.65 423.22 L399.40 423.31 L400.15 423.34 L400.90 423.26 L401.65 423.17 L402.40 423.17 L403.15 423.25 L403.90 423.30 L404.65 423.30 L405.40 423.28 L406.15 423.28 L406.90 423.33 L407.65 423.39 L408.40 423.39 L409.15 423.29 L409.90 423.22 L410.65 423.22 L411.40 423.22 L412.15 423.21 L412.90 423.23 L413.65 423.26 L414.40 423.24 L415.15 423.19 L415.90 423.12 L416.65 423.05 L416.90 423.01 L417.15 422.95 L417.40 422.85 L417.65 422.64 L417.90 422.23 L418.15 421.44 L418.40 420.03 L418.65 417.94 L418.90 416.01 L419.15 416.23 L419.40 418.25 L419.65 420.16 L419.90 421.39 L420.15 422.09 L420.40 422.45 L420.65 422.66 L420.90 422.78 L421.15 422.87 L421.40 422.92 L421.65 422.97 L421.90 423.00 L422.65 423.07 L423.40 423.11 L424.15 423.12 L424.90 423.15 L425.65 423.16 L426.40 423.08 L426.65 423.03 L426.90 422.95 L427.15 422.85 L427.40 422.70 L427.65 422.46 L427.90 422.04 L428.15 421.26 L428.40 419.87 L428.65 417.83 L428.90 415.96 L429.15 416.24 L429.40 418.31 L429.65 420.26 L429.90 421.52 L430.15 422.21 L430.40 422.56 L430.65 422.74 L430.90 422.82 L431.15 422.86 L431.40 422.88 L431.65 422.90 L431.90 422.92 L432.65 423.11 L433.40 423.41 L434.15 423.54 L434.90 423.52 L435.65 423.49 L436.40 423.47 L437.15 423.35 L437.90 423.27 L438.65 423.24 L439.40 423.16 L440.15 423.13 L440.90 423.20 L441.65 423.29 L442.40 423.31 L443.15 423.33 L443.90 423.34 L444.65 423.26 L445.40 423.08 L446.15 423.02 L446.90 423.13 L447.65 423.27 L448.40 423.28 L449.15 423.18 L449.90 423.11 L450.65 423.17 L451.40 423.30 L452.15 423.35 L452.90 423.40 L453.65 423.46 L454.40 423.46 L455.15 423.44 L455.90 423.43 L456.65 423.35 L457.40 423.17 L458.15 423.11 L458.90 423.26 L459.65 423.44 L460.40 423.46 L461.15 423.43 L461.90 423.41 L462.65 423.37 L463.40 423.28 L464.15 423.25 L464.90 423.30 L465.65 423.35 L466.40 423.37 L467.15 423.44 L467.90 423.48 L468.65 423.43 L469.40 423.30 L470.15 423.25 L470.90 423.27 L471.65 423.29 L472.40 423.28 L473.15 423.25 L473.90 423.22 L474.65 423.27 L475.40 423.38 L476.15 423.41 L476.90 423.24 L477.65 423.01 L478.40 422.98 L478.65 423.02 L478.90 423.07 L479.15 423.11 L479.40 423.10 L479.65 423.00 L479.90 422.74 L480.15 422.26 L480.40 421.67 L480.65 421.42 L480.90 421.79 L481.15 422.29 L481.40 422.64 L481.65 422.84 L481.90 422.94 L482.15 423.01 L482.40 423.07 L482.65 423.13 L482.90 423.20 L483.15 423.26 L483.40 423.31 L484.15 423.38 L484.90 423.26 L485.65 423.10 L486.40 423.09 L487.15 423.14 L487.90 423.17 L488.65 423.18 L489.40 423.21 L490.15 423.22 L490.90 423.29 L491.65 423.39 L492.40 423.37 L493.15 423.21 L493.90 423.09 L494.65 423.16 L495.40 423.31 L496.15 423.37 L496.90 423.30 L497.65 423.22 L498.40 423.23 L499.15 423.35 L499.90 423.44 L500.65 423.38 L501.40 423.26 L502.15 423.16 L502.90 422.93 L503.65 422.36 L504.40 423.05 L505.15 423.22 L505.90 423.24 L506.65 423.31 L507.40 423.46 L508.15 423.51 L508.90 423.40 L509.65 423.27 L510.40 423.25 L511.15 423.28 L511.90 423.29 L512.65 423.35 L513.40 423.49 L514.15 423.54 L514.90 423.45 L515.65 423.33 L516.40 423.32 L517.15 423.36 L517.90 423.38 L518.65 423.34 L519.40 423.24 L520.15 423.21 L520.90 423.26 L521.65 423.32 L522.40 423.29 L523.15 423.13 L523.90 423.02 L524.65 423.09 L525.40 423.25 L526.15 423.31 L526.90 423.27 L527.65 423.23 L528.40 423.21 L529.15 423.15 L529.90 423.11 L530.65 423.11" stroke="#f04c92" stroke-width="2.25"/>
<path d="M47.40 476.43 L48.15 476.42 L48.90 476.46 L49.65 476.52 L50.40 476.54 L51.15 476.57 L51.90 476.60 L52.65 476.57 L53.40 476.52 L54.15 476.49 L54.90 476.46 L55.65 476.41 L56.40 476.45 L57.15 476.66 L57.90 476.81 L58.65 476.74 L59.40 476.55 L60.15 476.48 L60.90 476.51 L61.65 476.55 L62.40 476.54 L63.15 476.49 L63.40 476.46 L63.65 476.43 L63.90 476.39 L64.15 476.34 L64.40 476.23 L64.65 475.98 L64.90 475.46 L65.15 474.61 L65.40 474.03 L65.65 474.60 L65.90 475.46 L66.15 475.98 L66.40 476.23 L66.65 476.35 L66.90 476.42 L67.15 476.47 L67.40 476.51 L67.65 476.53 L67.90 476.55 L68.65 476.56 L69.40 476.55 L70.15 476.55 L70.90 476.60 L71.65 476.66 L72.40 476.65 L73.15 476.53 L73.90 476.45 L74.65 476.44 L75.40 476.42 L76.15 476.42 L76.90 476.59 L77.65 476.81 L78.40 476.82 L79.15 476.69 L79.90 476.59 L80.65 476.61 L81.40 476.67 L82.15 476.70 L82.90 476.72 L83.65 476.74 L84.40 476.74 L85.15 476.70 L85.90 476.67 L86.65 476.65 L87.40 476.62 L88.15 476.60 L88.90 476.52 L89.65 476.42 L90.40 476.40 L91.15 476.40 L91.90 476.40 L92.65 476.47 L93.40 476.65 L94.15 476.72 L94.90 476.71 L95.65 476.69 L96.40 476.68 L97.15 476.68 L97.90 476.67 L98.65 476.60 L99.40 476.45 L100.15 476.39 L100.90 476.36 L101.65 476.33 L102.40 476.34 L103.15 476.41 L103.90 476.46 L104.65 476.46 L105.40 476.45 L106.15 476.45 L106.90 476.52 L107.65 476.60 L108.40 476.60 L109.15 476.52 L109.90 476.47 L110.65 476.54 L111.40 476.72 L112.15 476.79 L112.90 476.67 L113.65 476.52 L114.40 476.49 L115.15 476.46 L115.90 476.27 L116.65 475.58 L117.40 476.47 L118.15 476.65 L118.90 476.65 L119.65 476.63 L120.40 476.61 L121.15 476.53 L121.90 476.48 L122.65 476.53 L123.40 476.65 L124.15 476.69 L124.90 476.75 L125.65 476.82 L126.40 476.79 L127.15 476.58 L127.90 476.42 L128.65 476.44 L129.40 476.50 L130.15 476.50 L130.90 476.41 L131.15 476.36 L131.40 476.29 L131.65 476.21 L131.90 476.08 L132.15 475.81 L132.40 475.20 L132.65 474.07 L132.90 472.78 L133.15 472.95 L133.40 474.27 L133.65 475.27 L133.90 475.77 L134.15 476.00 L134.40 476.14 L134.65 476.25 L134.90 476.35 L135.15 476.44 L135.40 476.52 L136.15 476.62 L136.90 476.64 L137.65 476.65 L138.40 476.66 L139.15 476.68 L139.90 476.70 L140.65 476.68 L141.40 476.64 L142.15 476.62 L142.90 476.49 L143.65 476.33 L144.40 476.32 L145.15 476.44 L145.90 476.51 L146.65 476.44 L146.90 476.39 L147.15 476.33 L147.40 476.23 L147.65 476.07 L147.90 475.71 L148.15 475.00 L148.40 473.93 L148.65 473.47 L148.90 474.33 L149.15 475.27 L149.40 475.79 L149.65 476.01 L149.90 476.10 L150.15 476.13 L150.40 476.13 L150.65 476.10 L150.90 476.04 L151.15 475.93 L151.40 475.69 L151.65 475.13 L151.90 473.92 L152.15 471.95 L152.40 470.64 L152.65 472.01 L152.90 474.04 L153.15 475.30 L153.40 475.90 L153.65 476.19 L153.90 476.34 L154.15 476.42 L154.40 476.46 L154.65 476.48 L154.90 476.48 L155.65 476.46 L156.40 476.50 L157.15 476.66 L157.90 476.78 L158.65 476.73 L159.40 476.62 L160.15 476.57 L160.90 476.42 L161.65 476.23 L162.40 476.16 L162.65 476.16 L162.90 476.16 L163.15 476.12 L163.40 476.01 L163.65 475.71 L163.90 474.95 L164.15 473.33 L164.40 470.94 L164.65 469.93 L164.90 471.93 L165.15 474.11 L165.40 475.35 L165.65 475.91 L165.90 476.16 L166.15 476.29 L166.40 476.35 L166.65 476.37 L166.90 476.37 L167.15 476.35 L167.90 476.25 L168.15 476.21 L168.40 476.14 L168.65 476.02 L168.90 475.82 L169.15 475.46 L169.40 474.71 L169.65 473.35 L169.90 471.82 L170.15 471.92 L170.40 473.28 L170.65 474.19 L170.90 474.31 L171.15 473.53 L171.40 471.23 L171.65 466.66 L171.90 461.44 L172.15 462.29 L172.40 467.87 L172.65 472.06 L172.90 474.14 L173.15 475.02 L173.40 475.42 L173.65 475.64 L173.90 475.79 L174.15 475.91 L174.40 476.01 L175.15 476.25 L175.90 476.37 L176.65 476.35 L177.40 476.22 L178.15 476.15 L178.90 476.09 L179.15 476.05 L179.40 475.97 L179.65 475.84 L179.90 475.59 L180.15 475.04 L180.40 473.80 L180.65 471.46 L180.90 468.82 L181.15 469.22 L181.40 471.98 L181.65 474.08 L181.90 475.14 L182.15 475.62 L182.40 475.87 L182.65 476.06 L182.90 476.21 L183.15 476.34 L183.40 476.44 L184.15 476.59 L184.90 476.63 L185.65 476.65 L186.40 476.63 L187.15 476.52 L187.90 476.43 L188.65 476.36 L189.40 476.19 L189.65 476.11 L189.90 476.01 L190.15 475.86 L190.40 475.57 L190.65 474.92 L190.90 473.51 L191.15 471.19 L191.40 469.63 L191.65 471.24 L191.90 473.61 L192.15 475.05 L192.40 475.73 L192.65 476.04 L192.90 476.20 L193.15 476.31 L193.40 476.38 L193.65 476.44 L193.90 476.47 L194.65 476.48 L195.40 476.37 L196.15 476.34 L196.90 476.37 L197.65 476.39 L198.40 476.41 L199.15 476.48 L199.90 476.53 L200.65 476.55 L201.40 476.61 L202.15 476.62 L202.90 476.57 L203.65 476.51 L204.40 476.46 L205.15 476.39 L205.40 476.34 L205.65 476.27 L205.90 476.15 L206.15 475.96 L206.40 475.57 L206.65 474.71 L206.90 472.89 L207.15 469.95 L207.40 467.95 L207.65 469.89 L207.90 472.77 L208.15 474.54 L208.40 475.35 L208.65 475.70 L208.90 475.86 L209.15 475.95 L209.40 476.00 L209.65 476.03 L209.90 476.06 L210.65 476.21 L211.40 476.43 L212.15 476.51 L212.90 476.43 L213.65 476.30 L213.90 476.25 L214.15 476.19 L214.40 476.10 L214.65 475.92 L214.90 475.49 L215.15 474.58 L215.40 473.23 L215.65 472.66 L215.90 473.81 L216.15 475.06 L216.40 475.76 L216.65 476.08 L216.90 476.22 L217.15 476.29 L217.40 476.34 L217.65 476.36 L217.90 476.38 L218.15 476.40 L218.90 476.47 L219.65 476.53 L220.40 476.52 L221.15 476.42 L221.90 476.34 L222.65 476.37 L223.40 476.46 L224.15 476.37 L224.40 476.27 L224.65 476.11 L224.90 475.85 L225.15 475.34 L225.40 474.27 L225.65 472.31 L225.90 470.11 L226.15 470.41 L226.40 472.67 L226.65 474.36 L226.90 475.20 L227.15 475.54 L227.40 475.66 L227.65 475.68 L227.90 475.63 L228.15 475.52 L228.40 475.34 L228.65 475.06 L228.90 474.65 L229.15 474.02 L229.40 472.94 L229.65 470.77 L229.90 465.86 L230.15 455.68 L230.40 440.56 L230.65 434.21 L230.90 446.80 L231.15 460.56 L231.40 468.38 L231.65 471.93 L231.90 473.55 L232.15 474.42 L232.40 474.97 L232.65 475.33 L232.90 475.57 L233.15 475.75 L233.90 476.06 L234.65 476.16 L235.40 476.10 L236.15 476.09 L236.90 476.16 L237.65 476.21 L238.40 476.13 L238.65 476.09 L238.90 475.99 L239.15 475.70 L239.40 474.99 L239.65 473.59 L239.90 471.97 L240.15 472.22 L240.40 473.92 L240.65 475.19 L240.90 475.81 L241.15 476.06 L241.40 476.16 L241.65 476.20 L241.90 476.22 L242.15 476.24 L242.40 476.24 L243.15 476.18 L243.90 475.98 L244.65 475.47 L244.90 475.14 L245.15 474.64 L245.40 473.80 L245.65 472.13 L245.90 468.36 L246.15 460.55 L246.40 448.94 L246.65 444.04 L246.90 453.66 L247.15 464.18 L247.40 470.13 L247.65 472.83 L247.90 474.06 L248.15 474.73 L248.40 475.15 L248.65 475.43 L248.90 475.62 L249.15 475.76 L249.90 476.00 L250.65 476.09 L251.40 476.04 L251.65 475.97 L251.90 475.83 L252.15 475.51 L252.40 474.78 L252.65 473.41 L252.90 471.86 L253.15 472.15 L253.40 473.88 L253.65 475.19 L253.90 475.85 L254.15 476.14 L254.40 476.26 L254.65 476.31 L254.90 476.33 L255.15 476.32 L255.40 476.28 L255.65 476.22 L255.90 476.11 L256.15 475.85 L256.40 475.28 L256.65 474.20 L256.90 472.97 L257.15 473.21 L257.40 474.58 L257.65 475.62 L257.90 476.14 L258.15 476.37 L258.40 476.47 L258.65 476.50 L258.90 476.51 L259.15 476.51 L259.40 476.50 L260.15 476.48 L260.90 476.50 L261.15 476.50 L261.40 476.48 L261.65 476.42 L261.90 476.27 L262.15 475.93 L262.40 475.14 L262.65 473.67 L262.90 472.01 L263.15 472.22 L263.40 473.91 L263.65 475.19 L263.90 475.83 L264.15 476.11 L264.40 476.23 L264.65 476.27 L264.90 476.27 L265.15 476.24 L265.40 476.20 L265.65 476.13 L265.90 476.04 L266.15 475.84 L266.40 475.41 L266.65 474.59 L266.90 473.66 L267.15 473.89 L267.40 475.02 L267.65 475.87 L267.90 476.30 L268.15 476.49 L268.40 476.56 L268.65 476.59 L268.90 476.59 L269.15 476.58 L269.40 476.56 L270.15 476.56 L270.90 476.62 L271.65 476.68 L272.40 476.68 L273.15 476.61 L273.90 476.56 L274.65 476.54 L275.40 476.49 L276.15 476.46 L276.90 476.45 L277.65 476.42 L278.40 476.27 L278.65 476.16 L278.90 476.01 L279.15 475.80 L279.40 475.47 L279.65 474.84 L279.90 473.47 L280.15 470.64 L280.40 466.44 L280.65 464.68 L280.90 468.17 L281.15 471.98 L281.40 474.14 L281.65 475.12 L281.90 475.57 L282.15 475.81 L282.40 475.97 L282.65 476.08 L282.90 476.16 L283.15 476.22 L283.90 476.33 L284.65 476.39 L285.40 476.44 L286.15 476.47 L286.90 476.44 L287.65 476.39 L288.40 476.41 L289.15 476.49 L289.90 476.56 L290.65 476.58 L291.40 476.61 L292.15 476.62 L292.90 476.71 L293.65 476.82 L294.40 476.84 L295.15 476.82 L295.90 476.81 L296.65 476.75 L297.40 476.61 L298.15 476.55 L298.90 476.53 L299.65 476.07 L300.40 476.14 L301.15 476.52 L301.90 476.53 L302.65 476.56 L303.40 476.61 L304.15 476.63 L304.90 476.61 L305.65 476.59 L306.40 476.57 L307.15 476.54 L307.90 476.52 L308.65 476.53 L309.40 476.57 L310.15 476.57 L310.90 476.44 L311.65 475.92 L312.40 475.98 L313.15 476.48 L313.90 476.62 L314.65 476.61 L315.40 476.56 L316.15 476.55 L316.90 476.51 L317.65 476.46 L318.40 476.46 L319.15 476.51 L319.90 476.54 L320.65 476.57 L321.40 476.63 L322.15 476.65 L322.90 476.59 L323.65 476.51 L324.40 476.51 L325.15 476.58 L325.90 476.63 L326.65 476.63 L327.40 476.64 L328.15 476.63 L328.90 476.68 L329.65 476.73 L330.40 476.69 L331.15 476.49 L331.90 476.33 L332.65 476.29 L333.40 476.23 L334.15 475.96 L334.40 475.77 L334.65 475.47 L334.90 474.94 L335.15 473.78 L335.40 471.18 L335.65 466.26 L335.90 460.71 L336.15 461.57 L336.40 467.45 L336.65 471.91 L336.90 474.18 L337.15 475.20 L337.40 475.71 L337.65 476.00 L337.90 476.19 L338.15 476.31 L338.40 476.39 L339.15 476.47 L339.90 476.48 L340.65 476.54 L341.40 476.60 L342.15 476.63 L342.90 476.52 L343.65 476.39 L344.40 476.38 L345.15 476.45 L345.90 476.49 L346.65 476.56 L347.40 476.73 L348.15 476.78 L348.90 476.68 L349.65 476.56 L350.40 476.57 L351.15 476.73 L351.90 476.84 L352.65 476.75 L353.40 476.52 L354.15 476.34 L354.90 475.74 L355.65 476.30 L356.40 476.46 L357.15 476.40 L357.90 476.34 L358.65 476.40 L359.40 476.55 L360.15 476.59 L360.90 476.55 L361.65 476.49 L362.40 476.45 L363.15 476.45 L363.90 476.28 L364.15 476.12 L364.40 475.87 L364.65 475.48 L364.90 474.79 L365.15 473.38 L365.40 470.28 L365.65 464.50 L365.90 457.99 L366.15 458.99 L366.40 465.84 L366.65 471.02 L366.90 473.64 L367.15 474.79 L367.40 475.34 L367.65 475.66 L367.90 475.87 L368.15 476.01 L368.40 476.10 L369.15 476.21 L369.90 476.24 L370.65 476.33 L371.40 476.45 L372.15 476.50 L372.90 476.55 L373.15 476.57 L373.40 476.58 L373.65 476.58 L373.90 476.55 L374.15 476.47 L374.40 476.28 L374.65 475.93 L374.90 475.53 L375.15 475.58 L375.40 476.00 L375.65 476.32 L375.90 476.48 L376.15 476.55 L376.40 476.59 L376.65 476.62 L376.90 476.65 L377.15 476.67 L377.40 476.69 L378.15 476.72 L378.90 476.70 L379.65 476.68 L380.40 476.67 L381.15 476.61 L381.90 476.57 L382.65 476.59 L383.40 476.63 L384.15 476.65 L384.90 476.62 L385.65 476.58 L386.40 476.53 L386.65 476.48 L386.90 476.42 L387.15 476.35 L387.40 476.25 L387.65 476.10 L387.90 475.82 L388.15 475.25 L388.40 474.44 L388.65 474.14 L388.90 474.91 L389.15 475.76 L389.40 476.26 L389.65 476.51 L389.90 476.63 L390.15 476.68 L390.40 476.69 L390.65 476.69 L390.90 476.67 L391.15 476.64 L391.90 476.59 L392.65 476.55 L393.40 476.42 L393.65 476.37 L393.90 476.32 L394.15 476.24 L394.40 476.07 L394.65 475.74 L394.90 475.38 L395.15 475.48 L395.40 475.93 L395.65 476.27 L395.90 476.45 L396.15 476.52 L396.40 476.56 L396.65 476.57 L396.90 476.58 L397.15 476.59 L397.40 476.59 L398.15 476.60 L398.90 476.64 L399.65 476.68 L400.40 476.67 L401.15 476.58 L401.90 475.82 L402.65 476.35 L403.40 476.25 L404.15 476.17 L404.90 476.37 L405.65 476.61 L406.40 476.66 L407.15 476.73 L407.90 476.78 L408.65 476.70 L409.40 476.52 L410.15 476.45 L410.90 476.40 L411.65 476.34 L412.40 476.35 L413.15 476.49 L413.90 476.58 L414.65 476.58 L415.40 476.56 L416.15 476.53 L416.90 476.48 L417.65 476.37 L418.40 476.06 L418.65 475.83 L418.90 475.43 L419.15 474.60 L419.40 472.81 L419.65 469.49 L419.90 465.74 L420.15 466.32 L420.40 470.26 L420.65 473.25 L420.90 474.77 L421.15 475.46 L421.40 475.79 L421.65 475.99 L421.90 476.12 L422.15 476.20 L422.40 476.27 L423.15 476.41 L423.90 476.48 L424.65 476.52 L425.40 476.56 L426.15 476.56 L426.90 476.59 L427.65 476.58 L428.40 476.28 L428.65 476.04 L428.90 475.63 L429.15 474.80 L429.40 473.00 L429.65 469.67 L429.90 465.93 L430.15 466.50 L430.40 470.42 L430.65 473.39 L430.90 474.88 L431.15 475.52 L431.40 475.83 L431.65 476.00 L431.90 476.11 L432.15 476.19 L432.40 476.24 L433.15 476.22 L433.90 476.19 L434.65 476.32 L435.40 476.59 L436.15 476.69 L436.90 476.64 L437.65 476.56 L438.40 476.56 L439.15 476.56 L439.90 476.57 L440.65 476.54 L441.40 476.48 L442.15 476.46 L442.90 476.55 L443.65 476.67 L444.40 476.65 L445.15 476.48 L445.90 476.36 L446.65 476.42 L447.40 476.56 L448.15 476.61 L448.90 476.61 L449.65 476.61 L450.40 476.61 L451.15 476.62 L451.90 476.63 L452.65 476.66 L453.40 476.74 L454.15 476.76 L454.90 476.69 L455.65 476.60 L456.40 476.59 L457.15 476.60 L457.90 476.61 L458.65 476.63 L459.40 476.69 L460.15 476.70 L460.90 476.58 L461.65 476.42 L462.40 476.41 L463.15 476.50 L463.90 476.56 L464.65 476.57 L465.40 476.60 L466.15 476.61 L466.90 476.65 L467.65 476.71 L468.40 476.70 L469.15 476.58 L469.90 476.49 L470.65 476.54 L471.40 476.65 L472.15 476.70 L472.90 476.67 L473.65 476.64 L474.40 476.62 L475.15 476.49 L475.90 476.39 L476.65 476.39 L477.40 476.38 L478.15 476.37 L478.90 476.36 L479.65 476.33 L480.40 476.25 L480.65 476.21 L480.90 476.13 L481.15 475.91 L481.40 475.36 L481.65 474.30 L481.90 473.08 L482.15 473.27 L482.40 474.57 L482.65 475.56 L482.90 476.06 L483.15 476.28 L483.40 476.39 L483.65 476.45 L483.90 476.49 L484.15 476.52 L484.40 476.55 L485.15 476.62 L485.90 476.66 L486.65 476.67 L487.40 476.69 L488.15 476.69 L488.90 476.62 L489.65 476.53 L490.40 476.54 L491.15 476.65 L491.90 476.73 L492.65 476.72 L493.40 476.71 L494.15 476.70 L494.90 476.68 L495.65 476.66 L496.40 476.66 L497.15 476.66 L497.90 476.65 L498.65 476.60 L499.40 476.47 L500.15 476.42 L500.90 476.50 L501.65 476.60 L502.40 476.58 L502.65 476.54 L502.90 476.48 L503.15 476.41 L503.40 476.31 L503.65 476.13 L503.90 475.78 L504.15 475.23 L504.40 474.86 L504.65 475.23 L504.90 475.77 L505.15 476.10 L505.40 476.25 L505.65 476.32 L505.90 476.36 L506.15 476.38 L506.40 476.40 L506.65 476.43 L506.90 476.46 L507.65 476.53 L508.40 476.55 L509.15 476.58 L509.90 476.61 L510.65 476.61 L511.40 476.59 L512.15 476.59 L512.90 476.57 L513.65 476.56 L514.40 476.55 L515.15 476.50 L515.90 476.47 L516.65 476.51 L517.40 476.59 L518.15 476.62 L518.90 476.57 L519.65 476.51 L520.40 476.49 L521.15 476.45 L521.90 476.42 L522.65 476.46 L523.40 476.57 L524.15 476.61 L524.90 476.69 L525.65 476.77 L526.40 476.76 L527.15 476.64 L527.90 476.55 L528.65 476.53 L529.40 476.48 L530.15 476.47 L530.90 476.60" stroke="#8763ea" stroke-width="2.05"/>
<path d="M47.40 516.95 L48.15 516.98 L48.90 516.89 L49.65 516.78 L50.40 516.79 L51.15 516.90 L51.90 516.98 L52.65 517.00 L53.40 517.05 L54.15 517.07 L54.90 517.11 L55.65 517.15 L56.40 517.14 L57.15 517.05 L57.90 516.97 L58.65 516.96 L59.40 516.94 L60.15 516.92 L60.90 516.92 L61.65 516.91 L61.90 516.89 L62.15 516.87 L62.40 516.85 L62.65 516.83 L62.90 516.80 L63.15 516.77 L63.40 516.72 L63.65 516.64 L63.90 516.53 L64.15 516.37 L64.40 516.15 L64.65 515.85 L64.90 515.47 L65.15 515.02 L65.40 514.50 L65.65 513.96 L65.90 513.46 L66.15 513.09 L66.40 512.95 L66.65 513.07 L66.90 513.41 L67.15 513.87 L67.40 514.36 L67.65 514.82 L67.90 515.22 L68.15 515.56 L68.40 515.83 L68.65 516.05 L68.90 516.21 L69.15 516.34 L69.40 516.44 L69.65 516.51 L69.90 516.57 L70.15 516.61 L70.40 516.64 L70.65 516.65 L70.90 516.67 L71.15 516.67 L71.40 516.68 L71.65 516.69 L72.40 516.72 L73.15 516.77 L73.90 516.81 L74.65 516.84 L75.40 516.91 L76.15 516.94 L76.90 516.97 L77.65 517.00 L78.40 517.01 L79.15 517.00 L79.90 517.00 L80.65 517.00 L81.40 516.99 L82.15 516.99 L82.90 516.97 L83.65 516.94 L84.40 516.95 L85.15 517.00 L85.90 517.04 L86.65 517.06 L87.40 517.09 L88.15 517.11 L88.90 517.10 L89.65 517.09 L90.40 517.10 L91.15 517.15 L91.90 517.19 L92.65 517.13 L93.40 517.00 L94.15 516.96 L94.90 516.96 L95.65 516.96 L96.40 516.99 L97.15 517.12 L97.90 517.21 L98.65 517.17 L99.40 517.06 L100.15 517.02 L100.90 517.03 L101.65 517.05 L102.40 517.04 L103.15 516.99 L103.90 516.95 L104.65 516.99 L105.40 517.09 L106.15 517.12 L106.90 517.05 L107.65 516.95 L108.40 516.93 L109.15 516.89 L109.90 516.86 L110.65 516.89 L111.40 516.96 L112.15 516.98 L112.90 516.96 L113.65 516.93 L114.40 516.93 L115.15 516.98 L115.90 516.85 L116.65 516.08 L117.40 516.79 L118.15 516.89 L118.90 516.95 L119.65 516.99 L120.40 517.00 L121.15 516.98 L121.90 516.96 L122.65 516.98 L123.40 517.02 L124.15 517.03 L124.90 516.98 L125.65 516.91 L126.40 516.93 L127.15 517.04 L127.90 517.12 L128.65 517.04 L129.40 516.85 L130.15 516.78 L130.90 516.81 L131.65 516.83 L131.90 516.81 L132.15 516.77 L132.40 516.69 L132.65 516.53 L132.90 516.17 L133.15 515.45 L133.40 514.39 L133.65 513.94 L133.90 514.81 L134.15 515.78 L134.40 516.34 L134.65 516.61 L134.90 516.76 L135.15 516.85 L135.40 516.92 L135.65 516.97 L135.90 517.00 L136.15 517.01 L136.90 517.00 L137.65 516.98 L138.40 516.98 L139.15 517.01 L139.90 517.04 L140.65 517.01 L141.40 516.95 L142.15 516.93 L142.90 516.91 L143.65 516.88 L144.40 516.86 L145.15 516.82 L145.90 516.79 L146.65 516.78 L147.40 516.75 L147.65 516.71 L147.90 516.61 L148.15 516.40 L148.40 515.92 L148.65 515.03 L148.90 514.02 L149.15 514.16 L149.40 515.20 L149.65 515.99 L149.90 516.38 L150.15 516.54 L150.40 516.62 L150.65 516.66 L150.90 516.67 L151.15 516.66 L151.40 516.62 L151.65 516.53 L151.90 516.34 L152.15 515.91 L152.40 514.93 L152.65 513.07 L152.90 510.98 L153.15 511.31 L153.40 513.53 L153.65 515.21 L153.90 516.06 L154.15 516.44 L154.40 516.62 L154.65 516.74 L154.90 516.83 L155.15 516.89 L155.40 516.94 L156.15 517.01 L156.90 516.98 L157.65 516.92 L158.40 516.91 L159.15 516.87 L159.90 516.84 L160.65 516.82 L161.40 516.78 L162.15 516.75 L162.90 516.75 L163.65 516.69 L163.90 516.61 L164.15 516.47 L164.40 516.19 L164.65 515.58 L164.90 514.27 L165.15 512.13 L165.40 510.68 L165.65 512.13 L165.90 514.28 L166.15 515.59 L166.40 516.22 L166.65 516.51 L166.90 516.69 L167.15 516.80 L167.40 516.89 L167.65 516.94 L167.90 516.97 L168.65 516.87 L168.90 516.78 L169.15 516.67 L169.40 516.51 L169.65 516.24 L169.90 515.71 L170.15 514.65 L170.40 513.10 L170.65 512.43 L170.90 513.62 L171.15 514.89 L171.40 515.44 L171.65 515.30 L171.90 514.30 L172.15 511.95 L172.40 508.37 L172.65 506.88 L172.90 509.93 L173.15 513.25 L173.40 515.14 L173.65 516.01 L173.90 516.41 L174.15 516.62 L174.40 516.72 L174.65 516.76 L174.90 516.76 L175.15 516.73 L175.90 516.67 L176.65 516.78 L177.40 516.95 L178.15 517.00 L178.90 516.96 L179.65 516.85 L179.90 516.78 L180.15 516.67 L180.40 516.49 L180.65 516.12 L180.90 515.29 L181.15 513.56 L181.40 511.00 L181.65 509.92 L181.90 512.06 L182.15 514.40 L182.40 515.71 L182.65 516.29 L182.90 516.53 L183.15 516.65 L183.40 516.71 L183.65 516.75 L183.90 516.78 L184.15 516.81 L184.90 516.92 L185.65 517.01 L186.40 517.01 L187.15 516.92 L187.90 516.84 L188.65 516.83 L189.40 516.80 L190.15 516.69 L190.40 516.60 L190.65 516.47 L190.90 516.23 L191.15 515.73 L191.40 514.58 L191.65 512.43 L191.90 510.00 L192.15 510.38 L192.40 512.97 L192.65 514.94 L192.90 515.97 L193.15 516.45 L193.40 516.70 L193.65 516.85 L193.90 516.95 L194.15 517.00 L194.40 517.02 L195.15 516.95 L195.90 516.89 L196.65 516.94 L197.40 517.03 L198.15 517.07 L198.90 517.03 L199.65 516.97 L200.40 516.95 L201.15 516.90 L201.90 516.85 L202.65 516.87 L203.40 516.93 L204.15 516.94 L204.90 516.92 L205.65 516.87 L206.40 516.65 L206.65 516.48 L206.90 516.19 L207.15 515.60 L207.40 514.33 L207.65 511.98 L207.90 509.33 L208.15 509.74 L208.40 512.53 L208.65 514.66 L208.90 515.75 L209.15 516.25 L209.40 516.51 L209.65 516.67 L209.90 516.76 L210.15 516.82 L210.40 516.85 L211.15 516.82 L211.90 516.78 L212.65 516.78 L213.40 516.74 L214.15 516.67 L214.40 516.63 L214.65 516.58 L214.90 516.46 L215.15 516.19 L215.40 515.54 L215.65 514.29 L215.90 512.87 L216.15 513.09 L216.40 514.60 L216.65 515.73 L216.90 516.30 L217.15 516.54 L217.40 516.66 L217.65 516.72 L217.90 516.76 L218.15 516.79 L218.40 516.81 L219.15 516.79 L219.90 516.77 L220.65 516.75 L221.40 516.69 L222.15 516.67 L222.90 516.73 L223.65 516.79 L224.40 516.72 L224.65 516.67 L224.90 516.61 L225.15 516.51 L225.40 516.34 L225.65 516.02 L225.90 515.28 L226.15 513.77 L226.40 511.52 L226.65 510.55 L226.90 512.36 L227.15 514.33 L227.40 515.42 L227.65 515.88 L227.90 516.06 L228.15 516.11 L228.40 516.11 L228.65 516.05 L228.90 515.93 L229.15 515.74 L229.40 515.43 L229.65 514.92 L229.90 513.98 L230.15 511.93 L230.40 507.32 L230.65 498.66 L230.90 488.88 L231.15 490.34 L231.40 500.60 L231.65 508.37 L231.90 512.30 L232.15 514.05 L232.40 514.92 L232.65 515.44 L232.90 515.81 L233.15 516.08 L233.40 516.28 L234.15 516.61 L234.90 516.74 L235.65 516.81 L236.40 516.85 L237.15 516.85 L237.90 516.84 L238.65 516.78 L239.40 516.61 L239.65 516.52 L239.90 516.37 L240.15 516.07 L240.40 515.40 L240.65 514.14 L240.90 512.72 L241.15 512.95 L241.40 514.47 L241.65 515.62 L241.90 516.20 L242.15 516.45 L242.40 516.56 L242.65 516.62 L242.90 516.65 L243.15 516.66 L243.40 516.66 L244.15 516.57 L244.90 516.36 L245.15 516.22 L245.40 516.00 L245.65 515.62 L245.90 514.93 L246.15 513.44 L246.40 510.09 L246.65 503.80 L246.90 496.70 L247.15 497.77 L247.40 505.23 L247.65 510.89 L247.90 513.75 L248.15 515.02 L248.40 515.63 L248.65 515.99 L248.90 516.21 L249.15 516.37 L249.40 516.48 L250.15 516.66 L250.90 516.68 L251.65 516.60 L251.90 516.56 L252.15 516.51 L252.40 516.42 L252.65 516.24 L252.90 515.79 L253.15 514.82 L253.40 513.34 L253.65 512.73 L253.90 514.01 L254.15 515.39 L254.40 516.17 L254.65 516.53 L254.90 516.69 L255.15 516.78 L255.40 516.83 L255.65 516.85 L255.90 516.85 L256.15 516.82 L256.40 516.74 L256.65 516.57 L256.90 516.20 L257.15 515.45 L257.40 514.36 L257.65 513.89 L257.90 514.76 L258.15 515.72 L258.40 516.28 L258.65 516.55 L258.90 516.69 L259.15 516.78 L259.40 516.84 L259.65 516.89 L259.90 516.91 L260.15 516.92 L260.90 516.89 L261.65 516.81 L261.90 516.76 L262.15 516.69 L262.40 516.56 L262.65 516.30 L262.90 515.73 L263.15 514.56 L263.40 512.82 L263.65 512.09 L263.90 513.52 L264.15 515.09 L264.40 515.96 L264.65 516.34 L264.90 516.48 L265.15 516.54 L265.40 516.56 L265.65 516.56 L265.90 516.55 L266.15 516.53 L266.40 516.51 L266.65 516.42 L266.90 516.16 L267.15 515.54 L267.40 514.56 L267.65 514.17 L267.90 515.08 L268.15 516.04 L268.40 516.55 L268.65 516.73 L268.90 516.76 L269.15 516.74 L269.40 516.69 L269.65 516.66 L269.90 516.64 L270.15 516.66 L270.90 516.80 L271.65 516.96 L272.40 516.98 L273.15 516.93 L273.90 516.90 L274.65 516.94 L275.40 517.05 L276.15 517.07 L276.90 516.97 L277.65 516.83 L278.40 516.75 L279.15 516.62 L279.40 516.52 L279.65 516.36 L279.90 516.06 L280.15 515.41 L280.40 513.95 L280.65 511.22 L280.90 508.14 L281.15 508.63 L281.40 511.91 L281.65 514.40 L281.90 515.66 L282.15 516.21 L282.40 516.48 L282.65 516.63 L282.90 516.73 L283.15 516.80 L283.40 516.84 L284.15 516.92 L284.90 516.91 L285.65 516.88 L286.40 516.90 L287.15 516.99 L287.90 517.05 L288.65 517.05 L289.40 517.03 L290.15 517.03 L290.90 517.06 L291.65 517.10 L292.40 517.09 L293.15 516.99 L293.90 516.92 L294.65 516.93 L295.40 516.96 L296.15 516.97 L296.90 516.95 L297.65 516.92 L298.40 516.89 L299.15 516.73 L299.90 515.93 L300.65 516.63 L301.40 516.93 L302.15 517.00 L302.90 517.02 L303.65 517.03 L304.40 517.05 L305.15 517.12 L305.90 517.17 L306.65 517.12 L307.40 516.99 L308.15 516.94 L308.90 516.98 L309.65 517.02 L310.40 517.01 L311.15 516.97 L311.90 516.38 L312.65 516.87 L313.40 516.96 L314.15 516.96 L314.90 516.98 L315.65 516.99 L316.40 517.00 L317.15 517.00 L317.90 517.01 L318.65 516.98 L319.40 516.92 L320.15 516.90 L320.90 516.88 L321.65 516.86 L322.40 516.89 L323.15 517.03 L323.90 517.13 L324.65 517.10 L325.40 517.03 L326.15 517.00 L326.90 516.99 L327.65 516.97 L328.40 516.95 L329.15 516.86 L329.90 516.79 L330.65 516.82 L331.40 516.90 L332.15 516.92 L332.90 516.93 L333.65 516.91 L334.40 516.69 L334.65 516.52 L334.90 516.28 L335.15 515.92 L335.40 515.29 L335.65 513.95 L335.90 511.16 L336.15 506.62 L336.40 503.55 L336.65 506.63 L336.90 511.17 L337.15 513.95 L337.40 515.25 L337.65 515.84 L337.90 516.14 L338.15 516.33 L338.40 516.48 L338.65 516.60 L338.90 516.71 L339.65 516.95 L340.40 517.03 L341.15 517.09 L341.90 517.12 L342.65 517.14 L343.40 517.16 L344.15 517.16 L344.90 517.06 L345.65 516.92 L346.40 516.92 L347.15 517.00 L347.90 517.05 L348.65 517.01 L349.40 516.92 L350.15 516.88 L350.90 516.95 L351.65 517.03 L352.40 517.02 L353.15 516.95 L353.90 516.85 L354.65 516.45 L355.40 516.55 L356.15 516.93 L356.90 517.03 L357.65 517.12 L358.40 517.12 L359.15 517.04 L359.90 516.99 L360.65 516.96 L361.40 516.90 L362.15 516.85 L362.90 516.82 L363.65 516.74 L364.40 516.52 L364.65 516.39 L364.90 516.18 L365.15 515.85 L365.40 515.21 L365.65 513.76 L365.90 510.65 L366.15 505.57 L366.40 502.12 L366.65 505.55 L366.90 510.61 L367.15 513.70 L367.40 515.13 L367.65 515.77 L367.90 516.10 L368.15 516.31 L368.40 516.45 L368.65 516.56 L368.90 516.65 L369.65 516.82 L370.40 516.89 L371.15 516.95 L371.90 516.99 L372.65 517.02 L373.40 517.07 L373.65 517.07 L373.90 517.04 L374.15 516.95 L374.40 516.73 L374.65 516.31 L374.90 515.83 L375.15 515.80 L375.40 516.14 L375.65 516.40 L375.90 516.53 L376.15 516.60 L376.40 516.64 L376.65 516.68 L376.90 516.71 L377.15 516.75 L377.40 516.77 L378.15 516.81 L378.90 516.81 L379.65 516.81 L380.40 516.84 L381.15 516.98 L381.90 517.09 L382.65 517.14 L383.40 517.25 L384.15 517.28 L384.90 517.16 L385.65 516.99 L386.40 516.94 L386.65 516.92 L386.90 516.90 L387.15 516.85 L387.40 516.79 L387.65 516.65 L387.90 516.35 L388.15 515.74 L388.40 514.83 L388.65 514.46 L388.90 515.25 L389.15 516.11 L389.40 516.60 L389.65 516.84 L389.90 516.94 L390.15 516.99 L390.40 516.98 L390.65 516.94 L390.90 516.87 L391.15 516.79 L391.90 516.63 L392.65 516.70 L393.40 516.83 L393.65 516.85 L393.90 516.83 L394.15 516.75 L394.40 516.53 L394.65 516.12 L394.90 515.65 L395.15 515.64 L395.40 516.00 L395.65 516.26 L395.90 516.40 L396.15 516.48 L396.40 516.55 L396.65 516.63 L396.90 516.72 L397.15 516.81 L397.40 516.89 L398.15 516.98 L398.90 516.95 L399.65 516.90 L400.40 516.87 L401.15 516.75 L401.90 515.97 L402.65 516.66 L403.40 516.95 L404.15 517.00 L404.90 516.97 L405.65 516.91 L406.40 516.93 L407.15 517.04 L407.90 517.12 L408.65 517.09 L409.40 517.01 L410.15 516.98 L410.90 517.00 L411.65 517.02 L412.40 517.05 L413.15 517.19 L413.90 517.29 L414.65 517.19 L415.40 516.96 L416.15 516.86 L416.90 516.90 L417.65 516.92 L418.40 516.77 L418.65 516.64 L418.90 516.46 L419.15 516.19 L419.40 515.72 L419.65 514.73 L419.90 512.64 L420.15 509.27 L420.40 507.00 L420.65 509.33 L420.90 512.75 L421.15 514.87 L421.40 515.88 L421.65 516.35 L421.90 516.59 L422.15 516.73 L422.40 516.82 L422.65 516.87 L422.90 516.91 L423.65 516.97 L424.40 516.99 L425.15 516.95 L425.90 516.91 L426.65 516.92 L427.40 516.93 L428.15 516.86 L428.40 516.80 L428.65 516.72 L428.90 516.60 L429.15 516.40 L429.40 515.99 L429.65 515.06 L429.90 513.04 L430.15 509.73 L430.40 507.49 L430.65 509.73 L430.90 513.03 L431.15 515.05 L431.40 515.99 L431.65 516.41 L431.90 516.63 L432.15 516.76 L432.40 516.84 L432.65 516.88 L432.90 516.89 L433.65 516.88 L434.40 516.91 L435.15 516.93 L435.90 516.94 L436.65 516.99 L437.40 517.08 L438.15 517.11 L438.90 516.98 L439.65 516.82 L440.40 516.80 L441.15 516.86 L441.90 516.91 L442.65 516.94 L443.40 517.02 L444.15 517.05 L444.90 517.06 L445.65 517.06 L446.40 517.08 L447.15 517.17 L447.90 517.23 L448.65 517.23 L449.40 517.22 L450.15 517.22 L450.90 517.14 L451.65 517.05 L452.40 517.04 L453.15 517.05 L453.90 517.05 L454.65 517.00 L455.40 516.87 L456.15 516.83 L456.90 516.89 L457.65 516.96 L458.40 516.98 L459.15 517.01 L459.90 517.03 L460.65 517.02 L461.40 516.98 L462.15 516.97 L462.90 516.98 L463.65 517.00 L464.40 517.01 L465.15 517.05 L465.90 517.07 L466.65 517.03 L467.40 516.91 L468.15 516.87 L468.90 516.89 L469.65 516.92 L470.40 516.91 L471.15 516.82 L471.90 516.77 L472.65 516.85 L473.40 517.06 L474.15 517.13 L474.90 517.02 L475.65 516.87 L476.40 516.84 L477.15 516.79 L477.90 516.75 L478.65 516.81 L479.40 516.96 L480.15 516.95 L480.40 516.89 L480.65 516.80 L480.90 516.65 L481.15 516.35 L481.40 515.72 L481.65 514.55 L481.90 513.25 L482.15 513.45 L482.40 514.83 L482.65 515.89 L482.90 516.44 L483.15 516.71 L483.40 516.85 L483.65 516.93 L483.90 516.98 L484.15 517.01 L484.40 517.02 L485.15 516.96 L485.90 516.92 L486.65 517.00 L487.40 517.19 L488.15 517.26 L488.90 517.18 L489.65 517.09 L490.40 517.08 L491.15 517.04 L491.90 517.01 L492.65 517.01 L493.40 517.01 L494.15 517.01 L494.90 516.99 L495.65 516.97 L496.40 516.98 L497.15 517.05 L497.90 517.09 L498.65 517.13 L499.40 517.21 L500.15 517.23 L500.90 517.10 L501.65 516.92 L502.40 516.85 L502.65 516.82 L502.90 516.76 L503.15 516.69 L503.40 516.56 L503.65 516.30 L503.90 515.75 L504.15 514.86 L504.40 514.28 L504.65 514.91 L504.90 515.84 L505.15 516.42 L505.40 516.71 L505.65 516.86 L505.90 516.93 L506.15 516.97 L506.40 517.00 L506.65 517.02 L506.90 517.05 L507.65 517.10 L508.40 517.08 L509.15 516.92 L509.90 516.80 L510.65 516.82 L511.40 516.88 L512.15 516.90 L512.90 516.89 L513.65 516.87 L514.40 516.89 L515.15 516.99 L515.90 517.07 L516.65 517.07 L517.40 517.06 L518.15 517.06 L518.90 517.00 L519.65 516.92 L520.40 516.90 L521.15 516.87 L521.90 516.85 L522.65 516.91 L523.40 517.04 L524.15 517.08 L524.90 516.94 L525.65 516.76 L526.40 516.77 L527.15 516.95 L527.90 517.08 L528.65 517.06 L529.40 517.00 L530.15 516.98 L530.90 517.09" stroke="#2a88bc" stroke-width="2.05"/>
</g>
<g id="guides">
<path d="M171.8 57.0 L171.0 370.0 L172.0 460.0 L172.6 519.0" fill="none" stroke="#111" stroke-width="1.40" stroke-dasharray="1.5 1.5"/>
<path d="M229.9 57.0 L229.2 370.0 L231.0 460.0 L231.0 519.0" fill="none" stroke="#111" stroke-width="1.40" stroke-dasharray="1.5 1.5"/>
<path d="M245.7 58.0 L245.2 370.0 L246.6 460.0 L247.0 519.0" fill="none" stroke="#111" stroke-width="1.40" stroke-dasharray="1.5 1.5"/>
<path d="M279.0 63.0 L279.0 370.0 L280.0 460.0 L281.0 519.0" fill="none" stroke="#111" stroke-width="1.40" stroke-dasharray="1.5 1.5"/>
<path d="M334.9 64.0 L334.6 370.0 L336.0 460.0 L336.6 519.0" fill="none" stroke="#111" stroke-width="1.40" stroke-dasharray="1.5 1.5"/>
<path d="M364.1 64.0 L365.4 370.0 L366.4 460.0 L366.4 519.0" fill="none" stroke="#111" stroke-width="1.40" stroke-dasharray="1.5 1.5"/>
<path d="M388.3 66.0 L387.6 370.0 L388.6 460.0 L388.6 519.0" fill="none" stroke="#111" stroke-width="1.40" stroke-dasharray="1.5 1.5"/>
<path d="M418.3 65.0 L418.6 370.0 L420.0 460.0 L420.4 519.0" fill="none" stroke="#111" stroke-width="1.40" stroke-dasharray="1.5 1.5"/>
<path d="M428.5 65.0 L429.0 370.0 L430.4 460.0 L430.4 519.0" fill="none" stroke="#111" stroke-width="1.40" stroke-dasharray="1.5 1.5"/>
<path d="M479.2 67.0 L480.6 370.0 L481.6 460.0 L482.0 519.0" fill="none" stroke="#111" stroke-width="1.40" stroke-dasharray="1.5 1.5"/>
<path d="M503.6 67.0 L503.6 370.0 L504.0 460.0 L504.4 520.0" fill="none" stroke="#111" stroke-width="1.40" stroke-dasharray="1.5 1.5"/>
<path d="M105.3 62.0 L105.0 404.0 L103.4 413.0 L103.6 440.0 L105.0 520.0" fill="none" stroke="#1c1cf0" stroke-width="1.40" stroke-dasharray="1.5 1.5"/>
<path d="M238.0 64.0 L237.5 150.0 L236.2 330.0 L236.0 400.0 L235.6 460.0 L236.0 520.0" fill="none" stroke="#1c1cf0" stroke-width="1.40" stroke-dasharray="1.5 1.5"/>
<path d="M290.4 63.0 L290.2 150.0 L289.7 330.0 L290.0 370.0 L288.0 460.0 L285.6 520.0" fill="none" stroke="#1c1cf0" stroke-width="1.40" stroke-dasharray="1.5 1.5"/>
<path d="M349.6 66.0 L349.0 370.0 L347.6 460.0 L345.6 520.0" fill="none" stroke="#1c1cf0" stroke-width="1.40" stroke-dasharray="1.5 1.5"/>
<path d="M153.6 57.0 L153.2 116.0" fill="none" stroke="#f5821f" stroke-width="1.40" stroke-dasharray="1.5 1.5"/>
<path d="M255.0 58.0 L255.4 116.7" fill="none" stroke="#f5821f" stroke-width="1.40" stroke-dasharray="1.5 1.5"/>
<path d="M187.9 62.5 L187.4 339.5" fill="none" stroke="#ff14e6" stroke-width="1.40" stroke-dasharray="1.5 1.5"/>
<path d="M152.6 370.0 L152.4 381.0" fill="none" stroke="#ff14e6" stroke-width="1.40" stroke-dasharray="1.5 1.5"/>
<path d="M225.3 153.6 L225.3 204.0" fill="none" stroke="#f01482" stroke-width="1.40" stroke-dasharray="1.5 1.5"/>
<path d="M130.8 400.0 L132.0 460.0 L133.6 519.0" fill="none" stroke="#8a7f14" stroke-width="1.40" stroke-dasharray="1.5 1.5"/>
<path d="M179.6 416.0 L181.0 460.0 L181.6 519.0" fill="none" stroke="#8a7f14" stroke-width="1.40" stroke-dasharray="1.5 1.5"/>
<path d="M224.4 416.0 L226.0 460.0 L226.6 519.0" fill="none" stroke="#8a7f14" stroke-width="1.40" stroke-dasharray="1.5 1.5"/>
<path d="M251.6 417.0 L253.0 460.0 L253.6 519.0" fill="none" stroke="#8a7f14" stroke-width="1.40" stroke-dasharray="1.5 1.5"/>
<path d="M256.4 417.0 L257.0 460.0 L257.6 519.0" fill="none" stroke="#8a7f14" stroke-width="1.40" stroke-dasharray="1.5 1.5"/>
<path d="M129.2 416.0 L130.0 460.0 L131.4 519.0" fill="none" stroke="#169092" stroke-width="1.40" stroke-dasharray="1.5 1.5"/>
<path d="M147.0 416.0 L148.6 519.0" fill="none" stroke="#169092" stroke-width="1.40" stroke-dasharray="1.5 1.5"/>
<path d="M151.0 416.0 L153.0 519.0" fill="none" stroke="#169092" stroke-width="1.40" stroke-dasharray="1.5 1.5"/>
<path d="M163.6 416.0 L165.0 460.0 L165.4 519.0" fill="none" stroke="#169092" stroke-width="1.40" stroke-dasharray="1.5 1.5"/>
<path d="M190.0 416.0 L191.0 460.0 L192.0 519.0" fill="none" stroke="#169092" stroke-width="1.40" stroke-dasharray="1.5 1.5"/>
<path d="M206.0 416.0 L207.4 460.0 L208.0 519.0" fill="none" stroke="#169092" stroke-width="1.40" stroke-dasharray="1.5 1.5"/>
<path d="M214.4 417.0 L215.6 460.0 L216.0 519.0" fill="none" stroke="#169092" stroke-width="1.40" stroke-dasharray="1.5 1.5"/>
<path d="M239.0 421.5 L239.3 480.0 L240.4 519.0" fill="none" stroke="#169092" stroke-width="1.40" stroke-dasharray="1.5 1.5"/>
<path d="M262.0 421.0 L263.0 460.0 L263.6 519.0" fill="none" stroke="#169092" stroke-width="1.40" stroke-dasharray="1.5 1.5"/>
<path d="M266.0 421.0 L267.0 460.0 L267.6 519.0" fill="none" stroke="#169092" stroke-width="1.40" stroke-dasharray="1.5 1.5"/>
<path d="M133.6 64.7 L133.6 73.8" fill="none" stroke="#19e6f0" stroke-width="1.40" stroke-dasharray="1.5 1.5"/>
<path d="M146.3 64.7 L146.3 74.4" fill="none" stroke="#0f7d14" stroke-width="1.40" stroke-dasharray="1.5 1.5"/>
<path d="M65.4 470.0 L65.4 487.0" fill="none" stroke="#19e632" stroke-width="1.40" stroke-dasharray="1.5 1.5"/>
<path d="M116.6 473.0 L116.6 518.0" fill="none" stroke="#19e632" stroke-width="1.40" stroke-dasharray="1.5 1.5"/>
<path d="M66.4 510.6 L66.4 514.5" fill="none" stroke="#19e632" stroke-width="1.40" stroke-dasharray="1.5 1.5"/>
</g>
<g font-family='"Liberation Serif","DejaVu Serif",serif' font-weight="bold" font-size="23.3" text-anchor="middle" fill="#000">
<text x="80.1" y="551.3">10</text>
<text x="144.6" y="551.3">20</text>
<text x="209.0" y="551.3">30</text>
<text x="273.5" y="551.3">40</text>
<text x="337.9" y="551.3">50</text>
<text x="402.4" y="551.3">60</text>
<text x="466.9" y="551.3">70</text>
<text x="531.3" y="551.3">80</text>
</g>
<text x="289.4" y="583.1" font-family='"Liberation Serif","DejaVu Serif",serif' font-weight="bold" font-size="26.2" text-anchor="middle" fill="#000">2θ (degrees)</text>
<text transform="translate(27.7 271.3) rotate(-90) scale(0.953 1)" font-family='"Liberation Serif","DejaVu Serif",serif' font-weight="bold" font-size="29.8" text-anchor="middle" fill="#000">Intensity (a.u.)</text>
<g font-family='"Liberation Serif","DejaVu Serif",serif' font-size="11.9">
<text x="55.2" y="58.9" fill="#3f62dc" font-weight="bold">RM120</text>
<text x="55.2" y="102.2" fill="#f0861e" font-weight="bold">RM300</text>
<text x="55.2" y="144.1" fill="#1f9c5e" font-weight="normal">RM350</text>
<text x="55.2" y="189.2" fill="#ee426c" font-weight="bold">RM400</text>
<text x="55.2" y="232.9" fill="#8954cb" font-weight="bold">RM500</text>
<text x="55.2" y="276.9" fill="#1cb7ec" font-weight="bold">RM600</text>
<text x="55.2" y="319.6" fill="#eeaa0c" font-weight="bold">RM700</text>
<text x="55.2" y="364.3" fill="#27b025" font-weight="bold">RM800</text>
<text x="55.2" y="407.7" fill="#f04c92" font-weight="bold">RM900</text>
<text x="55.2" y="454.7" fill="#8763ea" font-weight="bold">RM1000</text>
<text x="55.2" y="501.1" fill="#2a88bc" font-weight="bold">RM1100</text>
</g>
<g font-family='"Liberation Serif","DejaVu Serif",serif' font-weight="bold" font-size="11.4" fill="#000">
<text x="78.6" y="23.8">Fe<tspan font-size="8.35" dy="3">2</tspan><tspan dy="-3">O</tspan><tspan font-size="8.35" dy="3">3</tspan></text>
<text x="153.9" y="23.8">Na<tspan font-size="8.35" dy="3">7.88</tspan><tspan dy="-3">(Al</tspan><tspan font-size="8.35" dy="3">6</tspan><tspan dy="-3">Si</tspan><tspan font-size="8.35" dy="3">6</tspan><tspan dy="-3">O</tspan><tspan font-size="8.35" dy="3">24</tspan><tspan dy="-3">)(CO</tspan><tspan font-size="8.35" dy="3">3</tspan><tspan dy="-3">)</tspan><tspan font-size="8.35" dy="3">0.93</tspan></text>
<text x="301.8" y="23.8">SiO<tspan font-size="8.35" dy="3">2</tspan></text>
<text x="361.4" y="23.8">Na<tspan font-size="8.35" dy="3">6.65</tspan><tspan dy="-3">Al</tspan><tspan font-size="8.35" dy="3">6.24</tspan><tspan dy="-3">Si</tspan><tspan font-size="8.35" dy="3">9.76</tspan><tspan dy="-3">O</tspan><tspan font-size="8.35" dy="3">32</tspan></text>
<text x="479.2" y="23.8">Al(OH)<tspan font-size="8.35" dy="3">3</tspan></text>
<text x="84" y="40.6">FeOOH</text>
<text x="150.8" y="40.5">VO<tspan font-size="8.35" dy="3">2</tspan></text>
<text x="300.7" y="40.5">Fe<tspan font-size="8.35" dy="3">2</tspan><tspan dy="-3">TiO</tspan><tspan font-size="8.35" dy="3">5</tspan></text>
<text x="364.3" y="40.5">NaAl<tspan font-size="8.35" dy="3">11</tspan><tspan dy="-3">O</tspan><tspan font-size="8.35" dy="3">17</tspan></text>
<text x="480.7" y="40.5">FeTiO<tspan font-size="8.35" dy="3">3</tspan></text>
<text x="202.3" y="54.6" font-size="11">(104)</text>
</g>
<g id="markers">
<text transform="translate(72.00 23.80) scale(1.158 1)" font-family='"DejaVu Sans","Liberation Sans",sans-serif' font-size="8.65" text-anchor="middle" fill="#000">♠</text>
<text transform="translate(146.90 23.40) scale(0.984 1)" font-family='"DejaVu Sans","Liberation Sans",sans-serif' font-size="9.34" text-anchor="middle" fill="#0a14ff">♥</text>
<text transform="translate(295.40 24.10) scale(1.023 1)" font-family='"DejaVu Sans","Liberation Sans",sans-serif' font-size="10.16" text-anchor="middle" fill="#ff14e6">♣</text>
<polygon points="355.0,16.7 357.6,20.3 355.0,23.9 352.4,20.3" fill="#12888a"/>
<circle cx="472.5" cy="20.3" r="2.5" fill="#19e6f0"/>
<polygon points="74.7,33.3 78.8,40.9 70.6,40.9" fill="#f5821f"/>
<rect x="141.8" y="35.9" width="5.3" height="5.3" fill="#0f8512"/>
<polygon points="292.80,34.10 293.93,36.57 296.40,37.70 293.93,38.83 292.80,41.30 291.67,38.83 289.20,37.70 291.67,36.57" fill="#8a7f14"/>
<polygon points="356.20,34.10 357.11,36.55 359.72,36.66 357.67,38.28 358.37,40.79 356.20,39.35 354.03,40.79 354.73,38.28 352.68,36.66 355.29,36.55" fill="#19e632"/>
<polygon points="473.30,34.30 474.10,35.56 475.56,35.24 475.24,36.70 476.50,37.50 475.24,38.30 475.56,39.76 474.10,39.44 473.30,40.70 472.50,39.44 471.04,39.76 471.36,38.30 470.10,37.50 471.36,36.70 471.04,35.24 472.50,35.56" fill="#f01482"/>
<text transform="translate(172.30 56.60) scale(1.187 1)" font-family='"DejaVu Sans","Liberation Sans",sans-serif' font-size="9.89" text-anchor="middle" fill="#000">♠</text>
<text transform="translate(230.00 56.00) scale(1.187 1)" font-family='"DejaVu Sans","Liberation Sans",sans-serif' font-size="9.89" text-anchor="middle" fill="#000">♠</text>
<text transform="translate(245.80 56.90) scale(1.187 1)" font-family='"DejaVu Sans","Liberation Sans",sans-serif' font-size="9.89" text-anchor="middle" fill="#000">♠</text>
<text transform="translate(279.30 60.60) scale(1.187 1)" font-family='"DejaVu Sans","Liberation Sans",sans-serif' font-size="9.89" text-anchor="middle" fill="#000">♠</text>
<text transform="translate(334.80 61.60) scale(1.187 1)" font-family='"DejaVu Sans","Liberation Sans",sans-serif' font-size="9.89" text-anchor="middle" fill="#000">♠</text>
<text transform="translate(364.00 62.40) scale(1.187 1)" font-family='"DejaVu Sans","Liberation Sans",sans-serif' font-size="9.89" text-anchor="middle" fill="#000">♠</text>
<text transform="translate(388.30 64.50) scale(1.187 1)" font-family='"DejaVu Sans","Liberation Sans",sans-serif' font-size="9.89" text-anchor="middle" fill="#000">♠</text>
<text transform="translate(418.80 63.50) scale(1.187 1)" font-family='"DejaVu Sans","Liberation Sans",sans-serif' font-size="9.89" text-anchor="middle" fill="#000">♠</text>
<text transform="translate(428.50 63.50) scale(1.187 1)" font-family='"DejaVu Sans","Liberation Sans",sans-serif' font-size="9.89" text-anchor="middle" fill="#000">♠</text>
<text transform="translate(479.50 65.20) scale(1.187 1)" font-family='"DejaVu Sans","Liberation Sans",sans-serif' font-size="9.89" text-anchor="middle" fill="#000">♠</text>
<text transform="translate(503.70 65.20) scale(1.187 1)" font-family='"DejaVu Sans","Liberation Sans",sans-serif' font-size="9.89" text-anchor="middle" fill="#000">♠</text>
<text transform="translate(105.50 58.45) scale(0.960 1)" font-family='"DejaVu Sans","Liberation Sans",sans-serif' font-size="10.30" text-anchor="middle" fill="#0a14ff">♥</text>
<text transform="translate(238.00 63.45) scale(0.960 1)" font-family='"DejaVu Sans","Liberation Sans",sans-serif' font-size="10.30" text-anchor="middle" fill="#0a14ff">♥</text>
<text transform="translate(290.70 62.15) scale(0.960 1)" font-family='"DejaVu Sans","Liberation Sans",sans-serif' font-size="10.30" text-anchor="middle" fill="#0a14ff">♥</text>
<text transform="translate(349.90 64.85) scale(0.960 1)" font-family='"DejaVu Sans","Liberation Sans",sans-serif' font-size="10.30" text-anchor="middle" fill="#0a14ff">♥</text>
<text transform="translate(187.60 61.00) scale(1.110 1)" font-family='"DejaVu Sans","Liberation Sans",sans-serif' font-size="10.44" text-anchor="middle" fill="#ff14e6">♣</text>
<text transform="translate(152.60 368.50) scale(1.110 1)" font-family='"DejaVu Sans","Liberation Sans",sans-serif' font-size="10.44" text-anchor="middle" fill="#ff14e6">♣</text>
<circle cx="133.5" cy="58.1" r="3.5" fill="#19e6f0"/>
<rect x="143.4" y="56.3" width="5.9" height="5.9" fill="#0f7d14"/>
<polygon points="153.9,48.8 157.4,55.8 150.4,55.8" fill="#f5821f"/>
<polygon points="255.0,50.3 258.4,57.1 251.6,57.1" fill="#f5821f"/>
<polygon points="224.30,144.40 225.03,146.74 227.20,145.60 226.06,147.77 228.40,148.50 226.06,149.23 227.20,151.40 225.03,150.26 224.30,152.60 223.57,150.26 221.40,151.40 222.54,149.23 220.20,148.50 222.54,147.77 221.40,145.60 223.57,146.74" fill="#f01482"/>
<polygon points="129.6,405.0 132.4,409.2 129.6,413.4 126.8,409.2" fill="#12888a"/>
<polygon points="148.5,405.0 151.3,409.2 148.5,413.4 145.7,409.2" fill="#12888a"/>
<polygon points="163.7,405.6 166.5,409.8 163.7,414.0 160.9,409.8" fill="#12888a"/>
<polygon points="190.0,405.6 192.8,409.8 190.0,414.0 187.2,409.8" fill="#12888a"/>
<polygon points="206.4,405.6 209.2,409.8 206.4,414.0 203.6,409.8" fill="#12888a"/>
<polygon points="214.4,406.8 217.2,411.0 214.4,415.2 211.6,411.0" fill="#12888a"/>
<polygon points="239.9,404.6 242.7,408.8 239.9,413.0 237.1,408.8" fill="#12888a"/>
<polygon points="264.4,405.3 267.2,409.5 264.4,413.7 261.6,409.5" fill="#12888a"/>
<polygon points="130.60,388.90 131.87,391.33 134.30,392.60 131.87,393.87 130.60,396.30 129.33,393.87 126.90,392.60 129.33,391.33" fill="#857a12"/>
<polygon points="179.60,405.30 180.87,407.73 183.30,409.00 180.87,410.27 179.60,412.70 178.33,410.27 175.90,409.00 178.33,407.73" fill="#857a12"/>
<polygon points="223.60,405.90 224.87,408.33 227.30,409.60 224.87,410.87 223.60,413.30 222.33,410.87 219.90,409.60 222.33,408.33" fill="#857a12"/>
<polygon points="253.60,407.30 254.87,409.73 257.30,411.00 254.87,412.27 253.60,414.70 252.33,412.27 249.90,411.00 252.33,409.73" fill="#857a12"/>
<polygon points="65.40,462.70 66.31,465.15 68.92,465.26 66.87,466.88 67.57,469.39 65.40,467.95 63.23,469.39 63.93,466.88 61.88,465.26 64.49,465.15" fill="#19e632"/>
<polygon points="116.60,465.30 117.51,467.75 120.12,467.86 118.07,469.48 118.77,471.99 116.60,470.55 114.43,471.99 115.13,469.48 113.08,467.86 115.69,467.75" fill="#19e632"/>
<polygon points="66.40,503.30 67.31,505.75 69.92,505.86 67.87,507.48 68.57,509.99 66.40,508.55 64.23,509.99 64.93,507.48 62.88,505.86 65.49,505.75" fill="#19e632"/>
</g>
</svg>
</body></html>
